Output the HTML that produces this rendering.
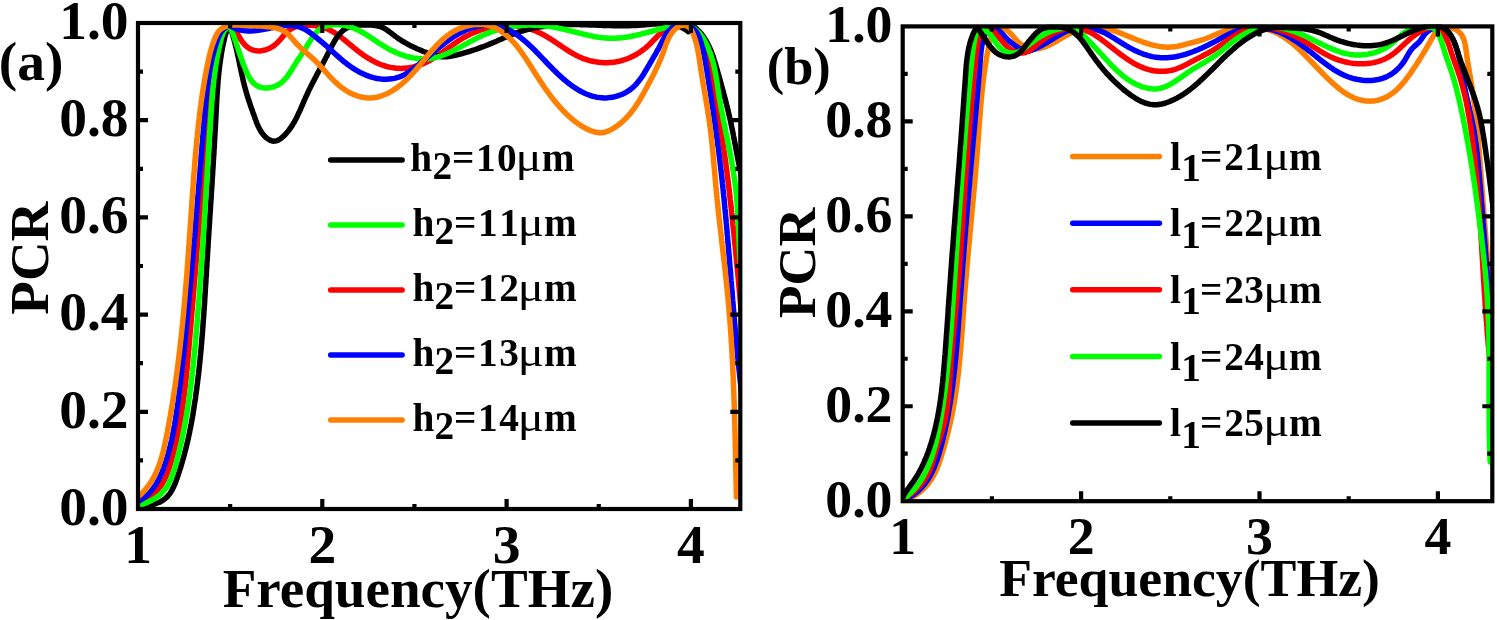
<!DOCTYPE html>
<html><head><meta charset="utf-8"><title>PCR</title>
<style>html,body{margin:0;padding:0;background:#fff;overflow:hidden;width:1497px;height:620px;} svg{display:block;}</style></head>
<body><svg width="1497" height="620" viewBox="0 0 1497 620">
<rect width="1497" height="620" fill="#fff"/>
<defs><clipPath id="ca"><rect x="138.0" y="21.0" width="602.3" height="488.0"/></clipPath><clipPath id="cb"><rect x="902.7" y="24.4" width="589.5999999999999" height="476.8"/></clipPath></defs>
<path d="M138.0,503.5 L139.3,503.0 L140.6,502.5 L141.9,502.0 L143.2,501.4 L144.5,500.7 L145.7,500.0 L146.9,499.3 L148.1,498.6 L149.3,497.8 L150.4,496.9 L151.5,496.0 L152.6,495.1 L153.7,494.2 L154.7,493.2 L155.7,492.2 L156.6,491.2 L157.6,490.2 L158.5,489.1 L159.3,488.0 L160.1,486.9 L160.9,485.8 L161.7,484.6 L162.4,483.4 L163.1,482.2 L163.7,481.0 L164.4,479.8 L165.0,478.6 L165.6,477.3 L166.1,476.0 L166.7,474.7 L167.2,473.5 L167.7,472.1 L168.2,470.8 L168.6,469.5 L169.1,468.2 L169.5,466.8 L170.0,465.5 L170.4,464.2 L170.8,462.8 L171.2,461.5 L171.5,460.1 L171.9,458.7 L172.3,457.4 L172.7,456.0 L173.0,454.7 L173.4,453.3 L173.7,452.0 L174.1,450.6 L174.4,449.2 L174.8,447.9 L175.1,446.5 L175.4,445.1 L175.7,443.8 L176.0,442.4 L176.4,441.0 L176.7,439.7 L177.0,438.3 L177.2,436.9 L177.5,435.6 L177.8,434.2 L178.1,432.8 L178.4,431.4 L178.6,430.1 L178.9,428.7 L179.2,427.3 L179.4,425.9 L179.7,424.6 L179.9,423.2 L180.2,421.8 L180.4,420.4 L180.6,419.0 L180.9,417.7 L181.1,416.3 L181.3,414.9 L181.5,413.5 L181.8,412.1 L182.0,410.8 L182.2,409.4 L182.4,408.0 L182.6,406.6 L182.8,405.2 L183.0,403.8 L183.2,402.5 L183.4,401.1 L183.5,399.7 L183.7,398.3 L183.9,396.9 L184.1,395.5 L184.3,394.1 L184.4,392.7 L184.6,391.4 L184.8,390.0 L184.9,388.6 L185.1,387.2 L185.2,385.8 L185.4,384.4 L185.6,383.0 L185.7,381.6 L185.9,380.2 L186.0,378.8 L186.2,377.5 L186.3,376.1 L186.4,374.7 L186.6,373.3 L186.7,371.9 L186.9,370.5 L187.0,369.1 L187.1,367.7 L187.3,366.3 L187.4,364.9 L187.5,363.5 L187.6,362.1 L187.8,360.7 L187.9,359.3 L188.0,357.9 L188.1,356.5 L188.3,355.2 L188.4,353.8 L188.5,352.4 L188.6,351.0 L188.8,349.6 L188.9,348.2 L189.0,346.8 L189.1,345.4 L189.2,344.0 L189.4,342.6 L189.5,341.2 L189.6,339.8 L189.7,338.4 L189.8,337.0 L189.9,335.6 L190.1,334.2 L190.2,332.8 L190.3,331.4 L190.4,330.1 L190.5,328.7 L190.6,327.3 L190.8,325.9 L190.9,324.5 L191.0,323.1 L191.1,321.7 L191.2,320.3 L191.4,318.9 L191.5,317.5 L191.6,316.1 L191.7,314.7 L191.8,313.3 L191.9,311.9 L192.1,310.5 L192.2,309.2 L192.3,307.8 L192.4,306.4 L192.5,305.0 L192.6,303.6 L192.8,302.2 L192.9,300.8 L193.0,299.4 L193.1,298.0 L193.2,296.6 L193.3,295.2 L193.5,293.8 L193.6,292.4 L193.7,291.0 L193.8,289.7 L193.9,288.3 L194.0,286.9 L194.1,285.5 L194.3,284.1 L194.4,282.7 L194.5,281.3 L194.6,279.9 L194.7,278.5 L194.8,277.1 L195.0,275.7 L195.1,274.3 L195.2,272.9 L195.3,271.5 L195.4,270.2 L195.5,268.8 L195.6,267.4 L195.8,266.0 L195.9,264.6 L196.0,263.2 L196.1,261.8 L196.2,260.4 L196.3,259.0 L196.4,257.6 L196.6,256.2 L196.7,254.8 L196.8,253.4 L196.9,252.1 L197.0,250.7 L197.1,249.3 L197.2,247.9 L197.3,246.5 L197.5,245.1 L197.6,243.7 L197.7,242.3 L197.8,240.9 L197.9,239.5 L198.0,238.1 L198.1,236.7 L198.2,235.3 L198.4,233.9 L198.5,232.6 L198.6,231.2 L198.7,229.8 L198.8,228.4 L198.9,227.0 L199.0,225.6 L199.1,224.2 L199.3,222.8 L199.4,221.4 L199.5,220.0 L199.6,218.6 L199.7,217.2 L199.8,215.8 L199.9,214.4 L200.0,213.1 L200.1,211.7 L200.3,210.3 L200.4,208.9 L200.5,207.5 L200.6,206.1 L200.7,204.7 L200.8,203.3 L200.9,201.9 L201.0,200.5 L201.1,199.1 L201.2,197.7 L201.4,196.3 L201.5,194.9 L201.6,193.5 L201.7,192.1 L201.8,190.7 L201.9,189.4 L202.0,188.0 L202.1,186.6 L202.2,185.2 L202.3,183.8 L202.4,182.4 L202.6,181.0 L202.7,179.6 L202.8,178.2 L202.9,176.8 L203.0,175.4 L203.1,174.0 L203.2,172.6 L203.3,171.2 L203.4,169.8 L203.5,168.4 L203.6,167.0 L203.7,165.6 L203.8,164.2 L203.9,162.8 L204.1,161.4 L204.2,160.0 L204.3,158.6 L204.4,157.2 L204.5,155.8 L204.6,154.5 L204.7,153.1 L204.8,151.7 L204.9,150.3 L205.0,148.9 L205.1,147.5 L205.2,146.1 L205.3,144.7 L205.4,143.3 L205.5,141.9 L205.6,140.5 L205.7,139.1 L205.8,137.7 L205.9,136.3 L206.1,134.9 L206.2,133.5 L206.3,132.1 L206.4,130.7 L206.5,129.3 L206.6,127.9 L206.7,126.5 L206.8,125.1 L206.9,123.7 L207.0,122.3 L207.1,120.9 L207.2,119.5 L207.3,118.1 L207.4,116.7 L207.5,115.3 L207.6,113.9 L207.7,112.5 L207.8,111.1 L207.9,109.7 L208.0,108.3 L208.1,106.9 L208.2,105.5 L208.3,104.1 L208.4,102.7 L208.6,101.3 L208.7,99.9 L208.8,98.5 L208.9,97.1 L209.0,95.7 L209.2,94.3 L209.3,92.9 L209.4,91.5 L209.6,90.1 L209.7,88.7 L209.9,87.3 L210.0,85.9 L210.2,84.5 L210.3,83.1 L210.5,81.7 L210.6,80.4 L210.8,79.0 L211.0,77.6 L211.2,76.2 L211.4,74.8 L211.6,73.4 L211.8,72.1 L212.0,70.7 L212.2,69.3 L212.4,67.9 L212.7,66.6 L212.9,65.2 L213.2,63.8 L213.4,62.5 L213.7,61.1 L213.9,59.7 L214.2,58.4 L214.5,57.0 L214.8,55.6 L215.1,54.3 L215.4,52.9 L215.8,51.6 L216.1,50.2 L216.4,48.9 L216.8,47.6 L217.2,46.2 L217.5,44.9 L217.9,43.6 L218.3,42.2 L218.7,40.9 L219.1,39.6 L219.6,38.2 L220.1,36.9 L220.6,35.6 L221.1,34.4 L221.7,33.2 L222.4,32.0 L223.2,30.8 L224.1,29.7 L225.1,28.6 L226.2,27.7 L227.4,26.7 L228.8,25.9 L230.1,25.8 L231.3,26.6 L232.4,27.4 L233.4,28.4 L234.4,29.3 L235.2,30.4 L236.0,31.5 L236.8,32.7 L237.5,33.9 L238.2,35.1 L238.9,36.3 L239.6,37.6 L240.4,38.8 L241.2,40.1 L242.0,41.3 L242.9,42.5 L243.8,43.6 L244.8,44.7 L245.8,45.7 L246.9,46.7 L248.0,47.5 L249.1,48.3 L250.3,49.0 L251.6,49.6 L252.8,50.0 L254.1,50.4 L255.4,50.6 L256.8,50.8 L258.1,50.9 L259.5,50.9 L260.9,50.8 L262.2,50.6 L263.6,50.3 L265.0,50.0 L266.3,49.6 L267.7,49.1 L269.0,48.5 L270.3,47.9 L271.5,47.2 L272.8,46.4 L274.0,45.6 L275.1,44.7 L276.2,43.7 L277.3,42.7 L278.3,41.7 L279.3,40.6 L280.3,39.5 L281.2,38.4 L282.2,37.3 L283.1,36.2 L284.0,35.2 L285.0,34.1 L285.9,33.1 L286.9,32.1 L287.9,31.2 L289.0,30.3 L290.1,29.6 L291.2,28.8 L292.4,28.2 L293.6,27.6 L294.8,27.1 L296.1,26.7 L297.4,26.3 L298.8,26.0 L300.1,25.8 L301.5,25.5 L302.9,25.4 L304.3,25.3 L305.7,25.2 L307.2,25.2 L308.6,25.2 L310.1,25.2 L311.5,25.3 L313.0,25.4 L314.4,25.5 L315.8,25.7 L317.3,25.9 L318.7,26.2 L320.0,26.5 L321.4,26.8 L322.7,27.2 L324.1,27.6 L325.3,28.1 L326.6,28.6 L327.9,29.1 L329.1,29.7 L330.3,30.3 L331.5,31.0 L332.7,31.6 L333.9,32.3 L335.1,33.1 L336.2,33.8 L337.4,34.6 L338.5,35.4 L339.6,36.2 L340.7,37.0 L341.8,37.9 L342.9,38.7 L344.0,39.6 L345.1,40.5 L346.2,41.4 L347.3,42.3 L348.4,43.2 L349.5,44.1 L350.6,45.0 L351.7,45.9 L352.7,46.8 L353.8,47.7 L354.9,48.6 L356.1,49.5 L357.2,50.4 L358.3,51.3 L359.4,52.1 L360.6,53.0 L361.7,53.8 L362.9,54.7 L364.0,55.5 L365.2,56.3 L366.4,57.0 L367.6,57.8 L368.8,58.5 L370.0,59.2 L371.2,59.9 L372.4,60.6 L373.7,61.3 L374.9,61.9 L376.2,62.5 L377.4,63.1 L378.7,63.7 L380.0,64.2 L381.3,64.7 L382.6,65.2 L383.9,65.6 L385.2,66.0 L386.5,66.4 L387.8,66.8 L389.2,67.1 L390.5,67.4 L391.9,67.6 L393.3,67.8 L394.7,68.0 L396.1,68.2 L397.5,68.3 L398.9,68.3 L400.3,68.4 L401.7,68.4 L403.1,68.3 L404.6,68.2 L406.0,68.1 L407.4,68.0 L408.9,67.8 L410.3,67.5 L411.7,67.3 L413.1,67.0 L414.5,66.6 L415.9,66.3 L417.2,65.9 L418.6,65.4 L419.9,65.0 L421.2,64.5 L422.5,64.0 L423.8,63.4 L425.0,62.8 L426.3,62.2 L427.5,61.6 L428.8,61.0 L430.0,60.3 L431.2,59.6 L432.4,58.9 L433.6,58.2 L434.7,57.4 L435.9,56.7 L437.1,55.9 L438.2,55.1 L439.4,54.3 L440.5,53.5 L441.7,52.7 L442.8,51.9 L443.9,51.1 L445.1,50.3 L446.2,49.5 L447.3,48.6 L448.5,47.8 L449.6,47.0 L450.8,46.2 L451.9,45.4 L453.1,44.5 L454.2,43.7 L455.4,42.9 L456.5,42.2 L457.7,41.4 L458.9,40.6 L460.1,39.9 L461.2,39.1 L462.5,38.4 L463.7,37.7 L464.9,37.0 L466.1,36.3 L467.4,35.7 L468.6,35.1 L469.9,34.4 L471.1,33.8 L472.4,33.2 L473.7,32.7 L475.0,32.1 L476.3,31.6 L477.6,31.1 L478.9,30.6 L480.2,30.1 L481.5,29.7 L482.8,29.3 L484.2,28.9 L485.5,28.5 L486.8,28.1 L488.2,27.8 L489.6,27.4 L490.9,27.1 L492.3,26.9 L493.6,26.6 L495.0,26.4 L496.4,26.2 L497.8,26.0 L499.2,25.8 L500.6,25.7 L502.0,25.6 L503.4,25.5 L504.8,25.5 L506.2,25.5 L507.6,25.5 L509.0,25.5 L510.4,25.5 L511.8,25.6 L513.2,25.7 L514.6,25.8 L516.0,26.0 L517.4,26.2 L518.8,26.4 L520.2,26.6 L521.6,26.9 L523.0,27.1 L524.3,27.4 L525.7,27.8 L527.1,28.1 L528.4,28.5 L529.8,28.9 L531.1,29.4 L532.4,29.8 L533.7,30.3 L535.0,30.8 L536.3,31.3 L537.6,31.9 L538.9,32.5 L540.1,33.0 L541.4,33.7 L542.6,34.3 L543.8,35.0 L545.0,35.6 L546.2,36.3 L547.4,37.0 L548.6,37.8 L549.8,38.5 L551.0,39.2 L552.1,40.0 L553.3,40.8 L554.5,41.5 L555.6,42.3 L556.8,43.1 L557.9,43.9 L559.1,44.6 L560.3,45.4 L561.4,46.2 L562.6,47.0 L563.8,47.8 L564.9,48.6 L566.1,49.3 L567.3,50.1 L568.5,50.9 L569.7,51.6 L570.9,52.3 L572.1,53.1 L573.3,53.8 L574.5,54.4 L575.8,55.1 L577.0,55.7 L578.3,56.4 L579.5,57.0 L580.8,57.5 L582.1,58.1 L583.4,58.6 L584.7,59.0 L586.0,59.5 L587.4,59.9 L588.7,60.3 L590.1,60.7 L591.4,61.0 L592.8,61.3 L594.2,61.6 L595.6,61.8 L597.0,62.1 L598.3,62.2 L599.7,62.4 L601.1,62.5 L602.5,62.6 L603.9,62.7 L605.3,62.7 L606.7,62.7 L608.1,62.7 L609.5,62.6 L610.9,62.5 L612.3,62.4 L613.7,62.2 L615.1,62.0 L616.4,61.8 L617.8,61.5 L619.2,61.2 L620.5,60.9 L621.9,60.5 L623.2,60.1 L624.6,59.7 L625.9,59.2 L627.2,58.7 L628.5,58.2 L629.8,57.7 L631.1,57.1 L632.4,56.5 L633.6,55.8 L634.9,55.2 L636.1,54.5 L637.3,53.8 L638.5,53.0 L639.7,52.3 L640.9,51.5 L642.0,50.6 L643.2,49.8 L644.3,48.9 L645.4,48.1 L646.5,47.1 L647.5,46.2 L648.6,45.3 L649.6,44.3 L650.6,43.3 L651.6,42.3 L652.5,41.3 L653.5,40.3 L654.5,39.3 L655.5,38.3 L656.4,37.3 L657.4,36.3 L658.4,35.3 L659.4,34.4 L660.5,33.4 L661.5,32.5 L662.6,31.7 L663.7,30.8 L664.8,30.0 L666.0,29.3 L667.2,28.6 L668.5,27.9 L669.8,27.3 L671.1,26.8 L672.5,26.3 L673.8,25.9 L675.2,25.5 L676.6,25.2 L678.1,25.0 L679.5,24.9 L680.9,24.8 L682.3,24.8 L683.7,24.9 L685.1,25.1 L686.5,25.4 L687.8,25.7 L689.1,26.2 L690.3,26.7 L691.5,27.3 L692.7,28.1 L693.8,28.9 L694.8,29.8 L695.8,30.7 L696.7,31.8 L697.5,32.8 L698.4,34.0 L699.1,35.1 L699.8,36.3 L700.5,37.6 L701.2,38.8 L701.8,40.1 L702.3,41.4 L702.9,42.7 L703.4,44.0 L703.9,45.4 L704.3,46.7 L704.8,48.1 L705.2,49.5 L705.6,50.8 L706.0,52.2 L706.4,53.5 L706.8,54.9 L707.2,56.3 L707.6,57.6 L707.9,59.0 L708.3,60.3 L708.6,61.7 L708.9,63.1 L709.2,64.4 L709.6,65.8 L709.9,67.2 L710.2,68.5 L710.4,69.9 L710.7,71.3 L711.0,72.6 L711.3,74.0 L711.5,75.3 L711.8,76.7 L712.1,78.1 L712.3,79.4 L712.6,80.8 L712.8,82.2 L713.1,83.5 L713.3,84.9 L713.5,86.3 L713.8,87.7 L714.0,89.0 L714.3,90.4 L714.5,91.8 L714.7,93.1 L715.0,94.5 L715.2,95.9 L715.4,97.3 L715.7,98.6 L715.9,100.0 L716.2,101.4 L716.4,102.8 L716.6,104.1 L716.9,105.5 L717.1,106.9 L717.4,108.3 L717.6,109.7 L717.8,111.0 L718.1,112.4 L718.3,113.8 L718.5,115.2 L718.8,116.6 L719.0,118.0 L719.2,119.3 L719.5,120.7 L719.7,122.1 L719.9,123.5 L720.2,124.9 L720.4,126.3 L720.6,127.6 L720.8,129.0 L721.0,130.4 L721.3,131.8 L721.5,133.2 L721.7,134.6 L721.9,135.9 L722.1,137.3 L722.3,138.7 L722.5,140.1 L722.7,141.5 L722.9,142.9 L723.2,144.3 L723.4,145.6 L723.6,147.0 L723.8,148.4 L723.9,149.8 L724.1,151.2 L724.3,152.6 L724.5,154.0 L724.7,155.3 L724.9,156.7 L725.1,158.1 L725.3,159.5 L725.5,160.9 L725.7,162.3 L725.8,163.7 L726.0,165.1 L726.2,166.4 L726.4,167.8 L726.6,169.2 L726.8,170.6 L726.9,172.0 L727.1,173.4 L727.3,174.8 L727.5,176.2 L727.6,177.5 L727.8,178.9 L728.0,180.3 L728.1,181.7 L728.3,183.1 L728.5,184.5 L728.6,185.9 L728.8,187.3 L729.0,188.7 L729.1,190.0 L729.3,191.4 L729.5,192.8 L729.6,194.2 L729.8,195.6 L729.9,197.0 L730.1,198.4 L730.2,199.8 L730.4,201.2 L730.6,202.5 L730.7,203.9 L730.9,205.3 L731.0,206.7 L731.2,208.1 L731.3,209.5 L731.5,210.9 L731.6,212.3 L731.8,213.7 L731.9,215.1 L732.1,216.5 L732.2,217.8 L732.4,219.2 L732.5,220.6 L732.7,222.0 L732.8,223.4 L732.9,224.8 L733.1,226.2 L733.2,227.6 L733.4,229.0 L733.5,230.4 L733.7,231.8 L733.8,233.1 L733.9,234.5 L734.1,235.9 L734.2,237.3 L734.4,238.7 L734.5,240.1 L734.6,241.5 L734.8,242.9 L734.9,244.3 L735.1,245.7 L735.2,247.1 L735.3,248.5 L735.5,249.9 L735.6,251.2 L735.8,252.6 L735.9,254.0 L736.0,255.4 L736.2,256.8 L736.3,258.2 L736.4,259.6 L736.6,261.0 L736.7,262.4 L736.8,263.8 L737.0,265.2 L737.1,266.6 L737.2,268.0 L737.4,269.4 L737.5,270.7 L737.6,272.1 L737.8,273.5 L737.9,274.9 L738.0,276.3 L738.2,277.7 L738.3,279.1 L738.4,280.5 L738.6,281.9 L738.7,283.3 L738.8,284.7 L738.9,286.1 L739.1,287.5 L739.2,288.9 L739.3,290.3 L739.4,291.7 L739.6,293.0 L739.7,294.4 L739.8,295.8 L739.9,297.2 L740.1,298.6 L740.2,300.0 L740.3,301.4 L740.4,302.8 L740.6,304.2 L740.7,305.6 L740.8,307.0 L740.9,308.4 L741.0,309.8 L741.2,311.2 L741.3,312.6 L741.4,314.0 L741.5,315.4 L741.6,316.8 L741.8,318.1 L741.9,319.5 L742.0,320.9 L742.1,322.3 L742.2,323.7 L742.3,325.1 L742.4,326.5 L742.6,327.9 L742.7,329.3 L742.8,330.7 L742.9,332.1 L743.0,333.5 L743.1,334.9 L743.2,336.3 L743.3,337.7 L743.4,339.1 L743.6,340.5 L743.7,341.9 L743.8,343.3 L743.9,344.7 L744.0,346.0 L744.1,347.4 L744.2,348.8 L744.3,350.2 L744.4,351.6 L744.5,353.0 L744.6,354.4 L744.7,355.8 L744.8,357.2 L744.9,358.6 L745.0,360.0" stroke="#ff0000" stroke-width="5.5" fill="none" stroke-linejoin="round" stroke-linecap="round" clip-path="url(#ca)"/>
<path d="M138.0,507.0 L139.3,506.9 L140.6,506.8 L142.0,506.6 L143.4,506.4 L144.8,506.2 L146.2,506.0 L147.7,505.8 L149.1,505.5 L150.6,505.2 L152.0,504.8 L153.4,504.4 L154.8,504.0 L156.2,503.5 L157.5,503.0 L158.9,502.5 L160.2,501.9 L161.4,501.2 L162.6,500.5 L163.7,499.7 L164.8,498.9 L165.8,498.0 L166.8,497.1 L167.7,496.2 L168.6,495.1 L169.4,494.1 L170.2,493.0 L170.9,491.9 L171.6,490.7 L172.3,489.5 L172.9,488.3 L173.5,487.0 L174.1,485.8 L174.7,484.5 L175.2,483.2 L175.7,481.9 L176.2,480.5 L176.7,479.2 L177.2,477.9 L177.6,476.5 L178.1,475.2 L178.5,473.8 L179.0,472.5 L179.4,471.1 L179.8,469.8 L180.3,468.4 L180.7,467.1 L181.1,465.7 L181.5,464.4 L181.9,463.0 L182.3,461.7 L182.7,460.3 L183.1,459.0 L183.5,457.6 L183.8,456.3 L184.2,454.9 L184.6,453.5 L184.9,452.2 L185.3,450.8 L185.6,449.5 L186.0,448.1 L186.3,446.7 L186.6,445.4 L187.0,444.0 L187.3,442.7 L187.6,441.3 L187.9,439.9 L188.2,438.6 L188.5,437.2 L188.8,435.8 L189.1,434.5 L189.4,433.1 L189.7,431.7 L189.9,430.4 L190.2,429.0 L190.5,427.6 L190.8,426.2 L191.0,424.9 L191.3,423.5 L191.5,422.1 L191.8,420.8 L192.0,419.4 L192.3,418.0 L192.5,416.6 L192.8,415.3 L193.0,413.9 L193.2,412.5 L193.4,411.1 L193.7,409.7 L193.9,408.4 L194.1,407.0 L194.3,405.6 L194.5,404.2 L194.7,402.9 L194.9,401.5 L195.2,400.1 L195.4,398.7 L195.6,397.3 L195.7,395.9 L195.9,394.6 L196.1,393.2 L196.3,391.8 L196.5,390.4 L196.7,389.0 L196.9,387.6 L197.0,386.3 L197.2,384.9 L197.4,383.5 L197.6,382.1 L197.7,380.7 L197.9,379.3 L198.1,377.9 L198.2,376.6 L198.4,375.2 L198.6,373.8 L198.7,372.4 L198.9,371.0 L199.0,369.6 L199.2,368.2 L199.3,366.8 L199.5,365.4 L199.6,364.1 L199.8,362.7 L199.9,361.3 L200.0,359.9 L200.2,358.5 L200.3,357.1 L200.4,355.7 L200.6,354.3 L200.7,352.9 L200.8,351.5 L201.0,350.1 L201.1,348.7 L201.2,347.3 L201.3,346.0 L201.5,344.6 L201.6,343.2 L201.7,341.8 L201.8,340.4 L201.9,339.0 L202.0,337.6 L202.2,336.2 L202.3,334.8 L202.4,333.4 L202.5,332.0 L202.6,330.6 L202.7,329.2 L202.8,327.8 L202.9,326.4 L203.0,325.0 L203.1,323.6 L203.2,322.2 L203.3,320.8 L203.4,319.4 L203.5,318.0 L203.6,316.6 L203.7,315.3 L203.8,313.9 L203.9,312.5 L204.0,311.1 L204.1,309.7 L204.2,308.3 L204.3,306.9 L204.4,305.5 L204.5,304.1 L204.6,302.7 L204.7,301.3 L204.7,299.9 L204.8,298.5 L204.9,297.1 L205.0,295.7 L205.1,294.3 L205.2,292.9 L205.3,291.5 L205.3,290.1 L205.4,288.7 L205.5,287.3 L205.6,285.9 L205.7,284.5 L205.8,283.1 L205.9,281.7 L205.9,280.3 L206.0,278.9 L206.1,277.5 L206.2,276.1 L206.3,274.7 L206.4,273.3 L206.4,271.9 L206.5,270.5 L206.6,269.1 L206.7,267.7 L206.8,266.3 L206.9,264.9 L206.9,263.5 L207.0,262.1 L207.1,260.7 L207.2,259.3 L207.3,258.0 L207.4,256.6 L207.5,255.2 L207.5,253.8 L207.6,252.4 L207.7,251.0 L207.8,249.6 L207.9,248.2 L208.0,246.8 L208.1,245.4 L208.1,244.0 L208.2,242.6 L208.3,241.2 L208.4,239.8 L208.5,238.4 L208.6,237.0 L208.7,235.6 L208.8,234.2 L208.8,232.8 L208.9,231.4 L209.0,230.0 L209.1,228.7 L209.2,227.3 L209.3,225.9 L209.4,224.5 L209.5,223.1 L209.6,221.7 L209.6,220.3 L209.7,218.9 L209.8,217.5 L209.9,216.1 L210.0,214.7 L210.1,213.3 L210.2,211.9 L210.3,210.5 L210.4,209.1 L210.5,207.7 L210.5,206.3 L210.6,205.0 L210.7,203.6 L210.8,202.2 L210.9,200.8 L211.0,199.4 L211.1,198.0 L211.2,196.6 L211.3,195.2 L211.3,193.8 L211.4,192.4 L211.5,191.0 L211.6,189.6 L211.7,188.2 L211.8,186.8 L211.9,185.4 L212.0,184.0 L212.1,182.6 L212.1,181.3 L212.2,179.9 L212.3,178.5 L212.4,177.1 L212.5,175.7 L212.6,174.3 L212.7,172.9 L212.7,171.5 L212.8,170.1 L212.9,168.7 L213.0,167.3 L213.1,165.9 L213.2,164.5 L213.3,163.1 L213.3,161.7 L213.4,160.3 L213.5,158.9 L213.6,157.5 L213.7,156.1 L213.8,154.7 L213.9,153.3 L213.9,151.9 L214.0,150.6 L214.1,149.2 L214.2,147.8 L214.3,146.4 L214.3,145.0 L214.4,143.6 L214.5,142.2 L214.6,140.8 L214.7,139.4 L214.7,138.0 L214.8,136.6 L214.9,135.2 L215.0,133.8 L215.1,132.4 L215.1,131.0 L215.2,129.6 L215.3,128.2 L215.4,126.8 L215.4,125.4 L215.5,124.0 L215.6,122.6 L215.7,121.2 L215.7,119.8 L215.8,118.4 L215.9,117.0 L216.0,115.6 L216.0,114.2 L216.1,112.8 L216.2,111.4 L216.2,110.0 L216.3,108.6 L216.4,107.2 L216.5,105.8 L216.5,104.4 L216.6,103.0 L216.7,101.6 L216.8,100.2 L216.8,98.8 L216.9,97.4 L217.0,96.0 L217.1,94.6 L217.2,93.2 L217.3,91.8 L217.4,90.4 L217.5,89.0 L217.6,87.6 L217.7,86.2 L217.8,84.8 L217.9,83.4 L218.0,82.0 L218.1,80.6 L218.2,79.2 L218.4,77.8 L218.5,76.4 L218.6,75.0 L218.8,73.6 L218.9,72.2 L219.1,70.8 L219.2,69.4 L219.4,68.1 L219.5,66.7 L219.7,65.3 L219.9,63.9 L220.1,62.5 L220.3,61.1 L220.5,59.8 L220.7,58.4 L220.9,57.0 L221.1,55.6 L221.3,54.2 L221.5,52.9 L221.8,51.5 L222.0,50.1 L222.3,48.8 L222.5,47.4 L222.8,46.0 L223.1,44.7 L223.4,43.3 L223.7,41.9 L224.0,40.6 L224.3,39.2 L224.6,37.9 L224.9,36.5 L225.3,35.2 L225.7,33.8 L226.2,32.5 L226.6,31.2 L227.2,29.9 L227.8,28.6 L228.4,27.4 L229.1,26.1 L230.2,27.5 L230.7,28.8 L231.1,30.1 L231.6,31.4 L232.0,32.8 L232.4,34.1 L232.8,35.4 L233.2,36.8 L233.6,38.1 L234.0,39.5 L234.3,40.8 L234.7,42.2 L235.0,43.5 L235.4,44.9 L235.7,46.3 L236.0,47.6 L236.4,49.0 L236.7,50.4 L237.0,51.7 L237.3,53.1 L237.6,54.5 L237.9,55.9 L238.2,57.2 L238.5,58.6 L238.8,60.0 L239.1,61.4 L239.4,62.7 L239.6,64.1 L239.9,65.5 L240.2,66.9 L240.5,68.2 L240.8,69.6 L241.1,71.0 L241.4,72.4 L241.7,73.7 L242.0,75.1 L242.3,76.5 L242.6,77.8 L242.9,79.2 L243.2,80.6 L243.5,81.9 L243.9,83.3 L244.2,84.6 L244.5,86.0 L244.9,87.3 L245.3,88.7 L245.6,90.0 L246.0,91.3 L246.4,92.7 L246.8,94.0 L247.2,95.3 L247.6,96.6 L248.0,98.0 L248.4,99.3 L248.8,100.6 L249.3,101.9 L249.7,103.2 L250.2,104.5 L250.6,105.9 L251.1,107.2 L251.5,108.5 L252.0,109.8 L252.5,111.1 L252.9,112.5 L253.4,113.8 L253.9,115.1 L254.4,116.4 L254.8,117.8 L255.3,119.1 L255.8,120.4 L256.3,121.8 L256.8,123.1 L257.4,124.4 L257.9,125.7 L258.5,127.0 L259.2,128.3 L259.9,129.6 L260.6,130.9 L261.4,132.1 L262.2,133.3 L263.2,134.5 L264.1,135.6 L265.2,136.7 L266.3,137.7 L267.5,138.6 L268.6,139.4 L269.9,140.1 L271.1,140.6 L272.3,141.0 L273.6,141.2 L274.8,141.1 L276.0,140.9 L277.2,140.6 L278.4,140.0 L279.6,139.4 L280.7,138.6 L281.8,137.7 L282.9,136.8 L284.0,135.7 L285.0,134.7 L286.0,133.6 L287.0,132.5 L287.9,131.4 L288.8,130.3 L289.6,129.2 L290.5,128.0 L291.3,126.8 L292.1,125.6 L292.8,124.4 L293.5,123.2 L294.3,122.0 L294.9,120.8 L295.6,119.5 L296.3,118.2 L296.9,117.0 L297.5,115.7 L298.1,114.4 L298.7,113.1 L299.3,111.9 L299.9,110.6 L300.5,109.3 L301.0,108.0 L301.6,106.7 L302.2,105.4 L302.7,104.1 L303.3,102.8 L303.8,101.5 L304.4,100.2 L305.0,98.9 L305.5,97.7 L306.1,96.4 L306.7,95.1 L307.3,93.9 L307.8,92.6 L308.4,91.4 L309.0,90.1 L309.6,88.9 L310.2,87.7 L310.8,86.4 L311.5,85.2 L312.1,84.0 L312.7,82.7 L313.3,81.5 L314.0,80.3 L314.6,79.1 L315.2,77.9 L315.9,76.6 L316.5,75.4 L317.1,74.2 L317.8,73.0 L318.4,71.8 L319.1,70.5 L319.7,69.3 L320.4,68.1 L321.0,66.8 L321.7,65.6 L322.3,64.4 L323.0,63.1 L323.7,61.9 L324.3,60.6 L325.0,59.4 L325.6,58.1 L326.3,56.9 L327.0,55.6 L327.6,54.3 L328.3,53.0 L328.9,51.7 L329.6,50.4 L330.2,49.1 L330.9,47.8 L331.6,46.5 L332.2,45.2 L332.9,44.0 L333.6,42.7 L334.3,41.4 L335.1,40.2 L335.8,39.0 L336.6,37.8 L337.4,36.7 L338.2,35.6 L339.1,34.5 L340.0,33.5 L340.9,32.5 L341.8,31.6 L342.8,30.7 L343.9,29.9 L345.0,29.1 L346.1,28.4 L347.3,27.8 L348.5,27.3 L349.8,26.8 L351.1,26.4 L352.4,26.0 L353.8,25.7 L355.2,25.5 L356.7,25.3 L358.1,25.1 L359.6,25.0 L361.0,24.9 L362.5,24.9 L364.0,24.9 L365.5,24.9 L366.9,24.9 L368.4,25.0 L369.8,25.0 L371.2,25.1 L372.6,25.2 L374.0,25.3 L375.4,25.5 L376.7,25.7 L378.0,26.0 L379.3,26.3 L380.6,26.7 L381.8,27.2 L383.0,27.7 L384.2,28.4 L385.4,29.0 L386.6,29.8 L387.7,30.6 L388.9,31.4 L390.0,32.3 L391.1,33.1 L392.3,34.0 L393.4,34.9 L394.6,35.8 L395.7,36.6 L396.8,37.4 L398.0,38.3 L399.2,39.1 L400.4,39.8 L401.5,40.6 L402.7,41.3 L403.9,42.0 L405.1,42.7 L406.4,43.4 L407.6,44.1 L408.8,44.8 L410.0,45.4 L411.3,46.0 L412.5,46.6 L413.8,47.2 L415.1,47.8 L416.3,48.4 L417.6,49.0 L418.9,49.5 L420.2,50.1 L421.5,50.6 L422.8,51.2 L424.1,51.7 L425.4,52.2 L426.8,52.7 L428.1,53.2 L429.4,53.7 L430.8,54.2 L432.1,54.6 L433.5,55.0 L434.8,55.4 L436.2,55.8 L437.6,56.1 L438.9,56.3 L440.3,56.5 L441.7,56.7 L443.0,56.7 L444.4,56.8 L445.8,56.7 L447.2,56.7 L448.6,56.5 L450.0,56.3 L451.3,56.1 L452.7,55.9 L454.1,55.6 L455.5,55.3 L456.8,54.9 L458.2,54.6 L459.6,54.2 L461.0,53.9 L462.3,53.5 L463.7,53.1 L465.0,52.7 L466.4,52.3 L467.7,51.9 L469.1,51.5 L470.4,51.1 L471.8,50.6 L473.1,50.2 L474.4,49.8 L475.7,49.3 L477.1,48.9 L478.4,48.4 L479.7,47.9 L481.0,47.4 L482.3,47.0 L483.6,46.5 L484.9,46.0 L486.2,45.5 L487.5,45.0 L488.8,44.4 L490.1,43.9 L491.4,43.4 L492.7,42.8 L494.0,42.3 L495.3,41.7 L496.6,41.2 L497.8,40.6 L499.1,40.0 L500.4,39.5 L501.7,38.9 L503.0,38.3 L504.3,37.8 L505.5,37.2 L506.8,36.7 L508.1,36.1 L509.4,35.6 L510.7,35.1 L512.0,34.6 L513.3,34.0 L514.6,33.6 L515.9,33.1 L517.3,32.6 L518.6,32.1 L519.9,31.7 L521.2,31.3 L522.6,30.9 L523.9,30.5 L525.3,30.1 L526.6,29.7 L528.0,29.4 L529.4,29.1 L530.7,28.7 L532.1,28.4 L533.5,28.1 L534.8,27.9 L536.2,27.6 L537.6,27.3 L539.0,27.1 L540.4,26.9 L541.8,26.7 L543.2,26.4 L544.5,26.3 L545.9,26.1 L547.3,25.9 L548.7,25.8 L550.1,25.6 L551.5,25.5 L552.9,25.3 L554.3,25.2 L555.7,25.1 L557.1,25.0 L558.5,25.0 L559.9,24.9 L561.3,24.8 L562.7,24.8 L564.1,24.7 L565.5,24.7 L566.8,24.6 L568.2,24.6 L569.6,24.6 L571.0,24.6 L572.4,24.6 L573.8,24.6 L575.2,24.6 L576.6,24.6 L578.0,24.6 L579.4,24.6 L580.7,24.7 L582.1,24.7 L583.5,24.7 L584.9,24.8 L586.3,24.8 L587.7,24.8 L589.1,24.9 L590.5,24.9 L591.9,25.0 L593.3,25.0 L594.7,25.1 L596.1,25.1 L597.5,25.2 L598.9,25.2 L600.2,25.3 L601.6,25.3 L603.0,25.4 L604.4,25.4 L605.8,25.5 L607.2,25.5 L608.6,25.6 L610.0,25.6 L611.4,25.6 L612.8,25.7 L614.3,25.7 L615.7,25.7 L617.1,25.8 L618.5,25.8 L619.9,25.8 L621.3,25.8 L622.7,25.8 L624.1,25.8 L625.5,25.8 L627.0,25.7 L628.4,25.7 L629.8,25.7 L631.2,25.6 L632.6,25.6 L634.1,25.5 L635.5,25.5 L636.9,25.4 L638.3,25.3 L639.8,25.2 L641.2,25.1 L642.6,25.0 L644.1,24.9 L645.5,24.7 L646.9,24.6 L648.4,24.5 L649.8,24.4 L651.2,24.2 L652.7,24.1 L654.1,24.0 L655.5,23.9 L656.9,23.8 L658.4,23.8 L659.8,23.7 L661.2,23.7 L662.6,23.7 L664.0,23.7 L665.3,23.8 L666.7,23.9 L668.1,24.0 L669.4,24.1 L670.8,24.3 L672.1,24.5 L673.5,24.7 L674.8,25.0 L676.1,25.4 L677.4,25.8 L678.7,26.2 L679.9,26.7 L681.2,27.2 L682.4,27.8 L683.7,28.5 L684.9,29.2 L686.1,30.0 L687.2,30.8 L688.4,31.7 L689.4,30.1 L690.4,28.6 L691.4,27.1 L692.4,25.5 L693.6,26.4 L694.7,27.3 L695.8,28.2 L696.9,29.1 L697.9,30.1 L698.9,31.1 L699.8,32.1 L700.7,33.2 L701.6,34.2 L702.4,35.3 L703.3,36.4 L704.0,37.5 L704.8,38.7 L705.5,39.8 L706.2,41.0 L706.9,42.2 L707.5,43.4 L708.2,44.6 L708.8,45.9 L709.4,47.1 L709.9,48.4 L710.5,49.6 L711.0,50.9 L711.5,52.2 L712.0,53.5 L712.5,54.8 L712.9,56.1 L713.4,57.4 L713.8,58.8 L714.2,60.1 L714.7,61.5 L715.1,62.8 L715.5,64.1 L715.9,65.5 L716.3,66.9 L716.7,68.2 L717.0,69.6 L717.4,70.9 L717.8,72.3 L718.2,73.6 L718.6,75.0 L719.0,76.3 L719.4,77.7 L719.7,79.0 L720.1,80.4 L720.5,81.8 L720.9,83.1 L721.2,84.5 L721.6,85.8 L722.0,87.2 L722.4,88.5 L722.7,89.9 L723.1,91.2 L723.5,92.6 L723.8,93.9 L724.2,95.3 L724.5,96.6 L724.9,98.0 L725.2,99.3 L725.6,100.7 L725.9,102.0 L726.3,103.4 L726.6,104.7 L727.0,106.1 L727.3,107.5 L727.6,108.8 L728.0,110.2 L728.3,111.5 L728.6,112.9 L728.9,114.2 L729.2,115.6 L729.5,117.0 L729.9,118.3 L730.2,119.7 L730.5,121.0 L730.8,122.4 L731.1,123.8 L731.3,125.1 L731.6,126.5 L731.9,127.8 L732.2,129.2 L732.5,130.6 L732.7,131.9 L733.0,133.3 L733.3,134.7 L733.5,136.0 L733.8,137.4 L734.1,138.8 L734.3,140.2 L734.6,141.5 L734.8,142.9 L735.1,144.3 L735.4,145.6 L735.6,147.0 L735.9,148.4 L736.1,149.8 L736.4,151.1 L736.7,152.5 L736.9,153.9 L737.2,155.2 L737.4,156.6 L737.7,158.0 L738.0,159.3 L738.2,160.7 L738.5,162.1 L738.8,163.5 L739.1,164.8 L739.3,166.2 L739.6,167.6 L739.9,168.9 L740.2,170.3 L740.5,171.7 L740.8,173.0 L741.1,174.4 L741.4,175.8 L741.7,177.1 L742.0,178.5 L742.4,179.8 L742.7,181.2 L743.0,182.6 L743.4,183.9 L743.7,185.3 L744.1,186.6 L744.4,188.0 L744.8,189.3 L745.0,190.0" stroke="#000000" stroke-width="5.5" fill="none" stroke-linejoin="round" stroke-linecap="round" clip-path="url(#ca)"/>
<path d="M138.0,505.5 L139.4,505.2 L140.7,504.8 L142.0,504.4 L143.4,503.9 L144.7,503.5 L146.0,503.0 L147.3,502.4 L148.6,501.8 L149.9,501.2 L151.2,500.6 L152.4,499.9 L153.7,499.2 L154.9,498.5 L156.0,497.7 L157.2,496.9 L158.3,496.0 L159.4,495.2 L160.4,494.2 L161.5,493.3 L162.4,492.3 L163.4,491.3 L164.3,490.2 L165.1,489.2 L166.0,488.0 L166.7,486.9 L167.5,485.7 L168.2,484.5 L168.8,483.3 L169.4,482.0 L170.0,480.7 L170.6,479.5 L171.2,478.2 L171.7,476.8 L172.2,475.5 L172.7,474.2 L173.1,472.9 L173.6,471.6 L174.0,470.2 L174.5,468.9 L174.9,467.6 L175.3,466.2 L175.6,464.9 L176.0,463.5 L176.4,462.2 L176.8,460.8 L177.1,459.5 L177.5,458.1 L177.8,456.7 L178.2,455.4 L178.5,454.0 L178.8,452.7 L179.2,451.3 L179.5,450.0 L179.8,448.6 L180.1,447.2 L180.4,445.9 L180.8,444.5 L181.1,443.1 L181.4,441.8 L181.7,440.4 L182.0,439.0 L182.3,437.7 L182.5,436.3 L182.8,434.9 L183.1,433.6 L183.4,432.2 L183.6,430.8 L183.9,429.4 L184.2,428.1 L184.4,426.7 L184.7,425.3 L185.0,424.0 L185.2,422.6 L185.5,421.2 L185.7,419.8 L185.9,418.4 L186.2,417.1 L186.4,415.7 L186.6,414.3 L186.9,412.9 L187.1,411.6 L187.3,410.2 L187.5,408.8 L187.8,407.4 L188.0,406.0 L188.2,404.6 L188.4,403.3 L188.6,401.9 L188.8,400.5 L189.0,399.1 L189.2,397.7 L189.4,396.3 L189.6,394.9 L189.8,393.6 L189.9,392.2 L190.1,390.8 L190.3,389.4 L190.5,388.0 L190.7,386.6 L190.8,385.2 L191.0,383.8 L191.2,382.5 L191.4,381.1 L191.5,379.7 L191.7,378.3 L191.9,376.9 L192.0,375.5 L192.2,374.1 L192.3,372.7 L192.5,371.3 L192.6,369.9 L192.8,368.5 L192.9,367.2 L193.1,365.8 L193.2,364.4 L193.4,363.0 L193.5,361.6 L193.7,360.2 L193.8,358.8 L194.0,357.4 L194.1,356.0 L194.2,354.6 L194.4,353.2 L194.5,351.8 L194.6,350.4 L194.8,349.0 L194.9,347.6 L195.0,346.3 L195.2,344.9 L195.3,343.5 L195.4,342.1 L195.5,340.7 L195.7,339.3 L195.8,337.9 L195.9,336.5 L196.0,335.1 L196.2,333.7 L196.3,332.3 L196.4,330.9 L196.5,329.5 L196.6,328.1 L196.8,326.7 L196.9,325.3 L197.0,323.9 L197.1,322.5 L197.2,321.2 L197.4,319.8 L197.5,318.4 L197.6,317.0 L197.7,315.6 L197.8,314.2 L197.9,312.8 L198.0,311.4 L198.1,310.0 L198.3,308.6 L198.4,307.2 L198.5,305.8 L198.6,304.4 L198.7,303.0 L198.8,301.6 L198.9,300.2 L199.0,298.9 L199.1,297.5 L199.2,296.1 L199.3,294.7 L199.4,293.3 L199.5,291.9 L199.6,290.5 L199.7,289.1 L199.8,287.7 L199.9,286.3 L200.0,284.9 L200.1,283.5 L200.2,282.1 L200.3,280.7 L200.4,279.3 L200.5,277.9 L200.6,276.5 L200.7,275.2 L200.8,273.8 L200.9,272.4 L201.0,271.0 L201.1,269.6 L201.2,268.2 L201.3,266.8 L201.4,265.4 L201.5,264.0 L201.6,262.6 L201.7,261.2 L201.8,259.8 L201.9,258.4 L202.0,257.0 L202.1,255.6 L202.2,254.2 L202.3,252.8 L202.3,251.4 L202.4,250.1 L202.5,248.7 L202.6,247.3 L202.7,245.9 L202.8,244.5 L202.9,243.1 L203.0,241.7 L203.1,240.3 L203.2,238.9 L203.2,237.5 L203.3,236.1 L203.4,234.7 L203.5,233.3 L203.6,231.9 L203.7,230.5 L203.8,229.1 L203.9,227.7 L203.9,226.3 L204.0,224.9 L204.1,223.6 L204.2,222.2 L204.3,220.8 L204.4,219.4 L204.5,218.0 L204.5,216.6 L204.6,215.2 L204.7,213.8 L204.8,212.4 L204.9,211.0 L205.0,209.6 L205.1,208.2 L205.1,206.8 L205.2,205.4 L205.3,204.0 L205.4,202.6 L205.5,201.2 L205.6,199.8 L205.7,198.4 L205.7,197.0 L205.8,195.6 L205.9,194.2 L206.0,192.9 L206.1,191.5 L206.2,190.1 L206.2,188.7 L206.3,187.3 L206.4,185.9 L206.5,184.5 L206.6,183.1 L206.7,181.7 L206.8,180.3 L206.8,178.9 L206.9,177.5 L207.0,176.1 L207.1,174.7 L207.2,173.3 L207.3,171.9 L207.4,170.5 L207.4,169.1 L207.5,167.7 L207.6,166.3 L207.7,164.9 L207.8,163.5 L207.9,162.1 L208.0,160.7 L208.0,159.3 L208.1,157.9 L208.2,156.5 L208.3,155.1 L208.4,153.7 L208.5,152.3 L208.6,150.9 L208.6,149.5 L208.7,148.1 L208.8,146.7 L208.9,145.3 L209.0,144.0 L209.1,142.6 L209.2,141.2 L209.3,139.8 L209.4,138.4 L209.4,137.0 L209.5,135.6 L209.6,134.2 L209.7,132.8 L209.8,131.4 L209.9,130.0 L210.0,128.6 L210.1,127.2 L210.2,125.8 L210.3,124.4 L210.4,123.0 L210.5,121.6 L210.6,120.2 L210.6,118.8 L210.7,117.4 L210.8,116.0 L210.9,114.6 L211.0,113.2 L211.1,111.8 L211.2,110.4 L211.3,109.0 L211.4,107.6 L211.5,106.2 L211.6,104.8 L211.7,103.4 L211.8,102.0 L212.0,100.6 L212.1,99.2 L212.2,97.8 L212.3,96.4 L212.4,95.0 L212.5,93.6 L212.7,92.2 L212.8,90.8 L212.9,89.4 L213.0,88.0 L213.2,86.6 L213.3,85.2 L213.5,83.8 L213.6,82.4 L213.8,81.0 L213.9,79.7 L214.1,78.3 L214.3,76.9 L214.4,75.5 L214.6,74.1 L214.8,72.7 L215.0,71.3 L215.2,70.0 L215.4,68.6 L215.6,67.2 L215.8,65.8 L216.0,64.4 L216.2,63.1 L216.4,61.7 L216.7,60.3 L216.9,58.9 L217.1,57.6 L217.4,56.2 L217.6,54.8 L217.9,53.5 L218.2,52.1 L218.5,50.7 L218.8,49.4 L219.0,48.0 L219.4,46.7 L219.7,45.3 L220.0,44.0 L220.3,42.6 L220.6,41.3 L221.0,39.9 L221.3,38.6 L221.7,37.2 L222.1,35.9 L222.6,34.6 L223.1,33.3 L223.7,32.1 L224.4,30.9 L225.2,29.7 L226.1,28.6 L227.1,27.5 L228.2,26.5 L229.5,25.5 L230.1,26.9 L230.6,28.2 L231.2,29.5 L231.7,30.9 L232.2,32.2 L232.7,33.5 L233.2,34.8 L233.7,36.1 L234.2,37.4 L234.6,38.7 L235.1,40.0 L235.5,41.3 L236.0,42.6 L236.4,43.9 L236.8,45.2 L237.3,46.4 L237.7,47.7 L238.1,49.0 L238.5,50.3 L239.0,51.6 L239.4,52.9 L239.8,54.2 L240.3,55.5 L240.7,56.8 L241.2,58.1 L241.7,59.4 L242.1,60.8 L242.6,62.1 L243.1,63.5 L243.6,64.8 L244.2,66.2 L244.7,67.5 L245.3,68.9 L245.8,70.3 L246.4,71.7 L247.1,73.1 L247.7,74.5 L248.4,75.8 L249.1,77.1 L249.9,78.4 L250.7,79.6 L251.5,80.8 L252.4,81.9 L253.3,82.9 L254.3,83.8 L255.3,84.7 L256.4,85.4 L257.5,86.0 L258.7,86.6 L260.0,87.1 L261.2,87.4 L262.5,87.7 L263.9,87.9 L265.2,88.0 L266.6,88.0 L268.0,87.9 L269.3,87.7 L270.7,87.5 L272.1,87.2 L273.4,86.8 L274.8,86.3 L276.1,85.8 L277.4,85.2 L278.6,84.5 L279.8,83.7 L281.0,82.9 L282.1,82.1 L283.1,81.1 L284.1,80.1 L285.1,79.1 L286.0,78.0 L286.9,76.9 L287.8,75.8 L288.6,74.6 L289.4,73.4 L290.2,72.2 L290.9,71.0 L291.7,69.7 L292.5,68.5 L293.2,67.3 L294.0,66.1 L294.7,64.9 L295.5,63.7 L296.2,62.5 L297.0,61.3 L297.7,60.1 L298.5,58.9 L299.3,57.8 L300.0,56.6 L300.8,55.5 L301.6,54.3 L302.3,53.1 L303.1,52.0 L303.9,50.8 L304.6,49.7 L305.4,48.5 L306.1,47.3 L306.9,46.1 L307.6,44.9 L308.4,43.7 L309.1,42.5 L309.9,41.3 L310.6,40.1 L311.4,38.8 L312.2,37.7 L313.0,36.5 L313.8,35.3 L314.6,34.2 L315.5,33.1 L316.4,32.1 L317.4,31.2 L318.4,30.3 L319.5,29.4 L320.6,28.7 L321.7,28.0 L322.9,27.4 L324.2,26.8 L325.5,26.3 L326.8,25.9 L328.1,25.6 L329.5,25.3 L330.9,25.0 L332.3,24.9 L333.8,24.7 L335.2,24.7 L336.7,24.7 L338.1,24.7 L339.6,24.8 L341.0,24.9 L342.5,25.1 L343.9,25.3 L345.3,25.6 L346.7,25.9 L348.0,26.3 L349.4,26.7 L350.7,27.1 L352.0,27.5 L353.3,28.0 L354.6,28.5 L355.8,29.1 L357.1,29.6 L358.3,30.2 L359.6,30.9 L360.8,31.5 L362.0,32.2 L363.2,32.8 L364.4,33.5 L365.6,34.3 L366.7,35.0 L367.9,35.7 L369.1,36.5 L370.3,37.2 L371.4,38.0 L372.6,38.8 L373.8,39.6 L374.9,40.3 L376.1,41.1 L377.3,41.9 L378.4,42.7 L379.6,43.5 L380.8,44.2 L382.0,45.0 L383.2,45.7 L384.4,46.5 L385.6,47.2 L386.8,47.9 L388.1,48.6 L389.3,49.3 L390.6,50.0 L391.9,50.6 L393.1,51.2 L394.4,51.8 L395.7,52.4 L397.0,53.0 L398.4,53.5 L399.7,54.1 L401.0,54.5 L402.4,55.0 L403.7,55.5 L405.1,55.9 L406.4,56.3 L407.8,56.7 L409.1,57.0 L410.5,57.3 L411.9,57.6 L413.3,57.9 L414.6,58.1 L416.0,58.3 L417.4,58.5 L418.7,58.6 L420.1,58.7 L421.5,58.8 L422.9,58.9 L424.2,58.9 L425.6,58.8 L427.0,58.8 L428.3,58.7 L429.7,58.5 L431.0,58.4 L432.3,58.2 L433.7,57.9 L435.0,57.6 L436.3,57.3 L437.6,57.0 L439.0,56.6 L440.3,56.2 L441.6,55.8 L442.9,55.3 L444.2,54.8 L445.5,54.3 L446.7,53.7 L448.0,53.2 L449.3,52.6 L450.6,52.0 L451.9,51.4 L453.1,50.8 L454.4,50.1 L455.7,49.5 L456.9,48.8 L458.2,48.2 L459.5,47.5 L460.7,46.8 L462.0,46.1 L463.2,45.4 L464.5,44.7 L465.8,44.0 L467.0,43.3 L468.3,42.6 L469.5,41.9 L470.8,41.3 L472.1,40.6 L473.3,39.9 L474.6,39.3 L475.9,38.6 L477.1,38.0 L478.4,37.4 L479.7,36.7 L481.0,36.2 L482.2,35.6 L483.5,35.0 L484.8,34.4 L486.1,33.9 L487.4,33.4 L488.7,32.9 L490.0,32.4 L491.3,31.9 L492.6,31.4 L493.9,31.0 L495.2,30.5 L496.5,30.1 L497.8,29.7 L499.1,29.3 L500.4,29.0 L501.8,28.6 L503.1,28.3 L504.4,27.9 L505.8,27.6 L507.1,27.4 L508.5,27.1 L509.8,26.9 L511.2,26.6 L512.6,26.4 L513.9,26.2 L515.3,26.0 L516.7,25.9 L518.1,25.7 L519.4,25.6 L520.8,25.5 L522.2,25.4 L523.6,25.3 L525.0,25.2 L526.4,25.2 L527.8,25.1 L529.2,25.1 L530.6,25.1 L532.0,25.1 L533.4,25.2 L534.8,25.2 L536.2,25.3 L537.6,25.3 L539.0,25.4 L540.4,25.5 L541.8,25.6 L543.2,25.8 L544.6,25.9 L546.0,26.1 L547.4,26.2 L548.8,26.4 L550.2,26.6 L551.6,26.8 L553.0,27.1 L554.4,27.3 L555.8,27.5 L557.2,27.8 L558.5,28.1 L559.9,28.4 L561.3,28.7 L562.7,29.0 L564.1,29.3 L565.5,29.6 L566.9,30.0 L568.2,30.3 L569.6,30.6 L571.0,31.0 L572.4,31.3 L573.7,31.7 L575.1,32.0 L576.5,32.4 L577.8,32.7 L579.2,33.1 L580.6,33.4 L582.0,33.8 L583.3,34.1 L584.7,34.4 L586.1,34.7 L587.4,35.1 L588.8,35.4 L590.2,35.7 L591.5,35.9 L592.9,36.2 L594.2,36.5 L595.6,36.7 L597.0,37.0 L598.3,37.2 L599.7,37.4 L601.1,37.6 L602.4,37.7 L603.8,37.9 L605.2,38.0 L606.5,38.1 L607.9,38.2 L609.3,38.3 L610.6,38.3 L612.0,38.3 L613.4,38.3 L614.7,38.3 L616.1,38.2 L617.5,38.1 L618.9,38.0 L620.2,37.9 L621.6,37.8 L623.0,37.6 L624.4,37.4 L625.7,37.2 L627.1,37.0 L628.5,36.8 L629.9,36.5 L631.2,36.3 L632.6,36.0 L634.0,35.7 L635.4,35.4 L636.7,35.1 L638.1,34.8 L639.5,34.5 L640.9,34.1 L642.2,33.8 L643.6,33.4 L645.0,33.1 L646.4,32.7 L647.7,32.4 L649.1,32.0 L650.5,31.6 L651.9,31.2 L653.3,30.9 L654.6,30.5 L656.0,30.1 L657.4,29.7 L658.7,29.4 L660.1,29.0 L661.5,28.6 L662.9,28.3 L664.2,27.9 L665.6,27.5 L667.0,27.2 L668.3,26.9 L669.7,26.5 L671.1,26.2 L672.5,25.9 L673.8,25.7 L675.2,25.4 L676.6,25.2 L678.0,25.1 L679.4,25.0 L680.8,24.9 L682.2,24.9 L683.6,25.0 L685.0,25.1 L686.4,25.4 L687.7,25.6 L689.0,26.0 L690.3,26.5 L691.5,27.0 L692.6,27.6 L693.8,28.3 L694.9,29.1 L695.9,29.9 L697.0,30.8 L697.9,31.7 L698.9,32.7 L699.8,33.7 L700.7,34.8 L701.5,35.9 L702.4,37.1 L703.2,38.3 L703.9,39.5 L704.7,40.8 L705.4,42.0 L706.0,43.3 L706.7,44.6 L707.3,45.9 L707.9,47.2 L708.5,48.5 L709.0,49.9 L709.5,51.2 L710.0,52.5 L710.5,53.8 L711.0,55.2 L711.4,56.5 L711.8,57.9 L712.2,59.2 L712.6,60.6 L713.0,61.9 L713.3,63.3 L713.6,64.6 L714.0,66.0 L714.3,67.3 L714.6,68.7 L714.8,70.1 L715.1,71.4 L715.4,72.8 L715.6,74.2 L715.9,75.5 L716.1,76.9 L716.3,78.3 L716.6,79.7 L716.8,81.0 L717.0,82.4 L717.2,83.8 L717.4,85.2 L717.6,86.6 L717.8,87.9 L718.0,89.3 L718.2,90.7 L718.5,92.1 L718.7,93.5 L718.9,94.8 L719.1,96.2 L719.3,97.6 L719.6,99.0 L719.8,100.3 L720.0,101.7 L720.3,103.1 L720.5,104.5 L720.8,105.9 L721.0,107.2 L721.3,108.6 L721.5,110.0 L721.8,111.4 L722.0,112.7 L722.3,114.1 L722.6,115.5 L722.8,116.9 L723.1,118.2 L723.4,119.6 L723.6,121.0 L723.9,122.3 L724.2,123.7 L724.5,125.1 L724.7,126.5 L725.0,127.8 L725.3,129.2 L725.6,130.6 L725.8,132.0 L726.1,133.3 L726.4,134.7 L726.7,136.1 L727.0,137.5 L727.2,138.8 L727.5,140.2 L727.8,141.6 L728.1,142.9 L728.3,144.3 L728.6,145.7 L728.9,147.1 L729.2,148.4 L729.4,149.8 L729.7,151.2 L730.0,152.6 L730.2,153.9 L730.5,155.3 L730.7,156.7 L731.0,158.1 L731.3,159.4 L731.5,160.8 L731.7,162.2 L732.0,163.6 L732.2,165.0 L732.5,166.3 L732.7,167.7 L732.9,169.1 L733.2,170.5 L733.4,171.9 L733.6,173.2 L733.8,174.6 L734.0,176.0 L734.2,177.4 L734.4,178.8 L734.6,180.1 L734.8,181.5 L735.0,182.9 L735.2,184.3 L735.3,185.7 L735.5,187.1 L735.7,188.5 L735.8,189.9 L736.0,191.2 L736.1,192.6 L736.3,194.0 L736.4,195.4 L736.5,196.8 L736.7,198.2 L736.8,199.6 L736.9,201.0 L737.0,202.4 L737.1,203.8 L737.2,205.2 L737.3,206.6 L737.4,208.0 L737.5,209.4 L737.6,210.8 L737.7,212.2 L737.8,213.5 L737.8,214.9 L737.9,216.3 L738.0,217.7 L738.1,219.1 L738.1,220.5 L738.2,221.9 L738.3,223.3 L738.3,224.7 L738.4,226.1 L738.5,227.5 L738.5,228.9 L738.6,230.3 L738.7,231.7 L738.7,233.1 L738.8,234.5 L738.8,235.9 L738.9,237.3 L739.0,238.7 L739.0,240.1 L739.1,241.5 L739.2,242.9 L739.2,244.3 L739.3,245.7 L739.4,247.1 L739.4,248.5 L739.5,249.9 L739.6,251.3 L739.7,252.7 L739.7,254.1 L739.8,255.5 L739.9,256.9 L740.0,258.3 L740.1,259.7 L740.2,261.1 L740.3,262.5 L740.4,263.9 L740.5,265.3 L740.6,266.7 L740.7,268.1 L740.8,269.5 L741.0,270.9 L741.1,272.3 L741.2,273.7 L741.4,275.1 L741.5,276.5 L741.7,277.9 L741.8,279.2 L742.0,280.6 L742.2,282.0 L742.3,283.4 L742.5,284.8 L742.7,286.2 L742.9,287.6 L743.1,289.0 L743.3,290.3 L743.5,291.7 L743.8,293.1 L744.0,294.5 L744.2,295.9 L744.5,297.2 L744.7,298.6 L745.0,300.0" stroke="#00ff00" stroke-width="5.5" fill="none" stroke-linejoin="round" stroke-linecap="round" clip-path="url(#ca)"/>
<path d="M138.0,501.5 L139.3,500.8 L140.5,500.1 L141.7,499.3 L142.9,498.5 L144.0,497.7 L145.1,496.8 L146.2,495.9 L147.2,495.0 L148.2,494.1 L149.2,493.1 L150.1,492.1 L151.1,491.1 L151.9,490.0 L152.8,488.9 L153.6,487.8 L154.4,486.7 L155.2,485.6 L155.9,484.4 L156.7,483.2 L157.4,482.0 L158.0,480.8 L158.7,479.6 L159.3,478.3 L159.9,477.1 L160.5,475.8 L161.1,474.5 L161.7,473.2 L162.2,471.9 L162.7,470.6 L163.2,469.3 L163.7,468.0 L164.2,466.6 L164.7,465.3 L165.1,464.0 L165.6,462.6 L166.0,461.2 L166.4,459.9 L166.9,458.5 L167.3,457.2 L167.7,455.8 L168.0,454.5 L168.4,453.1 L168.8,451.8 L169.1,450.4 L169.5,449.0 L169.8,447.7 L170.2,446.3 L170.5,445.0 L170.8,443.6 L171.1,442.2 L171.5,440.9 L171.8,439.5 L172.0,438.1 L172.3,436.8 L172.6,435.4 L172.9,434.1 L173.2,432.7 L173.4,431.3 L173.7,429.9 L173.9,428.6 L174.2,427.2 L174.4,425.8 L174.7,424.5 L174.9,423.1 L175.1,421.7 L175.4,420.4 L175.6,419.0 L175.8,417.6 L176.0,416.2 L176.2,414.9 L176.4,413.5 L176.6,412.1 L176.8,410.7 L177.0,409.3 L177.2,408.0 L177.4,406.6 L177.6,405.2 L177.8,403.8 L178.0,402.4 L178.1,401.1 L178.3,399.7 L178.5,398.3 L178.7,396.9 L178.9,395.5 L179.0,394.1 L179.2,392.7 L179.4,391.4 L179.6,390.0 L179.7,388.6 L179.9,387.2 L180.1,385.8 L180.2,384.4 L180.4,383.0 L180.6,381.6 L180.7,380.3 L180.9,378.9 L181.1,377.5 L181.2,376.1 L181.4,374.7 L181.5,373.3 L181.7,371.9 L181.8,370.5 L182.0,369.1 L182.2,367.7 L182.3,366.3 L182.5,364.9 L182.6,363.5 L182.8,362.1 L182.9,360.8 L183.1,359.4 L183.2,358.0 L183.4,356.6 L183.5,355.2 L183.7,353.8 L183.8,352.4 L183.9,351.0 L184.1,349.6 L184.2,348.2 L184.4,346.8 L184.5,345.4 L184.7,344.0 L184.8,342.6 L185.0,341.2 L185.1,339.8 L185.2,338.4 L185.4,337.0 L185.5,335.6 L185.7,334.2 L185.8,332.9 L185.9,331.5 L186.1,330.1 L186.2,328.7 L186.3,327.3 L186.5,325.9 L186.6,324.5 L186.8,323.1 L186.9,321.7 L187.0,320.3 L187.2,318.9 L187.3,317.5 L187.4,316.1 L187.6,314.7 L187.7,313.3 L187.8,312.0 L188.0,310.6 L188.1,309.2 L188.2,307.8 L188.4,306.4 L188.5,305.0 L188.6,303.6 L188.7,302.2 L188.9,300.8 L189.0,299.4 L189.1,298.0 L189.3,296.6 L189.4,295.2 L189.5,293.9 L189.7,292.5 L189.8,291.1 L189.9,289.7 L190.0,288.3 L190.2,286.9 L190.3,285.5 L190.4,284.1 L190.5,282.7 L190.7,281.3 L190.8,279.9 L190.9,278.5 L191.0,277.2 L191.2,275.8 L191.3,274.4 L191.4,273.0 L191.5,271.6 L191.7,270.2 L191.8,268.8 L191.9,267.4 L192.0,266.0 L192.2,264.6 L192.3,263.2 L192.4,261.9 L192.5,260.5 L192.6,259.1 L192.8,257.7 L192.9,256.3 L193.0,254.9 L193.1,253.5 L193.2,252.1 L193.4,250.7 L193.5,249.3 L193.6,247.9 L193.7,246.6 L193.8,245.2 L194.0,243.8 L194.1,242.4 L194.2,241.0 L194.3,239.6 L194.4,238.2 L194.6,236.8 L194.7,235.4 L194.8,234.0 L194.9,232.6 L195.0,231.3 L195.1,229.9 L195.3,228.5 L195.4,227.1 L195.5,225.7 L195.6,224.3 L195.7,222.9 L195.8,221.5 L196.0,220.1 L196.1,218.7 L196.2,217.3 L196.3,215.9 L196.4,214.6 L196.5,213.2 L196.7,211.8 L196.8,210.4 L196.9,209.0 L197.0,207.6 L197.1,206.2 L197.2,204.8 L197.4,203.4 L197.5,202.0 L197.6,200.6 L197.7,199.2 L197.8,197.8 L197.9,196.5 L198.0,195.1 L198.2,193.7 L198.3,192.3 L198.4,190.9 L198.5,189.5 L198.6,188.1 L198.7,186.7 L198.8,185.3 L199.0,183.9 L199.1,182.5 L199.2,181.1 L199.3,179.7 L199.4,178.3 L199.5,177.0 L199.6,175.6 L199.8,174.2 L199.9,172.8 L200.0,171.4 L200.1,170.0 L200.2,168.6 L200.3,167.2 L200.4,165.8 L200.6,164.4 L200.7,163.0 L200.8,161.6 L200.9,160.2 L201.0,158.8 L201.1,157.4 L201.2,156.0 L201.3,154.6 L201.5,153.2 L201.6,151.8 L201.7,150.4 L201.8,149.1 L201.9,147.7 L202.0,146.3 L202.1,144.9 L202.3,143.5 L202.4,142.1 L202.5,140.7 L202.6,139.3 L202.7,137.9 L202.8,136.5 L203.0,135.1 L203.1,133.7 L203.2,132.3 L203.3,130.9 L203.4,129.5 L203.5,128.1 L203.6,126.7 L203.8,125.3 L203.9,123.9 L204.0,122.5 L204.1,121.1 L204.2,119.7 L204.3,118.3 L204.5,116.9 L204.6,115.5 L204.7,114.1 L204.8,112.7 L204.9,111.3 L205.0,109.9 L205.2,108.5 L205.3,107.1 L205.4,105.7 L205.5,104.3 L205.7,102.9 L205.8,101.5 L205.9,100.1 L206.1,98.7 L206.2,97.3 L206.3,95.9 L206.5,94.5 L206.6,93.1 L206.8,91.7 L206.9,90.3 L207.1,88.9 L207.3,87.5 L207.4,86.2 L207.6,84.8 L207.8,83.4 L208.0,82.0 L208.2,80.6 L208.3,79.2 L208.6,77.8 L208.8,76.5 L209.0,75.1 L209.2,73.7 L209.4,72.3 L209.6,70.9 L209.9,69.6 L210.1,68.2 L210.4,66.8 L210.7,65.5 L210.9,64.1 L211.2,62.7 L211.5,61.4 L211.8,60.0 L212.1,58.7 L212.4,57.3 L212.7,56.0 L213.1,54.6 L213.4,53.3 L213.8,51.9 L214.1,50.6 L214.5,49.2 L214.9,47.9 L215.3,46.6 L215.7,45.2 L216.1,43.9 L216.5,42.6 L217.0,41.3 L217.4,40.0 L217.9,38.6 L218.4,37.3 L218.9,36.1 L219.5,34.8 L220.1,33.6 L220.8,32.4 L221.6,31.3 L222.5,30.2 L223.5,29.1 L224.6,28.2 L225.8,27.3 L227.2,26.5 L228.7,25.8 L230.2,25.9 L231.5,26.6 L232.8,27.3 L234.2,27.9 L235.5,28.5 L236.8,28.9 L238.2,29.4 L239.5,29.7 L240.8,30.0 L242.2,30.3 L243.5,30.5 L244.9,30.7 L246.2,30.8 L247.6,30.9 L248.9,30.9 L250.3,30.9 L251.6,30.9 L253.0,30.8 L254.4,30.7 L255.7,30.5 L257.1,30.4 L258.5,30.2 L259.8,30.0 L261.2,29.8 L262.6,29.6 L264.0,29.3 L265.4,29.1 L266.8,28.8 L268.2,28.5 L269.6,28.2 L271.0,27.9 L272.4,27.7 L273.8,27.4 L275.3,27.1 L276.7,26.9 L278.1,26.6 L279.5,26.4 L280.9,26.2 L282.3,26.0 L283.7,25.9 L285.1,25.7 L286.5,25.6 L287.9,25.6 L289.3,25.6 L290.6,25.6 L292.0,25.6 L293.3,25.8 L294.7,25.9 L296.0,26.1 L297.3,26.4 L298.6,26.7 L299.9,27.1 L301.2,27.6 L302.4,28.1 L303.7,28.7 L304.9,29.3 L306.1,30.0 L307.3,30.8 L308.5,31.6 L309.7,32.4 L310.8,33.2 L312.0,34.1 L313.1,35.0 L314.3,35.9 L315.4,36.8 L316.5,37.7 L317.6,38.6 L318.7,39.5 L319.8,40.4 L320.9,41.3 L322.0,42.2 L323.1,43.1 L324.1,44.0 L325.2,44.9 L326.2,45.8 L327.3,46.8 L328.3,47.7 L329.3,48.6 L330.4,49.5 L331.4,50.5 L332.4,51.4 L333.4,52.3 L334.4,53.2 L335.5,54.2 L336.5,55.1 L337.5,56.0 L338.5,56.9 L339.6,57.9 L340.6,58.8 L341.7,59.7 L342.7,60.6 L343.8,61.5 L344.9,62.3 L346.0,63.2 L347.1,64.1 L348.3,64.9 L349.4,65.7 L350.6,66.6 L351.7,67.4 L352.9,68.2 L354.1,68.9 L355.3,69.7 L356.5,70.4 L357.8,71.1 L359.0,71.8 L360.3,72.5 L361.5,73.1 L362.8,73.7 L364.1,74.3 L365.3,74.9 L366.6,75.4 L368.0,75.9 L369.3,76.4 L370.6,76.8 L371.9,77.2 L373.3,77.6 L374.6,77.9 L376.0,78.2 L377.3,78.5 L378.7,78.7 L380.1,78.9 L381.5,79.1 L382.8,79.2 L384.2,79.2 L385.6,79.2 L387.0,79.2 L388.4,79.1 L389.8,79.0 L391.3,78.8 L392.7,78.6 L394.0,78.4 L395.4,78.1 L396.8,77.7 L398.1,77.3 L399.5,76.9 L400.8,76.4 L402.1,75.8 L403.4,75.2 L404.6,74.6 L405.8,73.9 L407.0,73.2 L408.2,72.4 L409.4,71.7 L410.5,70.9 L411.7,70.0 L412.8,69.2 L413.9,68.3 L415.0,67.4 L416.1,66.6 L417.2,65.7 L418.3,64.8 L419.4,63.9 L420.5,63.0 L421.5,62.1 L422.6,61.2 L423.7,60.3 L424.8,59.5 L425.8,58.6 L426.9,57.7 L428.0,56.8 L429.1,55.9 L430.1,55.0 L431.2,54.1 L432.3,53.2 L433.4,52.3 L434.4,51.4 L435.5,50.5 L436.6,49.6 L437.7,48.7 L438.8,47.8 L439.9,46.9 L441.0,46.0 L442.1,45.2 L443.2,44.3 L444.3,43.4 L445.4,42.6 L446.5,41.7 L447.7,40.9 L448.8,40.1 L449.9,39.3 L451.1,38.5 L452.2,37.7 L453.4,36.9 L454.6,36.2 L455.8,35.5 L457.0,34.7 L458.2,34.0 L459.4,33.4 L460.6,32.7 L461.8,32.1 L463.0,31.5 L464.3,30.9 L465.6,30.3 L466.8,29.8 L468.1,29.2 L469.4,28.7 L470.7,28.3 L472.0,27.8 L473.4,27.4 L474.7,27.1 L476.1,26.7 L477.5,26.4 L478.8,26.1 L480.2,25.9 L481.6,25.7 L483.0,25.5 L484.5,25.3 L485.9,25.2 L487.3,25.2 L488.7,25.1 L490.1,25.1 L491.6,25.2 L493.0,25.3 L494.4,25.4 L495.8,25.6 L497.2,25.8 L498.6,26.1 L499.9,26.4 L501.3,26.8 L502.6,27.2 L504.0,27.7 L505.3,28.2 L506.6,28.7 L507.8,29.3 L509.1,30.0 L510.3,30.6 L511.6,31.3 L512.8,32.0 L514.0,32.8 L515.2,33.6 L516.3,34.4 L517.5,35.2 L518.6,36.0 L519.7,36.9 L520.8,37.7 L521.9,38.6 L523.0,39.5 L524.1,40.4 L525.1,41.3 L526.2,42.2 L527.2,43.1 L528.2,44.0 L529.2,45.0 L530.2,45.9 L531.2,46.8 L532.2,47.8 L533.2,48.8 L534.2,49.7 L535.2,50.7 L536.1,51.7 L537.1,52.7 L538.1,53.6 L539.0,54.6 L540.0,55.6 L540.9,56.6 L541.9,57.6 L542.8,58.6 L543.8,59.6 L544.8,60.6 L545.7,61.7 L546.7,62.7 L547.6,63.7 L548.6,64.7 L549.6,65.7 L550.6,66.7 L551.6,67.7 L552.5,68.7 L553.5,69.7 L554.6,70.7 L555.6,71.7 L556.6,72.7 L557.6,73.7 L558.7,74.7 L559.7,75.7 L560.8,76.6 L561.9,77.6 L562.9,78.6 L564.0,79.5 L565.1,80.4 L566.2,81.3 L567.3,82.3 L568.5,83.1 L569.6,84.0 L570.8,84.9 L571.9,85.7 L573.1,86.5 L574.2,87.3 L575.4,88.1 L576.6,88.9 L577.8,89.6 L579.0,90.3 L580.2,91.0 L581.4,91.7 L582.7,92.3 L583.9,92.9 L585.2,93.5 L586.4,94.0 L587.7,94.5 L589.0,95.0 L590.2,95.5 L591.5,95.9 L592.8,96.3 L594.2,96.6 L595.5,96.9 L596.8,97.2 L598.1,97.4 L599.5,97.6 L600.8,97.7 L602.2,97.8 L603.6,97.9 L604.9,97.9 L606.3,97.9 L607.7,97.8 L609.1,97.6 L610.5,97.5 L611.9,97.3 L613.3,97.0 L614.7,96.7 L616.1,96.3 L617.5,95.9 L618.9,95.5 L620.2,95.0 L621.6,94.5 L622.9,93.9 L624.2,93.3 L625.5,92.6 L626.7,91.9 L627.9,91.2 L629.1,90.4 L630.3,89.6 L631.4,88.7 L632.4,87.8 L633.5,86.9 L634.5,85.9 L635.5,84.9 L636.4,83.9 L637.3,82.8 L638.2,81.7 L639.1,80.6 L639.9,79.5 L640.8,78.4 L641.6,77.2 L642.4,76.0 L643.1,74.9 L643.9,73.7 L644.6,72.4 L645.4,71.2 L646.1,70.0 L646.8,68.8 L647.5,67.6 L648.2,66.4 L649.0,65.2 L649.7,63.9 L650.4,62.7 L651.1,61.5 L651.8,60.3 L652.5,59.1 L653.2,57.9 L653.9,56.7 L654.6,55.5 L655.3,54.3 L656.0,53.1 L656.6,51.9 L657.3,50.7 L658.0,49.5 L658.7,48.2 L659.3,47.0 L660.0,45.7 L660.7,44.5 L661.3,43.2 L662.0,41.9 L662.6,40.6 L663.3,39.3 L664.0,38.0 L664.6,36.8 L665.4,35.5 L666.1,34.3 L666.9,33.2 L667.7,32.1 L668.6,31.0 L669.6,30.0 L670.6,29.1 L671.6,28.2 L672.8,27.5 L674.0,26.8 L675.2,26.2 L676.6,25.7 L677.9,25.3 L679.3,25.1 L680.7,24.9 L682.2,24.8 L683.6,24.9 L685.0,25.0 L686.4,25.3 L687.7,25.6 L689.0,26.1 L690.3,26.6 L691.5,27.3 L692.5,28.0 L693.6,28.9 L694.5,29.8 L695.4,30.8 L696.2,31.8 L697.0,33.0 L697.7,34.1 L698.3,35.4 L698.9,36.6 L699.5,38.0 L700.0,39.3 L700.5,40.7 L700.9,42.1 L701.4,43.5 L701.7,44.9 L702.1,46.3 L702.5,47.7 L702.8,49.1 L703.2,50.5 L703.5,51.9 L703.8,53.3 L704.1,54.6 L704.4,56.0 L704.6,57.4 L704.9,58.8 L705.1,60.2 L705.4,61.5 L705.6,62.9 L705.9,64.3 L706.1,65.7 L706.3,67.0 L706.5,68.4 L706.8,69.8 L707.0,71.1 L707.2,72.5 L707.4,73.9 L707.6,75.2 L707.9,76.6 L708.1,78.0 L708.3,79.4 L708.5,80.7 L708.7,82.1 L708.9,83.5 L709.2,84.9 L709.4,86.2 L709.6,87.6 L709.8,89.0 L710.0,90.4 L710.2,91.7 L710.5,93.1 L710.7,94.5 L710.9,95.9 L711.1,97.2 L711.3,98.6 L711.5,100.0 L711.7,101.4 L711.9,102.8 L712.1,104.2 L712.3,105.5 L712.6,106.9 L712.8,108.3 L713.0,109.7 L713.2,111.1 L713.4,112.4 L713.6,113.8 L713.8,115.2 L714.0,116.6 L714.2,118.0 L714.4,119.4 L714.6,120.7 L714.8,122.1 L715.0,123.5 L715.2,124.9 L715.4,126.3 L715.6,127.7 L715.8,129.1 L716.0,130.5 L716.1,131.8 L716.3,133.2 L716.5,134.6 L716.7,136.0 L716.9,137.4 L717.1,138.8 L717.3,140.2 L717.5,141.6 L717.6,142.9 L717.8,144.3 L718.0,145.7 L718.2,147.1 L718.4,148.5 L718.5,149.9 L718.7,151.3 L718.9,152.7 L719.1,154.1 L719.2,155.4 L719.4,156.8 L719.6,158.2 L719.7,159.6 L719.9,161.0 L720.1,162.4 L720.2,163.8 L720.4,165.2 L720.6,166.6 L720.7,168.0 L720.9,169.4 L721.0,170.7 L721.2,172.1 L721.4,173.5 L721.5,174.9 L721.7,176.3 L721.8,177.7 L722.0,179.1 L722.1,180.5 L722.3,181.9 L722.4,183.3 L722.6,184.7 L722.7,186.1 L722.9,187.4 L723.0,188.8 L723.2,190.2 L723.3,191.6 L723.4,193.0 L723.6,194.4 L723.7,195.8 L723.9,197.2 L724.0,198.6 L724.1,200.0 L724.3,201.4 L724.4,202.8 L724.5,204.2 L724.7,205.5 L724.8,206.9 L724.9,208.3 L725.1,209.7 L725.2,211.1 L725.3,212.5 L725.5,213.9 L725.6,215.3 L725.7,216.7 L725.8,218.1 L726.0,219.5 L726.1,220.9 L726.2,222.3 L726.4,223.7 L726.5,225.0 L726.6,226.4 L726.7,227.8 L726.8,229.2 L727.0,230.6 L727.1,232.0 L727.2,233.4 L727.3,234.8 L727.5,236.2 L727.6,237.6 L727.7,239.0 L727.8,240.4 L727.9,241.8 L728.0,243.2 L728.2,244.6 L728.3,246.0 L728.4,247.3 L728.5,248.7 L728.6,250.1 L728.8,251.5 L728.9,252.9 L729.0,254.3 L729.1,255.7 L729.2,257.1 L729.3,258.5 L729.4,259.9 L729.6,261.3 L729.7,262.7 L729.8,264.1 L729.9,265.5 L730.0,266.9 L730.1,268.3 L730.2,269.7 L730.4,271.0 L730.5,272.4 L730.6,273.8 L730.7,275.2 L730.8,276.6 L730.9,278.0 L731.0,279.4 L731.1,280.8 L731.3,282.2 L731.4,283.6 L731.5,285.0 L731.6,286.4 L731.7,287.8 L731.8,289.2 L731.9,290.6 L732.1,292.0 L732.2,293.4 L732.3,294.7 L732.4,296.1 L732.5,297.5 L732.6,298.9 L732.7,300.3 L732.9,301.7 L733.0,303.1 L733.1,304.5 L733.2,305.9 L733.3,307.3 L733.4,308.7 L733.5,310.1 L733.7,311.5 L733.8,312.9 L733.9,314.3 L734.0,315.7 L734.1,317.0 L734.3,318.4 L734.4,319.8 L734.5,321.2 L734.6,322.6 L734.7,324.0 L734.9,325.4 L735.0,326.8 L735.1,328.2 L735.2,329.6 L735.3,331.0 L735.5,332.4 L735.6,333.8 L735.7,335.2 L735.8,336.6 L736.0,337.9 L736.1,339.3 L736.2,340.7 L736.3,342.1 L736.5,343.5 L736.6,344.9 L736.7,346.3 L736.9,347.7 L737.0,349.1 L737.1,350.5 L737.3,351.9 L737.4,353.3 L737.5,354.7 L737.7,356.1 L737.8,357.4 L737.9,358.8 L738.1,360.2 L738.2,361.6 L738.4,363.0 L738.5,364.4 L738.6,365.8 L738.8,367.2 L738.9,368.6 L739.1,370.0 L739.2,371.4 L739.4,372.8 L739.5,374.1 L739.6,375.5 L739.8,376.9 L739.9,378.3 L740.1,379.7 L740.2,381.1 L740.4,382.5 L740.6,383.9 L740.7,385.3 L740.9,386.7 L741.0,388.1 L741.2,389.4 L741.3,390.8 L741.5,392.2 L741.7,393.6 L741.8,395.0 L742.0,396.4 L742.2,397.8 L742.3,399.2 L742.5,400.6 L742.7,401.9 L742.8,403.3 L743.0,404.7 L743.2,406.1 L743.4,407.5 L743.5,408.9 L743.7,410.3 L743.9,411.7 L744.1,413.1 L744.3,414.4 L744.4,415.8 L744.6,417.2 L744.8,418.6 L745.0,420.0" stroke="#0000ff" stroke-width="5.5" fill="none" stroke-linejoin="round" stroke-linecap="round" clip-path="url(#ca)"/>
<path d="M138.0,497.0 L139.1,496.0 L140.2,495.0 L141.2,494.0 L142.3,492.9 L143.3,491.9 L144.2,490.8 L145.2,489.8 L146.1,488.7 L146.9,487.6 L147.8,486.4 L148.6,485.3 L149.4,484.2 L150.2,483.0 L151.0,481.8 L151.7,480.7 L152.4,479.5 L153.1,478.3 L153.7,477.1 L154.4,475.9 L155.0,474.6 L155.6,473.4 L156.2,472.1 L156.7,470.9 L157.3,469.6 L157.8,468.3 L158.3,467.1 L158.8,465.8 L159.3,464.5 L159.7,463.2 L160.2,461.9 L160.6,460.5 L161.0,459.2 L161.4,457.9 L161.8,456.6 L162.2,455.2 L162.6,453.9 L162.9,452.5 L163.3,451.2 L163.6,449.8 L163.9,448.5 L164.2,447.1 L164.5,445.7 L164.8,444.4 L165.1,443.0 L165.4,441.6 L165.7,440.2 L166.0,438.9 L166.3,437.5 L166.6,436.1 L166.8,434.7 L167.1,433.3 L167.4,432.0 L167.6,430.6 L167.9,429.2 L168.1,427.8 L168.4,426.4 L168.6,425.0 L168.9,423.7 L169.1,422.3 L169.4,420.9 L169.6,419.5 L169.9,418.1 L170.1,416.8 L170.4,415.4 L170.6,414.0 L170.8,412.6 L171.1,411.2 L171.3,409.8 L171.5,408.5 L171.8,407.1 L172.0,405.7 L172.2,404.3 L172.4,402.9 L172.7,401.5 L172.9,400.1 L173.1,398.8 L173.3,397.4 L173.5,396.0 L173.7,394.6 L173.9,393.2 L174.2,391.8 L174.4,390.5 L174.6,389.1 L174.8,387.7 L175.0,386.3 L175.2,384.9 L175.4,383.5 L175.6,382.1 L175.8,380.8 L176.0,379.4 L176.1,378.0 L176.3,376.6 L176.5,375.2 L176.7,373.8 L176.9,372.4 L177.1,371.0 L177.3,369.7 L177.4,368.3 L177.6,366.9 L177.8,365.5 L178.0,364.1 L178.1,362.7 L178.3,361.3 L178.5,359.9 L178.7,358.6 L178.8,357.2 L179.0,355.8 L179.2,354.4 L179.3,353.0 L179.5,351.6 L179.7,350.2 L179.8,348.8 L180.0,347.4 L180.1,346.1 L180.3,344.7 L180.4,343.3 L180.6,341.9 L180.7,340.5 L180.9,339.1 L181.1,337.7 L181.2,336.3 L181.3,334.9 L181.5,333.5 L181.6,332.2 L181.8,330.8 L181.9,329.4 L182.1,328.0 L182.2,326.6 L182.3,325.2 L182.5,323.8 L182.6,322.4 L182.8,321.0 L182.9,319.6 L183.0,318.2 L183.2,316.9 L183.3,315.5 L183.4,314.1 L183.6,312.7 L183.7,311.3 L183.8,309.9 L183.9,308.5 L184.1,307.1 L184.2,305.7 L184.3,304.3 L184.4,302.9 L184.6,301.5 L184.7,300.1 L184.8,298.8 L184.9,297.4 L185.1,296.0 L185.2,294.6 L185.3,293.2 L185.4,291.8 L185.5,290.4 L185.6,289.0 L185.8,287.6 L185.9,286.2 L186.0,284.8 L186.1,283.4 L186.2,282.0 L186.3,280.6 L186.4,279.2 L186.5,277.8 L186.7,276.5 L186.8,275.1 L186.9,273.7 L187.0,272.3 L187.1,270.9 L187.2,269.5 L187.3,268.1 L187.4,266.7 L187.5,265.3 L187.6,263.9 L187.7,262.5 L187.8,261.1 L187.9,259.7 L188.0,258.3 L188.1,256.9 L188.2,255.5 L188.3,254.1 L188.4,252.7 L188.5,251.3 L188.6,249.9 L188.7,248.5 L188.8,247.1 L188.9,245.7 L189.0,244.4 L189.1,243.0 L189.2,241.6 L189.3,240.2 L189.4,238.8 L189.5,237.4 L189.6,236.0 L189.7,234.6 L189.8,233.2 L189.9,231.8 L190.0,230.4 L190.1,229.0 L190.2,227.6 L190.3,226.2 L190.4,224.8 L190.5,223.4 L190.6,222.0 L190.7,220.6 L190.8,219.2 L190.9,217.8 L191.0,216.4 L191.1,215.0 L191.2,213.6 L191.3,212.2 L191.4,210.8 L191.5,209.4 L191.6,208.0 L191.7,206.6 L191.7,205.2 L191.8,203.8 L191.9,202.4 L192.0,201.0 L192.1,199.6 L192.2,198.2 L192.3,196.8 L192.4,195.4 L192.5,194.0 L192.6,192.6 L192.7,191.2 L192.8,189.8 L192.9,188.4 L193.0,187.0 L193.1,185.6 L193.2,184.2 L193.3,182.8 L193.4,181.4 L193.5,180.0 L193.6,178.6 L193.7,177.2 L193.8,175.8 L193.9,174.5 L194.0,173.1 L194.1,171.7 L194.3,170.3 L194.4,168.9 L194.5,167.5 L194.6,166.1 L194.7,164.7 L194.8,163.3 L194.9,161.9 L195.0,160.5 L195.1,159.1 L195.3,157.7 L195.4,156.3 L195.5,154.9 L195.6,153.5 L195.7,152.1 L195.9,150.7 L196.0,149.3 L196.1,147.9 L196.2,146.5 L196.4,145.1 L196.5,143.7 L196.6,142.3 L196.7,140.9 L196.9,139.5 L197.0,138.1 L197.2,136.8 L197.3,135.4 L197.4,134.0 L197.6,132.6 L197.7,131.2 L197.9,129.8 L198.0,128.4 L198.2,127.0 L198.3,125.6 L198.5,124.2 L198.6,122.8 L198.8,121.5 L198.9,120.1 L199.1,118.7 L199.3,117.3 L199.4,115.9 L199.6,114.5 L199.8,113.1 L200.0,111.7 L200.1,110.4 L200.3,109.0 L200.5,107.6 L200.7,106.2 L200.9,104.8 L201.0,103.4 L201.2,102.1 L201.4,100.7 L201.6,99.3 L201.8,97.9 L202.0,96.5 L202.2,95.2 L202.4,93.8 L202.6,92.4 L202.8,91.0 L203.1,89.6 L203.3,88.3 L203.5,86.9 L203.7,85.5 L203.9,84.1 L204.2,82.8 L204.4,81.4 L204.6,80.0 L204.9,78.7 L205.1,77.3 L205.4,75.9 L205.6,74.5 L205.9,73.2 L206.1,71.8 L206.4,70.4 L206.6,69.1 L206.9,67.7 L207.2,66.3 L207.4,65.0 L207.7,63.6 L208.0,62.3 L208.3,60.9 L208.6,59.5 L208.9,58.2 L209.2,56.8 L209.5,55.4 L209.8,54.1 L210.2,52.7 L210.5,51.4 L210.9,50.0 L211.3,48.7 L211.7,47.3 L212.1,45.9 L212.6,44.6 L213.0,43.2 L213.5,41.9 L214.0,40.5 L214.5,39.1 L215.1,37.8 L215.7,36.5 L216.3,35.2 L217.0,33.9 L217.7,32.7 L218.5,31.6 L219.4,30.5 L220.3,29.6 L221.4,28.7 L222.5,28.0 L223.7,27.3 L225.0,26.7 L226.3,26.3 L227.6,25.9 L229.0,25.6 L230.4,25.3 L231.8,25.2 L233.2,25.1 L234.6,25.0 L236.0,25.0 L237.4,25.0 L238.8,25.1 L240.3,25.1 L241.7,25.2 L243.1,25.3 L244.5,25.4 L245.9,25.5 L247.3,25.6 L248.7,25.6 L250.1,25.7 L251.5,25.7 L252.9,25.8 L254.3,25.8 L255.7,25.8 L257.1,25.9 L258.5,25.9 L259.9,26.0 L261.2,26.1 L262.6,26.2 L264.0,26.3 L265.4,26.4 L266.8,26.5 L268.2,26.7 L269.6,26.8 L271.0,27.1 L272.4,27.3 L273.8,27.6 L275.2,27.9 L276.6,28.2 L278.0,28.6 L279.3,29.0 L280.7,29.5 L282.0,30.1 L283.2,30.7 L284.4,31.3 L285.6,32.1 L286.7,32.9 L287.7,33.8 L288.7,34.8 L289.7,35.8 L290.6,36.8 L291.5,37.9 L292.5,39.0 L293.4,40.1 L294.3,41.2 L295.2,42.2 L296.1,43.3 L297.1,44.3 L298.1,45.3 L299.1,46.3 L300.1,47.3 L301.1,48.2 L302.1,49.2 L303.2,50.1 L304.2,51.0 L305.3,51.9 L306.4,52.8 L307.4,53.8 L308.5,54.7 L309.5,55.6 L310.6,56.5 L311.6,57.4 L312.7,58.4 L313.7,59.3 L314.7,60.3 L315.7,61.2 L316.7,62.2 L317.7,63.2 L318.6,64.2 L319.6,65.2 L320.5,66.2 L321.5,67.3 L322.4,68.3 L323.4,69.3 L324.3,70.4 L325.2,71.4 L326.2,72.5 L327.1,73.5 L328.0,74.5 L329.0,75.6 L329.9,76.6 L330.9,77.6 L331.8,78.6 L332.8,79.6 L333.8,80.6 L334.8,81.6 L335.8,82.5 L336.8,83.5 L337.9,84.4 L338.9,85.3 L340.0,86.2 L341.1,87.1 L342.2,87.9 L343.4,88.8 L344.6,89.6 L345.7,90.3 L347.0,91.1 L348.2,91.8 L349.5,92.5 L350.7,93.2 L352.0,93.8 L353.3,94.4 L354.6,94.9 L356.0,95.4 L357.3,95.9 L358.7,96.3 L360.0,96.7 L361.4,97.0 L362.8,97.3 L364.1,97.5 L365.5,97.7 L366.9,97.9 L368.3,97.9 L369.6,98.0 L371.0,97.9 L372.4,97.8 L373.7,97.7 L375.1,97.5 L376.4,97.3 L377.8,97.0 L379.1,96.6 L380.4,96.2 L381.7,95.8 L383.0,95.3 L384.3,94.8 L385.6,94.3 L386.9,93.7 L388.2,93.1 L389.4,92.4 L390.7,91.7 L391.9,91.0 L393.1,90.2 L394.3,89.5 L395.5,88.7 L396.7,87.8 L397.9,87.0 L399.0,86.1 L400.2,85.2 L401.3,84.3 L402.4,83.4 L403.4,82.5 L404.5,81.5 L405.6,80.6 L406.6,79.6 L407.6,78.6 L408.6,77.6 L409.6,76.6 L410.6,75.6 L411.5,74.6 L412.5,73.6 L413.4,72.6 L414.3,71.5 L415.3,70.5 L416.2,69.4 L417.1,68.4 L418.0,67.3 L418.9,66.2 L419.8,65.2 L420.7,64.1 L421.5,63.0 L422.4,61.9 L423.3,60.9 L424.2,59.8 L425.1,58.7 L426.0,57.6 L426.9,56.6 L427.7,55.5 L428.6,54.4 L429.5,53.4 L430.4,52.3 L431.4,51.2 L432.3,50.2 L433.2,49.1 L434.1,48.1 L435.1,47.1 L436.0,46.1 L437.0,45.0 L438.0,44.0 L438.9,43.1 L439.9,42.1 L440.9,41.1 L442.0,40.2 L443.0,39.2 L444.1,38.3 L445.1,37.4 L446.2,36.6 L447.3,35.7 L448.4,34.9 L449.5,34.1 L450.7,33.3 L451.8,32.6 L453.0,31.8 L454.2,31.1 L455.4,30.5 L456.7,29.8 L457.9,29.2 L459.2,28.6 L460.5,28.1 L461.9,27.6 L463.2,27.1 L464.6,26.6 L466.0,26.2 L467.4,25.9 L468.8,25.5 L470.2,25.3 L471.6,25.0 L473.1,24.8 L474.5,24.6 L475.9,24.5 L477.4,24.4 L478.8,24.4 L480.2,24.4 L481.6,24.5 L483.1,24.6 L484.5,24.7 L485.8,24.9 L487.2,25.2 L488.6,25.5 L489.9,25.9 L491.2,26.3 L492.5,26.8 L493.8,27.3 L495.0,27.8 L496.3,28.4 L497.5,29.1 L498.7,29.7 L499.9,30.4 L501.0,31.2 L502.2,32.0 L503.3,32.8 L504.4,33.6 L505.5,34.5 L506.5,35.4 L507.6,36.3 L508.6,37.2 L509.6,38.2 L510.6,39.1 L511.6,40.1 L512.5,41.1 L513.5,42.2 L514.4,43.2 L515.3,44.3 L516.2,45.3 L517.1,46.4 L517.9,47.5 L518.8,48.6 L519.6,49.7 L520.5,50.9 L521.3,52.0 L522.1,53.1 L522.9,54.3 L523.7,55.5 L524.5,56.6 L525.3,57.8 L526.1,59.0 L526.9,60.2 L527.6,61.4 L528.4,62.6 L529.2,63.8 L529.9,65.0 L530.7,66.1 L531.4,67.3 L532.2,68.5 L532.9,69.7 L533.7,70.9 L534.5,72.1 L535.2,73.3 L536.0,74.5 L536.7,75.7 L537.5,76.9 L538.3,78.0 L539.0,79.2 L539.8,80.4 L540.6,81.6 L541.4,82.7 L542.1,83.9 L542.9,85.1 L543.7,86.2 L544.5,87.4 L545.3,88.5 L546.1,89.6 L546.9,90.8 L547.7,91.9 L548.5,93.0 L549.4,94.2 L550.2,95.3 L551.0,96.4 L551.9,97.5 L552.7,98.6 L553.6,99.7 L554.5,100.8 L555.4,101.8 L556.2,102.9 L557.1,104.0 L558.1,105.0 L559.0,106.1 L559.9,107.1 L560.8,108.1 L561.8,109.2 L562.7,110.2 L563.7,111.2 L564.7,112.2 L565.7,113.2 L566.7,114.2 L567.7,115.1 L568.7,116.1 L569.7,117.0 L570.8,118.0 L571.9,118.9 L572.9,119.8 L574.0,120.7 L575.1,121.5 L576.3,122.4 L577.4,123.2 L578.5,124.0 L579.7,124.8 L580.9,125.6 L582.1,126.3 L583.3,127.0 L584.5,127.7 L585.8,128.3 L587.0,129.0 L588.3,129.6 L589.6,130.1 L590.9,130.7 L592.2,131.2 L593.6,131.6 L594.9,132.0 L596.3,132.3 L597.7,132.6 L599.0,132.7 L600.4,132.8 L601.8,132.7 L603.1,132.5 L604.5,132.3 L605.8,131.9 L607.2,131.4 L608.5,130.9 L609.8,130.3 L611.1,129.7 L612.4,129.0 L613.6,128.2 L614.8,127.4 L616.0,126.6 L617.2,125.8 L618.4,125.0 L619.5,124.1 L620.6,123.2 L621.7,122.3 L622.7,121.4 L623.7,120.4 L624.7,119.4 L625.7,118.5 L626.7,117.5 L627.6,116.4 L628.6,115.4 L629.5,114.3 L630.4,113.3 L631.2,112.2 L632.1,111.1 L632.9,110.0 L633.8,108.9 L634.6,107.8 L635.4,106.6 L636.2,105.5 L636.9,104.3 L637.7,103.1 L638.4,102.0 L639.2,100.8 L639.9,99.6 L640.6,98.4 L641.3,97.2 L642.0,95.9 L642.7,94.7 L643.4,93.5 L644.1,92.3 L644.8,91.0 L645.4,89.8 L646.1,88.6 L646.8,87.3 L647.4,86.1 L648.1,84.8 L648.7,83.6 L649.4,82.4 L650.1,81.1 L650.7,79.9 L651.3,78.6 L652.0,77.4 L652.6,76.2 L653.3,74.9 L653.9,73.7 L654.5,72.4 L655.1,71.2 L655.7,69.9 L656.3,68.6 L656.9,67.4 L657.5,66.1 L658.1,64.8 L658.7,63.6 L659.3,62.3 L659.8,61.0 L660.4,59.7 L660.9,58.4 L661.4,57.1 L661.9,55.8 L662.4,54.5 L662.9,53.2 L663.4,51.8 L663.9,50.5 L664.3,49.2 L664.8,47.8 L665.3,46.5 L665.7,45.2 L666.2,43.8 L666.7,42.5 L667.3,41.2 L667.8,39.9 L668.4,38.7 L669.0,37.4 L669.7,36.2 L670.4,35.0 L671.1,33.8 L671.9,32.7 L672.8,31.6 L673.7,30.5 L674.7,29.5 L675.8,28.5 L676.9,27.6 L678.1,26.9 L679.3,26.2 L680.6,25.7 L681.9,25.4 L683.2,25.2 L684.6,25.3 L686.0,25.6 L687.4,26.1 L688.6,26.9 L689.6,27.8 L690.5,28.8 L691.3,30.0 L691.9,31.2 L692.5,32.5 L693.1,33.8 L693.6,35.1 L694.1,36.4 L694.6,37.7 L695.0,39.0 L695.5,40.3 L695.8,41.7 L696.2,43.0 L696.6,44.4 L696.9,45.7 L697.2,47.1 L697.5,48.5 L697.8,49.8 L698.0,51.2 L698.3,52.6 L698.5,54.0 L698.8,55.3 L699.0,56.7 L699.2,58.1 L699.4,59.5 L699.6,60.9 L699.8,62.3 L700.0,63.7 L700.2,65.1 L700.4,66.5 L700.6,67.9 L700.8,69.3 L701.1,70.6 L701.3,72.0 L701.5,73.4 L701.7,74.8 L701.9,76.2 L702.2,77.6 L702.4,79.0 L702.6,80.3 L702.8,81.7 L703.1,83.1 L703.3,84.5 L703.5,85.9 L703.8,87.3 L704.0,88.6 L704.2,90.0 L704.5,91.4 L704.7,92.8 L704.9,94.2 L705.2,95.5 L705.4,96.9 L705.6,98.3 L705.9,99.7 L706.1,101.1 L706.3,102.4 L706.6,103.8 L706.8,105.2 L707.0,106.6 L707.2,107.9 L707.5,109.3 L707.7,110.7 L707.9,112.1 L708.1,113.5 L708.3,114.8 L708.6,116.2 L708.8,117.6 L709.0,119.0 L709.2,120.4 L709.4,121.8 L709.6,123.1 L709.7,124.5 L709.9,125.9 L710.1,127.3 L710.3,128.7 L710.5,130.1 L710.6,131.5 L710.8,132.8 L711.0,134.2 L711.1,135.6 L711.3,137.0 L711.4,138.4 L711.6,139.8 L711.7,141.2 L711.9,142.6 L712.0,144.0 L712.2,145.3 L712.3,146.7 L712.5,148.1 L712.6,149.5 L712.7,150.9 L712.9,152.3 L713.0,153.7 L713.1,155.1 L713.2,156.5 L713.4,157.9 L713.5,159.3 L713.6,160.7 L713.7,162.1 L713.9,163.5 L714.0,164.9 L714.1,166.3 L714.2,167.7 L714.4,169.1 L714.5,170.4 L714.6,171.8 L714.7,173.2 L714.8,174.6 L715.0,176.0 L715.1,177.4 L715.2,178.8 L715.3,180.2 L715.4,181.6 L715.6,183.0 L715.7,184.4 L715.8,185.8 L716.0,187.2 L716.1,188.6 L716.2,190.0 L716.3,191.4 L716.5,192.8 L716.6,194.2 L716.8,195.6 L716.9,196.9 L717.0,198.3 L717.2,199.7 L717.3,201.1 L717.5,202.5 L717.6,203.9 L717.8,205.3 L717.9,206.7 L718.0,208.1 L718.2,209.5 L718.3,210.9 L718.5,212.3 L718.6,213.7 L718.8,215.0 L719.0,216.4 L719.1,217.8 L719.3,219.2 L719.4,220.6 L719.6,222.0 L719.7,223.4 L719.9,224.8 L720.0,226.2 L720.2,227.6 L720.4,229.0 L720.5,230.3 L720.7,231.7 L720.8,233.1 L721.0,234.5 L721.2,235.9 L721.3,237.3 L721.5,238.7 L721.6,240.1 L721.8,241.5 L722.0,242.9 L722.1,244.3 L722.3,245.6 L722.4,247.0 L722.6,248.4 L722.8,249.8 L722.9,251.2 L723.1,252.6 L723.2,254.0 L723.4,255.4 L723.6,256.8 L723.7,258.2 L723.9,259.5 L724.0,260.9 L724.2,262.3 L724.4,263.7 L724.5,265.1 L724.7,266.5 L724.8,267.9 L725.0,269.3 L725.1,270.7 L725.3,272.1 L725.4,273.4 L725.6,274.8 L725.7,276.2 L725.9,277.6 L726.0,279.0 L726.2,280.4 L726.3,281.8 L726.5,283.2 L726.6,284.6 L726.8,286.0 L726.9,287.4 L727.1,288.7 L727.2,290.1 L727.3,291.5 L727.5,292.9 L727.6,294.3 L727.7,295.7 L727.9,297.1 L728.0,298.5 L728.1,299.9 L728.3,301.3 L728.4,302.7 L728.5,304.1 L728.6,305.5 L728.8,306.8 L728.9,308.2 L729.0,309.6 L729.1,311.0 L729.2,312.4 L729.3,313.8 L729.5,315.2 L729.6,316.6 L729.7,318.0 L729.8,319.4 L729.9,320.8 L730.0,322.2 L730.1,323.6 L730.2,325.0 L730.3,326.4 L730.4,327.8 L730.5,329.2 L730.6,330.6 L730.7,332.0 L730.8,333.3 L730.9,334.7 L731.0,336.1 L731.1,337.5 L731.2,338.9 L731.2,340.3 L731.3,341.7 L731.4,343.1 L731.5,344.5 L731.6,345.9 L731.7,347.3 L731.7,348.7 L731.8,350.1 L731.9,351.5 L732.0,352.9 L732.1,354.3 L732.1,355.7 L732.2,357.1 L732.3,358.5 L732.4,359.9 L732.4,361.3 L732.5,362.7 L732.6,364.1 L732.6,365.5 L732.7,366.9 L732.8,368.3 L732.8,369.7 L732.9,371.1 L733.0,372.5 L733.0,373.9 L733.1,375.3 L733.2,376.7 L733.2,378.1 L733.3,379.5 L733.3,380.9 L733.4,382.3 L733.4,383.7 L733.5,385.1 L733.6,386.5 L733.6,387.9 L733.7,389.3 L733.7,390.7 L733.8,392.1 L733.8,393.5 L733.9,394.9 L733.9,396.3 L734.0,397.7 L734.0,399.1 L734.1,400.5 L734.1,401.9 L734.2,403.3 L734.2,404.7 L734.2,406.1 L734.3,407.5 L734.3,408.9 L734.4,410.3 L734.4,411.7 L734.5,413.1 L734.5,414.4 L734.5,415.8 L734.6,417.2 L734.6,418.6 L734.7,420.0 L734.7,421.4 L734.7,422.8 L734.8,424.2 L734.8,425.6 L734.8,427.0 L734.9,428.4 L734.9,429.8 L735.0,431.2 L735.0,432.6 L735.0,434.0 L735.1,435.4 L735.1,436.8 L735.1,438.2 L735.2,439.6 L735.2,441.0 L735.2,442.4 L735.3,443.8 L735.3,445.2 L735.3,446.6 L735.4,448.0 L735.4,449.4 L735.4,450.8 L735.4,452.2 L735.5,453.6 L735.5,455.0 L735.5,456.4 L735.6,457.8 L735.6,459.2 L735.6,460.6 L735.7,462.0 L735.7,463.4 L735.7,464.8 L735.7,466.2 L735.8,467.6 L735.8,469.0 L735.8,470.4 L735.9,471.8 L735.9,473.2 L735.9,474.6 L736.0,476.0 L736.0,477.4 L736.0,478.8 L736.0,480.2 L736.1,481.6 L736.1,483.0 L736.1,484.4 L736.2,485.8 L736.2,487.2 L736.2,488.6 L736.2,490.0 L736.3,491.4 L736.3,492.8 L736.3,494.2 L736.4,495.6 L736.4,497.0" stroke="#ff8000" stroke-width="5.5" fill="none" stroke-linejoin="round" stroke-linecap="round" clip-path="url(#ca)"/>
<rect x="138.0" y="23.0" width="602.3" height="486.0" fill="none" stroke="#000" stroke-width="4.2" stroke-linejoin="miter"/>
<path d="M230.15,509.0 V504.0 M230.15,23.0 V28.0 M322.30,509.0 V499.0 M322.30,23.0 V33.0 M414.45,509.0 V504.0 M414.45,23.0 V28.0 M506.60,509.0 V499.0 M506.60,23.0 V33.0 M598.75,509.0 V504.0 M598.75,23.0 V28.0 M690.90,509.0 V499.0 M690.90,23.0 V33.0 M138.0,460.40 H143.0 M740.3,460.40 H735.3 M138.0,411.80 H148.0 M740.3,411.80 H730.3 M138.0,363.20 H143.0 M740.3,363.20 H735.3 M138.0,314.60 H148.0 M740.3,314.60 H730.3 M138.0,266.00 H143.0 M740.3,266.00 H735.3 M138.0,217.40 H148.0 M740.3,217.40 H730.3 M138.0,168.80 H143.0 M740.3,168.80 H735.3 M138.0,120.20 H148.0 M740.3,120.20 H730.3 M138.0,71.60 H143.0 M740.3,71.60 H735.3" stroke="#000" stroke-width="4.2" fill="none"/>
<path d="M903.0,500.5 L904.4,500.1 L905.8,499.7 L907.2,499.3 L908.5,498.8 L909.9,498.3 L911.1,497.7 L912.4,497.1 L913.6,496.4 L914.8,495.7 L916.0,495.0 L917.2,494.2 L918.3,493.4 L919.4,492.6 L920.5,491.7 L921.5,490.8 L922.6,489.8 L923.6,488.9 L924.5,487.9 L925.5,486.9 L926.4,485.8 L927.3,484.8 L928.2,483.7 L929.0,482.5 L929.8,481.4 L930.6,480.3 L931.4,479.1 L932.1,477.9 L932.9,476.7 L933.6,475.5 L934.2,474.2 L934.9,473.0 L935.5,471.7 L936.1,470.4 L936.7,469.2 L937.2,467.9 L937.8,466.6 L938.3,465.3 L938.8,464.0 L939.2,462.6 L939.7,461.3 L940.1,460.0 L940.6,458.7 L941.0,457.3 L941.4,456.0 L941.8,454.6 L942.2,453.3 L942.6,452.0 L943.0,450.6 L943.4,449.3 L943.8,447.9 L944.2,446.6 L944.6,445.2 L944.9,443.8 L945.3,442.5 L945.7,441.1 L946.0,439.8 L946.4,438.4 L946.8,437.1 L947.1,435.7 L947.5,434.4 L947.8,433.0 L948.2,431.6 L948.5,430.3 L948.8,428.9 L949.2,427.6 L949.5,426.2 L949.8,424.8 L950.1,423.5 L950.4,422.1 L950.7,420.7 L951.0,419.4 L951.3,418.0 L951.6,416.6 L951.9,415.3 L952.2,413.9 L952.4,412.5 L952.7,411.2 L953.0,409.8 L953.2,408.4 L953.5,407.0 L953.7,405.7 L953.9,404.3 L954.2,402.9 L954.4,401.5 L954.6,400.2 L954.9,398.8 L955.1,397.4 L955.3,396.0 L955.5,394.6 L955.7,393.3 L955.9,391.9 L956.1,390.5 L956.3,389.1 L956.5,387.7 L956.7,386.4 L956.9,385.0 L957.1,383.6 L957.2,382.2 L957.4,380.8 L957.6,379.4 L957.8,378.0 L957.9,376.7 L958.1,375.3 L958.2,373.9 L958.4,372.5 L958.6,371.1 L958.7,369.7 L958.8,368.3 L959.0,366.9 L959.1,365.5 L959.3,364.2 L959.4,362.8 L959.5,361.4 L959.7,360.0 L959.8,358.6 L959.9,357.2 L960.1,355.8 L960.2,354.4 L960.3,353.0 L960.4,351.6 L960.6,350.2 L960.7,348.8 L960.8,347.4 L960.9,346.0 L961.0,344.6 L961.1,343.3 L961.2,341.9 L961.3,340.5 L961.5,339.1 L961.6,337.7 L961.7,336.3 L961.8,334.9 L961.9,333.5 L962.0,332.1 L962.1,330.7 L962.2,329.3 L962.3,327.9 L962.4,326.5 L962.5,325.1 L962.6,323.7 L962.7,322.3 L962.8,320.9 L962.9,319.5 L963.0,318.1 L963.1,316.7 L963.2,315.3 L963.3,313.9 L963.4,312.5 L963.5,311.1 L963.6,309.7 L963.7,308.3 L963.8,306.9 L963.9,305.5 L964.0,304.1 L964.1,302.7 L964.2,301.3 L964.3,299.9 L964.4,298.5 L964.5,297.1 L964.6,295.7 L964.7,294.3 L964.8,292.9 L964.9,291.5 L965.0,290.1 L965.1,288.7 L965.3,287.3 L965.4,285.9 L965.5,284.5 L965.6,283.1 L965.7,281.7 L965.8,280.3 L965.9,278.9 L966.1,277.5 L966.2,276.2 L966.3,274.8 L966.4,273.4 L966.5,272.0 L966.6,270.6 L966.8,269.2 L966.9,267.8 L967.0,266.4 L967.1,265.0 L967.3,263.6 L967.4,262.2 L967.5,260.8 L967.6,259.4 L967.7,258.0 L967.9,256.6 L968.0,255.2 L968.1,253.8 L968.2,252.4 L968.4,251.0 L968.5,249.6 L968.6,248.2 L968.8,246.8 L968.9,245.4 L969.0,244.0 L969.1,242.6 L969.3,241.2 L969.4,239.9 L969.5,238.5 L969.7,237.1 L969.8,235.7 L969.9,234.3 L970.0,232.9 L970.2,231.5 L970.3,230.1 L970.4,228.7 L970.6,227.3 L970.7,225.9 L970.8,224.5 L970.9,223.1 L971.1,221.7 L971.2,220.3 L971.3,218.9 L971.5,217.5 L971.6,216.1 L971.7,214.7 L971.9,213.4 L972.0,212.0 L972.1,210.6 L972.2,209.2 L972.4,207.8 L972.5,206.4 L972.6,205.0 L972.8,203.6 L972.9,202.2 L973.0,200.8 L973.1,199.4 L973.3,198.0 L973.4,196.6 L973.5,195.2 L973.7,193.8 L973.8,192.4 L973.9,191.1 L974.0,189.7 L974.2,188.3 L974.3,186.9 L974.4,185.5 L974.5,184.1 L974.7,182.7 L974.8,181.3 L974.9,179.9 L975.0,178.5 L975.2,177.1 L975.3,175.7 L975.4,174.3 L975.5,173.0 L975.6,171.6 L975.8,170.2 L975.9,168.8 L976.0,167.4 L976.1,166.0 L976.2,164.6 L976.4,163.2 L976.5,161.8 L976.6,160.4 L976.7,159.0 L976.8,157.6 L976.9,156.2 L977.0,154.9 L977.2,153.5 L977.3,152.1 L977.4,150.7 L977.5,149.3 L977.6,147.9 L977.7,146.5 L977.8,145.1 L977.9,143.7 L978.0,142.3 L978.1,140.9 L978.2,139.5 L978.3,138.2 L978.4,136.8 L978.5,135.4 L978.6,134.0 L978.7,132.6 L978.8,131.2 L978.9,129.8 L979.0,128.4 L979.1,127.0 L979.2,125.6 L979.3,124.2 L979.4,122.9 L979.5,121.5 L979.6,120.1 L979.7,118.7 L979.9,117.3 L980.0,115.9 L980.1,114.5 L980.2,113.1 L980.3,111.7 L980.4,110.3 L980.5,108.9 L980.6,107.6 L980.7,106.2 L980.8,104.8 L981.0,103.4 L981.1,102.0 L981.2,100.6 L981.3,99.2 L981.5,97.8 L981.6,96.4 L981.7,95.0 L981.9,93.6 L982.0,92.2 L982.1,90.8 L982.3,89.5 L982.4,88.1 L982.6,86.7 L982.7,85.3 L982.9,83.9 L983.1,82.5 L983.2,81.1 L983.4,79.7 L983.6,78.3 L983.7,76.9 L983.9,75.5 L984.1,74.1 L984.3,72.7 L984.5,71.3 L984.7,69.9 L984.9,68.5 L985.1,67.1 L985.3,65.7 L985.5,64.4 L985.7,63.0 L985.9,61.6 L986.2,60.2 L986.4,58.8 L986.6,57.4 L986.9,56.0 L987.1,54.6 L987.4,53.2 L987.7,51.8 L987.9,50.4 L988.2,49.0 L988.5,47.6 L988.8,46.2 L989.1,44.8 L989.4,43.4 L989.7,42.0 L990.0,40.6 L990.3,39.2 L990.6,37.8 L991.0,36.4 L991.4,35.1 L991.9,33.8 L992.4,32.7 L993.1,31.6 L994.2,30.2 L995.7,29.2 L996.8,28.7 L998.1,28.5 L999.5,28.4 L1001.0,28.5 L1002.5,28.7 L1004.0,29.1 L1005.3,29.7 L1006.6,30.3 L1007.8,31.1 L1008.9,31.9 L1010.0,32.9 L1011.0,33.9 L1012.0,34.9 L1012.9,36.0 L1013.9,37.1 L1014.8,38.2 L1015.7,39.3 L1016.7,40.4 L1017.6,41.4 L1018.6,42.4 L1019.7,43.3 L1020.8,44.2 L1021.9,45.0 L1023.1,45.7 L1024.3,46.4 L1025.6,47.0 L1026.9,47.5 L1028.2,47.9 L1029.5,48.3 L1030.8,48.6 L1032.2,48.8 L1033.6,48.9 L1034.9,48.9 L1036.3,48.8 L1037.7,48.7 L1039.1,48.5 L1040.5,48.2 L1041.8,47.8 L1043.2,47.4 L1044.5,47.0 L1045.9,46.5 L1047.2,45.9 L1048.5,45.4 L1049.8,44.8 L1051.1,44.1 L1052.3,43.5 L1053.6,42.8 L1054.8,42.2 L1056.0,41.5 L1057.2,40.8 L1058.4,40.1 L1059.6,39.4 L1060.8,38.7 L1062.0,37.9 L1063.2,37.2 L1064.4,36.5 L1065.6,35.9 L1066.8,35.2 L1068.0,34.5 L1069.3,33.9 L1070.5,33.2 L1071.7,32.6 L1073.0,32.1 L1074.3,31.5 L1075.5,31.0 L1076.8,30.5 L1078.2,30.0 L1079.5,29.6 L1080.9,29.2 L1082.2,28.9 L1083.6,28.6 L1085.0,28.3 L1086.4,28.1 L1087.8,27.9 L1089.3,27.7 L1090.7,27.6 L1092.1,27.5 L1093.5,27.5 L1095.0,27.4 L1096.4,27.5 L1097.8,27.5 L1099.2,27.6 L1100.6,27.8 L1102.0,27.9 L1103.4,28.1 L1104.7,28.4 L1106.1,28.6 L1107.4,28.9 L1108.8,29.2 L1110.1,29.6 L1111.4,30.0 L1112.7,30.4 L1114.0,30.8 L1115.3,31.2 L1116.7,31.7 L1118.0,32.1 L1119.3,32.6 L1120.5,33.1 L1121.8,33.6 L1123.1,34.1 L1124.4,34.7 L1125.7,35.2 L1127.0,35.7 L1128.3,36.3 L1129.7,36.8 L1131.0,37.3 L1132.3,37.9 L1133.6,38.4 L1134.9,39.0 L1136.2,39.5 L1137.5,40.0 L1138.9,40.5 L1140.2,41.0 L1141.5,41.5 L1142.8,42.0 L1144.2,42.5 L1145.5,42.9 L1146.8,43.4 L1148.2,43.8 L1149.5,44.2 L1150.9,44.6 L1152.2,44.9 L1153.6,45.3 L1154.9,45.6 L1156.3,45.9 L1157.6,46.1 L1159.0,46.4 L1160.3,46.6 L1161.7,46.8 L1163.1,46.9 L1164.4,47.0 L1165.8,47.1 L1167.2,47.2 L1168.6,47.2 L1170.0,47.1 L1171.3,47.1 L1172.7,47.0 L1174.1,46.8 L1175.5,46.6 L1176.9,46.4 L1178.3,46.1 L1179.7,45.8 L1181.1,45.5 L1182.5,45.1 L1183.9,44.8 L1185.3,44.4 L1186.7,44.0 L1188.0,43.7 L1189.4,43.3 L1190.8,43.0 L1192.1,42.6 L1193.5,42.3 L1194.8,42.0 L1196.2,41.6 L1197.5,41.3 L1198.8,40.9 L1200.2,40.5 L1201.5,40.1 L1202.8,39.7 L1204.1,39.3 L1205.4,38.8 L1206.7,38.3 L1208.0,37.7 L1209.3,37.2 L1210.6,36.7 L1211.9,36.1 L1213.2,35.5 L1214.5,35.0 L1215.8,34.4 L1217.1,33.9 L1218.4,33.4 L1219.7,32.9 L1221.0,32.4 L1222.3,31.9 L1223.7,31.5 L1225.0,31.1 L1226.3,30.7 L1227.7,30.3 L1229.0,30.0 L1230.4,29.7 L1231.7,29.3 L1233.1,29.1 L1234.5,28.8 L1235.8,28.5 L1237.2,28.3 L1238.6,28.1 L1240.0,28.0 L1241.4,27.8 L1242.8,27.7 L1244.2,27.6 L1245.6,27.5 L1247.0,27.4 L1248.4,27.4 L1249.9,27.3 L1251.3,27.4 L1252.7,27.4 L1254.1,27.5 L1255.5,27.5 L1256.9,27.7 L1258.3,27.8 L1259.7,28.0 L1261.1,28.2 L1262.5,28.4 L1263.9,28.7 L1265.2,29.0 L1266.6,29.3 L1267.9,29.7 L1269.3,30.1 L1270.6,30.5 L1271.9,31.0 L1273.2,31.5 L1274.5,32.0 L1275.7,32.6 L1277.0,33.2 L1278.2,33.8 L1279.4,34.4 L1280.6,35.1 L1281.8,35.8 L1283.0,36.6 L1284.2,37.3 L1285.3,38.1 L1286.5,38.9 L1287.6,39.7 L1288.7,40.6 L1289.9,41.4 L1291.0,42.3 L1292.1,43.2 L1293.2,44.1 L1294.2,45.0 L1295.3,46.0 L1296.4,46.9 L1297.4,47.9 L1298.4,48.8 L1299.5,49.8 L1300.5,50.8 L1301.5,51.8 L1302.5,52.8 L1303.6,53.8 L1304.6,54.8 L1305.5,55.8 L1306.5,56.8 L1307.5,57.8 L1308.5,58.8 L1309.5,59.8 L1310.5,60.8 L1311.4,61.8 L1312.4,62.8 L1313.4,63.8 L1314.3,64.8 L1315.3,65.8 L1316.3,66.8 L1317.2,67.8 L1318.2,68.8 L1319.2,69.8 L1320.1,70.8 L1321.1,71.8 L1322.1,72.8 L1323.0,73.8 L1324.0,74.8 L1325.0,75.8 L1326.0,76.7 L1327.0,77.7 L1328.0,78.7 L1329.0,79.6 L1330.0,80.6 L1331.0,81.6 L1332.1,82.5 L1333.1,83.5 L1334.1,84.4 L1335.2,85.3 L1336.3,86.2 L1337.3,87.1 L1338.4,88.0 L1339.5,88.9 L1340.6,89.8 L1341.7,90.6 L1342.9,91.5 L1344.0,92.3 L1345.2,93.0 L1346.3,93.8 L1347.5,94.5 L1348.7,95.2 L1350.0,95.9 L1351.2,96.5 L1352.4,97.1 L1353.7,97.7 L1355.0,98.2 L1356.3,98.7 L1357.6,99.2 L1359.0,99.6 L1360.4,99.9 L1361.8,100.3 L1363.2,100.5 L1364.6,100.8 L1366.0,100.9 L1367.4,101.1 L1368.9,101.1 L1370.3,101.2 L1371.7,101.1 L1373.1,101.0 L1374.5,100.9 L1375.9,100.6 L1377.3,100.4 L1378.7,100.0 L1380.0,99.6 L1381.3,99.2 L1382.7,98.7 L1383.9,98.2 L1385.2,97.6 L1386.5,97.0 L1387.7,96.3 L1388.9,95.6 L1390.1,94.9 L1391.2,94.1 L1392.4,93.3 L1393.5,92.4 L1394.6,91.6 L1395.6,90.7 L1396.7,89.7 L1397.7,88.8 L1398.7,87.8 L1399.7,86.8 L1400.6,85.8 L1401.6,84.7 L1402.5,83.7 L1403.4,82.6 L1404.3,81.5 L1405.2,80.4 L1406.1,79.3 L1406.9,78.1 L1407.8,77.0 L1408.6,75.9 L1409.4,74.7 L1410.2,73.5 L1411.1,72.4 L1411.9,71.2 L1412.6,70.0 L1413.4,68.9 L1414.2,67.7 L1415.0,66.5 L1415.7,65.4 L1416.5,64.2 L1417.3,63.0 L1418.0,61.9 L1418.8,60.7 L1419.5,59.5 L1420.2,58.4 L1421.0,57.2 L1421.7,56.0 L1422.4,54.8 L1423.1,53.6 L1423.9,52.4 L1424.6,51.3 L1425.3,50.1 L1426.0,48.9 L1426.7,47.7 L1427.4,46.5 L1428.1,45.2 L1428.8,44.0 L1429.5,42.8 L1430.2,41.6 L1430.9,40.4 L1431.6,39.1 L1432.3,37.9 L1433.0,36.6 L1433.7,35.4 L1434.4,34.2 L1435.2,33.0 L1436.0,31.9 L1436.9,30.9 L1437.8,30.0 L1438.8,29.2 L1439.9,28.5 L1441.1,27.9 L1442.4,27.5 L1443.7,27.2 L1445.2,27.1 L1446.7,27.0 L1448.2,27.1 L1449.7,27.4 L1451.1,27.7 L1452.6,28.1 L1454.0,28.7 L1455.3,29.3 L1456.6,30.0 L1457.7,30.8 L1458.8,31.6 L1459.7,32.6 L1460.6,33.5 L1461.4,34.6 L1462.1,35.7 L1462.7,36.9 L1463.2,38.1 L1463.7,39.3 L1464.2,40.6 L1464.5,42.0 L1464.9,43.3 L1465.2,44.7 L1465.4,46.1 L1465.7,47.6 L1465.9,49.0 L1466.1,50.4 L1466.3,51.9 L1466.5,53.3 L1466.7,54.8 L1466.9,56.2 L1467.1,57.7 L1467.3,59.1 L1467.5,60.5 L1467.8,61.9 L1468.0,63.3 L1468.2,64.7 L1468.4,66.1 L1468.7,67.5 L1468.9,68.9 L1469.1,70.3 L1469.4,71.7 L1469.6,73.0 L1469.8,74.4 L1470.1,75.8 L1470.3,77.2 L1470.6,78.5 L1470.8,79.9 L1471.0,81.3 L1471.2,82.7 L1471.5,84.0 L1471.7,85.4 L1471.9,86.8 L1472.1,88.1 L1472.3,89.5 L1472.6,90.9 L1472.8,92.3 L1473.0,93.6 L1473.2,95.0 L1473.4,96.4 L1473.6,97.8 L1473.7,99.1 L1473.9,100.5 L1474.1,101.9 L1474.3,103.3 L1474.5,104.7 L1474.7,106.1 L1474.8,107.4 L1475.0,108.8 L1475.2,110.2 L1475.3,111.6 L1475.5,113.0 L1475.7,114.4 L1475.8,115.7 L1476.0,117.1 L1476.1,118.5 L1476.3,119.9 L1476.4,121.3 L1476.6,122.7 L1476.7,124.1 L1476.9,125.5 L1477.0,126.9 L1477.1,128.3 L1477.3,129.6 L1477.4,131.0 L1477.5,132.4 L1477.7,133.8 L1477.8,135.2 L1477.9,136.6 L1478.1,138.0 L1478.2,139.4 L1478.3,140.8 L1478.4,142.2 L1478.6,143.6 L1478.7,145.0 L1478.8,146.4 L1478.9,147.8 L1479.0,149.2 L1479.1,150.6 L1479.3,152.0 L1479.4,153.4 L1479.5,154.8 L1479.6,156.2 L1479.7,157.6 L1479.8,159.0 L1479.9,160.4 L1480.0,161.8 L1480.1,163.2 L1480.2,164.6 L1480.3,166.0 L1480.4,167.4 L1480.5,168.8 L1480.7,170.2 L1480.8,171.6 L1480.9,172.9 L1481.0,174.3 L1481.1,175.7 L1481.2,177.1 L1481.3,178.5 L1481.4,179.9 L1481.5,181.3 L1481.6,182.7 L1481.7,184.1 L1481.8,185.5 L1481.9,186.9 L1482.0,188.3 L1482.1,189.7 L1482.2,191.1 L1482.3,192.5 L1482.4,193.9 L1482.5,195.3 L1482.6,196.7 L1482.7,198.1 L1482.8,199.5 L1482.9,200.9 L1483.0,202.3 L1483.1,203.7 L1483.2,205.1 L1483.3,206.5 L1483.5,207.9 L1483.6,209.3 L1483.7,210.7 L1483.8,212.1 L1483.9,213.5 L1484.0,214.9 L1484.1,216.3 L1484.2,217.7 L1484.3,219.1 L1484.4,220.5 L1484.6,221.9 L1484.7,223.3 L1484.8,224.7 L1484.9,226.1 L1485.0,227.5 L1485.1,228.9 L1485.2,230.2 L1485.3,231.6 L1485.5,233.0 L1485.6,234.4 L1485.7,235.8 L1485.8,237.2 L1485.9,238.6 L1486.0,240.0 L1486.1,241.4 L1486.3,242.8 L1486.4,244.2 L1486.5,245.6 L1486.6,247.0 L1486.7,248.4 L1486.8,249.8 L1486.9,251.2 L1487.1,252.5 L1487.2,253.9 L1487.3,255.3 L1487.4,256.7 L1487.5,258.1 L1487.6,259.5 L1487.8,260.9 L1487.9,262.3 L1488.0,263.7 L1488.1,265.1 L1488.2,266.5 L1488.3,267.9 L1488.4,269.3 L1488.6,270.7 L1488.7,272.1 L1488.8,273.4 L1488.9,274.8 L1489.0,276.2 L1489.1,277.6 L1489.2,279.0 L1489.3,280.4 L1489.5,281.8 L1489.6,283.2 L1489.7,284.6 L1489.8,286.0 L1489.9,287.4 L1490.0,288.8 L1490.1,290.2 L1490.2,291.6 L1490.4,293.0 L1490.5,294.4 L1490.6,295.7 L1490.7,297.1 L1490.8,298.5 L1490.9,299.9 L1491.0,301.3 L1491.1,302.7 L1491.2,304.1 L1491.3,305.5 L1491.4,306.9 L1491.5,308.3 L1491.6,309.7 L1491.7,311.1 L1491.9,312.5 L1492.0,313.9 L1492.1,315.3 L1492.2,316.7 L1492.3,318.1 L1492.4,319.5 L1492.5,320.9 L1492.6,322.2 L1492.7,323.6 L1492.8,325.0 L1492.9,326.4 L1493.0,327.8 L1493.1,329.2 L1493.2,330.6 L1493.2,332.0 L1493.3,333.4 L1493.4,334.8 L1493.5,336.2 L1493.6,337.6 L1493.7,339.0 L1493.8,340.4 L1493.9,341.8 L1494.0,343.2 L1494.1,344.6 L1494.2,346.0 L1494.3,347.4 L1494.3,348.8 L1494.4,350.2 L1494.5,351.6 L1494.6,353.0 L1494.7,354.4 L1494.8,355.8 L1494.8,357.2 L1494.9,358.6 L1495.0,360.0" stroke="#ff8000" stroke-width="5.5" fill="none" stroke-linejoin="round" stroke-linecap="round" clip-path="url(#cb)"/>
<path d="M903.0,500.0 L904.4,499.5 L905.7,498.9 L907.0,498.4 L908.3,497.7 L909.6,497.1 L910.8,496.4 L912.0,495.6 L913.1,494.9 L914.3,494.1 L915.4,493.2 L916.5,492.4 L917.5,491.5 L918.6,490.6 L919.6,489.6 L920.6,488.6 L921.5,487.6 L922.4,486.6 L923.3,485.5 L924.2,484.5 L925.1,483.4 L925.9,482.2 L926.7,481.1 L927.5,479.9 L928.2,478.8 L929.0,477.6 L929.7,476.4 L930.4,475.2 L931.0,473.9 L931.7,472.7 L932.3,471.4 L932.9,470.1 L933.5,468.9 L934.1,467.6 L934.6,466.3 L935.1,465.0 L935.6,463.7 L936.1,462.3 L936.6,461.0 L937.1,459.7 L937.5,458.4 L937.9,457.0 L938.4,455.7 L938.8,454.3 L939.2,453.0 L939.6,451.6 L940.0,450.3 L940.3,448.9 L940.7,447.6 L941.1,446.2 L941.5,444.9 L941.8,443.5 L942.2,442.2 L942.5,440.8 L942.8,439.4 L943.2,438.1 L943.5,436.7 L943.8,435.3 L944.1,434.0 L944.4,432.6 L944.8,431.3 L945.1,429.9 L945.3,428.5 L945.6,427.2 L945.9,425.8 L946.2,424.4 L946.5,423.0 L946.8,421.7 L947.0,420.3 L947.3,418.9 L947.6,417.6 L947.8,416.2 L948.1,414.8 L948.3,413.4 L948.6,412.1 L948.8,410.7 L949.0,409.3 L949.3,407.9 L949.5,406.6 L949.7,405.2 L950.0,403.8 L950.2,402.4 L950.4,401.1 L950.6,399.7 L950.8,398.3 L951.0,396.9 L951.2,395.5 L951.4,394.1 L951.6,392.8 L951.8,391.4 L952.0,390.0 L952.2,388.6 L952.4,387.2 L952.6,385.8 L952.7,384.5 L952.9,383.1 L953.1,381.7 L953.3,380.3 L953.4,378.9 L953.6,377.5 L953.8,376.1 L953.9,374.8 L954.1,373.4 L954.2,372.0 L954.4,370.6 L954.5,369.2 L954.7,367.8 L954.8,366.4 L955.0,365.0 L955.1,363.6 L955.3,362.2 L955.4,360.9 L955.5,359.5 L955.7,358.1 L955.8,356.7 L955.9,355.3 L956.1,353.9 L956.2,352.5 L956.3,351.1 L956.4,349.7 L956.5,348.3 L956.7,346.9 L956.8,345.5 L956.9,344.1 L957.0,342.7 L957.1,341.3 L957.3,340.0 L957.4,338.6 L957.5,337.2 L957.6,335.8 L957.7,334.4 L957.8,333.0 L957.9,331.6 L958.0,330.2 L958.1,328.8 L958.2,327.4 L958.3,326.0 L958.4,324.6 L958.5,323.2 L958.6,321.8 L958.7,320.4 L958.8,319.0 L958.9,317.6 L959.0,316.2 L959.1,314.8 L959.3,313.4 L959.4,312.0 L959.4,310.6 L959.5,309.2 L959.6,307.8 L959.7,306.4 L959.8,305.0 L959.9,303.6 L960.0,302.2 L960.1,300.8 L960.2,299.4 L960.3,298.0 L960.4,296.6 L960.6,295.2 L960.7,293.8 L960.8,292.4 L960.9,291.0 L961.0,289.6 L961.1,288.2 L961.2,286.8 L961.3,285.4 L961.4,284.0 L961.5,282.6 L961.6,281.2 L961.7,279.8 L961.8,278.5 L961.9,277.1 L962.0,275.7 L962.1,274.3 L962.2,272.9 L962.3,271.5 L962.4,270.1 L962.5,268.7 L962.6,267.3 L962.7,265.9 L962.8,264.5 L962.9,263.1 L963.1,261.7 L963.2,260.3 L963.3,258.9 L963.4,257.5 L963.5,256.1 L963.6,254.7 L963.7,253.3 L963.8,251.9 L963.9,250.5 L964.0,249.1 L964.1,247.7 L964.3,246.3 L964.4,244.9 L964.5,243.5 L964.6,242.1 L964.7,240.7 L964.8,239.3 L964.9,237.9 L965.0,236.5 L965.1,235.1 L965.3,233.7 L965.4,232.3 L965.5,230.9 L965.6,229.5 L965.7,228.1 L965.8,226.7 L965.9,225.4 L966.0,224.0 L966.2,222.6 L966.3,221.2 L966.4,219.8 L966.5,218.4 L966.6,217.0 L966.7,215.6 L966.8,214.2 L967.0,212.8 L967.1,211.4 L967.2,210.0 L967.3,208.6 L967.4,207.2 L967.5,205.8 L967.7,204.4 L967.8,203.0 L967.9,201.6 L968.0,200.2 L968.1,198.8 L968.2,197.5 L968.4,196.1 L968.5,194.7 L968.6,193.3 L968.7,191.9 L968.8,190.5 L969.0,189.1 L969.1,187.7 L969.2,186.3 L969.3,184.9 L969.4,183.5 L969.6,182.1 L969.7,180.7 L969.8,179.3 L969.9,177.9 L970.0,176.6 L970.2,175.2 L970.3,173.8 L970.4,172.4 L970.5,171.0 L970.6,169.6 L970.8,168.2 L970.9,166.8 L971.0,165.4 L971.1,164.0 L971.3,162.6 L971.4,161.2 L971.5,159.9 L971.6,158.5 L971.8,157.1 L971.9,155.7 L972.0,154.3 L972.1,152.9 L972.2,151.5 L972.4,150.1 L972.5,148.7 L972.6,147.4 L972.7,146.0 L972.9,144.6 L973.0,143.2 L973.1,141.8 L973.2,140.4 L973.4,139.0 L973.5,137.6 L973.6,136.2 L973.8,134.9 L973.9,133.5 L974.0,132.1 L974.1,130.7 L974.3,129.3 L974.4,127.9 L974.5,126.5 L974.6,125.1 L974.8,123.8 L974.9,122.4 L975.0,121.0 L975.1,119.6 L975.3,118.2 L975.4,116.8 L975.5,115.4 L975.7,114.0 L975.8,112.6 L975.9,111.3 L976.0,109.9 L976.2,108.5 L976.3,107.1 L976.4,105.7 L976.5,104.3 L976.7,102.9 L976.8,101.5 L976.9,100.1 L977.0,98.7 L977.2,97.3 L977.3,95.9 L977.4,94.5 L977.5,93.1 L977.6,91.7 L977.8,90.3 L977.9,88.9 L978.0,87.5 L978.1,86.1 L978.3,84.7 L978.4,83.3 L978.5,81.9 L978.6,80.5 L978.7,79.1 L978.8,77.7 L979.0,76.3 L979.1,74.9 L979.2,73.5 L979.3,72.1 L979.4,70.7 L979.5,69.2 L979.7,67.8 L979.8,66.4 L979.9,65.0 L980.0,63.6 L980.1,62.2 L980.2,60.7 L980.3,59.3 L980.4,57.9 L980.6,56.5 L980.7,55.1 L980.8,53.6 L981.0,52.2 L981.1,50.8 L981.3,49.4 L981.5,48.0 L981.7,46.7 L981.9,45.3 L982.2,43.9 L982.5,42.6 L982.8,41.3 L983.1,39.9 L983.5,38.6 L984.0,37.4 L984.4,36.1 L984.9,34.9 L985.5,33.7 L986.1,32.5 L986.8,31.3 L987.5,30.2 L988.3,29.2 L989.4,28.5 L990.8,28.2 L992.4,28.1 L993.9,28.3 L995.2,28.7 L996.5,29.3 L997.7,30.0 L998.9,30.7 L999.9,31.6 L1001.0,32.6 L1002.0,33.6 L1002.9,34.6 L1003.9,35.7 L1004.8,36.7 L1005.8,37.7 L1006.8,38.7 L1007.8,39.7 L1008.8,40.6 L1009.8,41.5 L1010.9,42.4 L1012.0,43.3 L1013.1,44.1 L1014.2,44.9 L1015.3,45.8 L1016.5,46.5 L1017.7,47.3 L1018.9,48.1 L1020.2,48.8 L1021.5,49.5 L1022.8,50.1 L1024.1,50.6 L1025.5,50.9 L1026.8,51.1 L1028.2,51.0 L1029.5,50.8 L1030.9,50.4 L1032.2,50.0 L1033.5,49.5 L1034.8,48.9 L1036.1,48.3 L1037.4,47.7 L1038.6,47.1 L1039.9,46.5 L1041.1,45.8 L1042.4,45.1 L1043.6,44.4 L1044.8,43.7 L1046.0,43.0 L1047.2,42.3 L1048.4,41.6 L1049.6,40.8 L1050.8,40.1 L1052.0,39.4 L1053.2,38.6 L1054.3,37.9 L1055.5,37.2 L1056.7,36.5 L1057.9,35.7 L1059.1,35.0 L1060.4,34.4 L1061.6,33.7 L1062.8,33.0 L1064.1,32.4 L1065.3,31.8 L1066.6,31.2 L1067.9,30.7 L1069.1,30.2 L1070.4,29.7 L1071.8,29.3 L1073.1,28.9 L1074.4,28.5 L1075.8,28.3 L1077.2,28.0 L1078.6,27.8 L1080.0,27.7 L1081.4,27.6 L1082.8,27.6 L1084.3,27.6 L1085.7,27.7 L1087.1,27.8 L1088.5,28.0 L1089.9,28.2 L1091.4,28.4 L1092.7,28.7 L1094.1,29.0 L1095.5,29.4 L1096.8,29.8 L1098.1,30.2 L1099.4,30.7 L1100.7,31.2 L1102.0,31.7 L1103.2,32.2 L1104.5,32.8 L1105.7,33.4 L1106.9,34.1 L1108.1,34.7 L1109.3,35.4 L1110.5,36.1 L1111.7,36.8 L1112.8,37.5 L1114.0,38.2 L1115.2,38.9 L1116.4,39.7 L1117.5,40.4 L1118.7,41.2 L1119.9,41.9 L1121.1,42.7 L1122.3,43.4 L1123.5,44.2 L1124.7,44.9 L1125.9,45.6 L1127.2,46.3 L1128.4,47.1 L1129.7,47.8 L1130.9,48.4 L1132.2,49.1 L1133.5,49.8 L1134.8,50.4 L1136.1,51.0 L1137.4,51.6 L1138.7,52.2 L1140.1,52.8 L1141.4,53.3 L1142.7,53.8 L1144.1,54.3 L1145.4,54.7 L1146.8,55.2 L1148.1,55.6 L1149.5,55.9 L1150.8,56.3 L1152.2,56.6 L1153.5,56.9 L1154.9,57.1 L1156.3,57.3 L1157.6,57.5 L1159.0,57.6 L1160.4,57.7 L1161.7,57.7 L1163.1,57.8 L1164.4,57.8 L1165.8,57.7 L1167.2,57.7 L1168.5,57.6 L1169.9,57.5 L1171.2,57.3 L1172.6,57.2 L1174.0,57.0 L1175.3,56.7 L1176.7,56.5 L1178.0,56.2 L1179.4,55.9 L1180.7,55.6 L1182.1,55.2 L1183.4,54.9 L1184.8,54.5 L1186.1,54.1 L1187.5,53.6 L1188.8,53.2 L1190.1,52.7 L1191.5,52.3 L1192.8,51.8 L1194.1,51.3 L1195.4,50.7 L1196.8,50.2 L1198.1,49.7 L1199.4,49.1 L1200.7,48.5 L1202.0,47.9 L1203.3,47.3 L1204.6,46.7 L1205.9,46.1 L1207.2,45.5 L1208.4,44.9 L1209.7,44.2 L1211.0,43.6 L1212.3,42.9 L1213.5,42.3 L1214.8,41.6 L1216.0,41.0 L1217.3,40.3 L1218.5,39.6 L1219.7,39.0 L1221.0,38.3 L1222.2,37.7 L1223.4,37.0 L1224.6,36.4 L1225.9,35.7 L1227.1,35.1 L1228.3,34.5 L1229.5,33.9 L1230.8,33.3 L1232.0,32.8 L1233.3,32.2 L1234.5,31.7 L1235.8,31.2 L1237.1,30.7 L1238.4,30.3 L1239.7,29.9 L1241.0,29.5 L1242.4,29.1 L1243.7,28.8 L1245.1,28.5 L1246.5,28.3 L1247.9,28.1 L1249.3,27.9 L1250.7,27.8 L1252.2,27.7 L1253.6,27.6 L1255.0,27.5 L1256.5,27.5 L1257.9,27.6 L1259.4,27.6 L1260.8,27.7 L1262.2,27.9 L1263.6,28.0 L1265.0,28.2 L1266.4,28.4 L1267.8,28.7 L1269.2,29.0 L1270.5,29.3 L1271.9,29.7 L1273.2,30.0 L1274.5,30.5 L1275.8,30.9 L1277.1,31.3 L1278.4,31.8 L1279.7,32.3 L1280.9,32.9 L1282.2,33.4 L1283.4,34.0 L1284.7,34.6 L1285.9,35.2 L1287.1,35.9 L1288.3,36.6 L1289.5,37.2 L1290.7,37.9 L1291.9,38.6 L1293.1,39.4 L1294.3,40.1 L1295.5,40.9 L1296.6,41.7 L1297.8,42.4 L1298.9,43.2 L1300.1,44.1 L1301.2,44.9 L1302.4,45.7 L1303.5,46.5 L1304.6,47.4 L1305.8,48.3 L1306.9,49.1 L1308.0,50.0 L1309.1,50.9 L1310.3,51.7 L1311.4,52.6 L1312.5,53.5 L1313.6,54.4 L1314.7,55.3 L1315.8,56.1 L1316.9,57.0 L1318.0,57.9 L1319.1,58.8 L1320.2,59.7 L1321.3,60.5 L1322.4,61.4 L1323.6,62.3 L1324.7,63.1 L1325.8,64.0 L1326.9,64.8 L1328.0,65.6 L1329.2,66.4 L1330.3,67.2 L1331.5,68.0 L1332.6,68.8 L1333.8,69.6 L1335.0,70.3 L1336.1,71.0 L1337.3,71.7 L1338.5,72.4 L1339.7,73.1 L1341.0,73.7 L1342.2,74.3 L1343.5,74.9 L1344.7,75.5 L1346.0,76.0 L1347.3,76.5 L1348.6,77.0 L1350.0,77.5 L1351.3,77.9 L1352.7,78.3 L1354.0,78.7 L1355.4,79.0 L1356.8,79.3 L1358.2,79.6 L1359.6,79.8 L1361.0,80.1 L1362.4,80.2 L1363.8,80.4 L1365.2,80.5 L1366.7,80.5 L1368.1,80.5 L1369.5,80.5 L1370.9,80.5 L1372.3,80.4 L1373.7,80.2 L1375.1,80.1 L1376.5,79.8 L1377.8,79.6 L1379.2,79.3 L1380.6,78.9 L1381.9,78.5 L1383.2,78.1 L1384.5,77.6 L1385.8,77.1 L1387.1,76.5 L1388.3,75.9 L1389.6,75.2 L1390.8,74.5 L1392.0,73.7 L1393.1,72.9 L1394.3,72.0 L1395.4,71.1 L1396.5,70.1 L1397.5,69.1 L1398.6,68.1 L1399.6,67.1 L1400.5,66.0 L1401.5,64.9 L1402.4,63.7 L1403.2,62.6 L1404.0,61.4 L1404.8,60.2 L1405.5,59.1 L1406.2,57.8 L1406.9,56.6 L1407.6,55.4 L1408.3,54.2 L1408.9,53.1 L1409.7,51.9 L1410.4,50.8 L1411.3,49.7 L1412.1,48.6 L1413.1,47.6 L1414.1,46.6 L1415.2,45.6 L1416.3,44.6 L1417.4,43.6 L1418.4,42.7 L1419.4,41.7 L1420.3,40.6 L1421.1,39.5 L1421.8,38.4 L1422.6,37.3 L1423.3,36.2 L1424.1,35.1 L1424.9,34.1 L1425.8,33.0 L1426.9,32.1 L1428.0,31.1 L1429.3,30.3 L1430.6,29.5 L1432.0,28.9 L1433.4,28.3 L1434.9,27.8 L1436.4,27.5 L1437.8,27.3 L1439.2,27.2 L1440.6,27.3 L1441.9,27.5 L1443.1,27.9 L1444.3,28.5 L1445.3,29.2 L1446.4,30.0 L1447.3,30.9 L1448.3,31.9 L1449.1,33.0 L1449.9,34.1 L1450.7,35.3 L1451.4,36.6 L1452.1,37.8 L1452.8,39.1 L1453.4,40.4 L1454.0,41.7 L1454.5,43.0 L1455.1,44.3 L1455.6,45.6 L1456.1,47.0 L1456.5,48.3 L1456.9,49.6 L1457.4,51.0 L1457.7,52.3 L1458.1,53.7 L1458.5,55.0 L1458.8,56.4 L1459.1,57.7 L1459.4,59.1 L1459.7,60.5 L1460.0,61.9 L1460.3,63.2 L1460.5,64.6 L1460.8,66.0 L1461.0,67.4 L1461.3,68.7 L1461.5,70.1 L1461.7,71.5 L1462.0,72.9 L1462.2,74.3 L1462.4,75.7 L1462.7,77.0 L1462.9,78.4 L1463.2,79.8 L1463.4,81.2 L1463.7,82.6 L1463.9,83.9 L1464.2,85.3 L1464.5,86.7 L1464.8,88.1 L1465.0,89.4 L1465.3,90.8 L1465.6,92.2 L1465.9,93.5 L1466.2,94.9 L1466.5,96.3 L1466.8,97.6 L1467.1,99.0 L1467.5,100.4 L1467.8,101.7 L1468.1,103.1 L1468.4,104.5 L1468.7,105.8 L1469.0,107.2 L1469.3,108.6 L1469.6,109.9 L1469.9,111.3 L1470.2,112.6 L1470.5,114.0 L1470.8,115.4 L1471.1,116.7 L1471.4,118.1 L1471.7,119.5 L1472.0,120.8 L1472.3,122.2 L1472.6,123.6 L1472.8,125.0 L1473.1,126.3 L1473.4,127.7 L1473.6,129.1 L1473.9,130.4 L1474.1,131.8 L1474.4,133.2 L1474.6,134.6 L1474.8,136.0 L1475.0,137.3 L1475.2,138.7 L1475.4,140.1 L1475.6,141.5 L1475.8,142.9 L1476.0,144.2 L1476.2,145.6 L1476.4,147.0 L1476.5,148.4 L1476.7,149.8 L1476.9,151.2 L1477.0,152.6 L1477.2,154.0 L1477.3,155.4 L1477.5,156.8 L1477.6,158.1 L1477.8,159.5 L1477.9,160.9 L1478.1,162.3 L1478.2,163.7 L1478.3,165.1 L1478.4,166.5 L1478.6,167.9 L1478.7,169.3 L1478.8,170.7 L1479.0,172.1 L1479.1,173.5 L1479.2,174.9 L1479.3,176.3 L1479.4,177.7 L1479.6,179.1 L1479.7,180.5 L1479.8,181.9 L1479.9,183.3 L1480.0,184.7 L1480.1,186.1 L1480.3,187.5 L1480.4,188.9 L1480.5,190.3 L1480.6,191.6 L1480.7,193.0 L1480.8,194.4 L1481.0,195.8 L1481.1,197.2 L1481.2,198.6 L1481.3,200.0 L1481.4,201.4 L1481.5,202.8 L1481.7,204.2 L1481.8,205.6 L1481.9,207.0 L1482.0,208.4 L1482.1,209.8 L1482.2,211.2 L1482.3,212.6 L1482.5,214.0 L1482.6,215.4 L1482.7,216.8 L1482.8,218.2 L1482.9,219.6 L1483.0,221.0 L1483.1,222.3 L1483.3,223.7 L1483.4,225.1 L1483.5,226.5 L1483.6,227.9 L1483.7,229.3 L1483.8,230.7 L1483.9,232.1 L1484.0,233.5 L1484.2,234.9 L1484.3,236.3 L1484.4,237.7 L1484.5,239.1 L1484.6,240.5 L1484.7,241.9 L1484.8,243.3 L1484.9,244.7 L1485.0,246.1 L1485.2,247.5 L1485.3,248.8 L1485.4,250.2 L1485.5,251.6 L1485.6,253.0 L1485.7,254.4 L1485.8,255.8 L1485.9,257.2 L1486.0,258.6 L1486.2,260.0 L1486.3,261.4 L1486.4,262.8 L1486.5,264.2 L1486.6,265.6 L1486.7,267.0 L1486.8,268.4 L1486.9,269.8 L1487.0,271.2 L1487.1,272.6 L1487.2,273.9 L1487.3,275.3 L1487.5,276.7 L1487.6,278.1 L1487.7,279.5 L1487.8,280.9 L1487.9,282.3 L1488.0,283.7 L1488.1,285.1 L1488.2,286.5 L1488.3,287.9 L1488.4,289.3 L1488.5,290.7 L1488.6,292.1 L1488.7,293.5 L1488.9,294.9 L1489.0,296.3 L1489.1,297.7 L1489.2,299.1 L1489.3,300.4 L1489.4,301.8 L1489.5,303.2 L1489.6,304.6 L1489.7,306.0 L1489.8,307.4 L1489.9,308.8 L1490.0,310.2 L1490.1,311.6 L1490.2,313.0 L1490.3,314.4 L1490.4,315.8 L1490.6,317.2 L1490.7,318.6 L1490.8,320.0 L1490.9,321.4 L1491.0,322.8 L1491.1,324.2 L1491.2,325.6 L1491.3,327.0 L1491.4,328.4 L1491.5,329.8 L1491.6,331.1 L1491.7,332.5 L1491.8,333.9 L1491.9,335.3 L1492.0,336.7 L1492.1,338.1 L1492.2,339.5 L1492.3,340.9 L1492.4,342.3 L1492.5,343.7 L1492.6,345.1 L1492.7,346.5 L1492.8,347.9 L1492.9,349.3 L1493.0,350.0" stroke="#0000ff" stroke-width="5.5" fill="none" stroke-linejoin="round" stroke-linecap="round" clip-path="url(#cb)"/>
<path d="M903.0,499.5 L904.2,498.8 L905.4,498.0 L906.6,497.3 L907.8,496.5 L908.9,495.7 L910.0,494.8 L911.2,494.0 L912.3,493.1 L913.3,492.2 L914.4,491.3 L915.4,490.3 L916.4,489.4 L917.4,488.4 L918.4,487.4 L919.3,486.3 L920.3,485.3 L921.2,484.2 L922.0,483.1 L922.9,482.0 L923.7,480.9 L924.5,479.8 L925.3,478.6 L926.0,477.4 L926.8,476.2 L927.4,475.0 L928.1,473.8 L928.7,472.6 L929.3,471.3 L929.9,470.0 L930.4,468.8 L930.9,467.5 L931.4,466.1 L931.9,464.8 L932.3,463.5 L932.8,462.1 L933.2,460.8 L933.6,459.4 L934.0,458.1 L934.3,456.7 L934.7,455.4 L935.1,454.0 L935.5,452.6 L935.9,451.3 L936.3,449.9 L936.7,448.6 L937.1,447.2 L937.5,445.9 L937.9,444.5 L938.3,443.2 L938.8,441.9 L939.2,440.5 L939.6,439.2 L940.0,437.9 L940.5,436.5 L940.9,435.2 L941.3,433.9 L941.7,432.5 L942.1,431.2 L942.5,429.8 L942.9,428.5 L943.2,427.2 L943.6,425.8 L943.9,424.5 L944.3,423.1 L944.6,421.8 L944.9,420.4 L945.2,419.1 L945.5,417.7 L945.7,416.3 L946.0,415.0 L946.2,413.6 L946.5,412.2 L946.7,410.8 L946.9,409.5 L947.1,408.1 L947.3,406.7 L947.5,405.3 L947.7,403.9 L947.9,402.6 L948.0,401.2 L948.2,399.8 L948.4,398.4 L948.5,397.0 L948.7,395.6 L948.8,394.2 L948.9,392.8 L949.0,391.4 L949.2,390.0 L949.3,388.6 L949.4,387.2 L949.5,385.8 L949.6,384.4 L949.7,383.0 L949.8,381.6 L949.9,380.2 L950.0,378.8 L950.1,377.4 L950.2,376.0 L950.3,374.6 L950.4,373.1 L950.5,371.7 L950.6,370.3 L950.7,368.9 L950.8,367.5 L950.8,366.1 L950.9,364.7 L951.0,363.3 L951.1,361.9 L951.2,360.5 L951.3,359.1 L951.5,357.7 L951.6,356.3 L951.7,354.9 L951.8,353.5 L951.9,352.1 L952.0,350.7 L952.1,349.3 L952.3,347.9 L952.4,346.5 L952.5,345.1 L952.6,343.7 L952.7,342.3 L952.9,340.9 L953.0,339.5 L953.1,338.1 L953.3,336.7 L953.4,335.3 L953.5,333.9 L953.6,332.5 L953.8,331.2 L953.9,329.8 L954.0,328.4 L954.2,327.0 L954.3,325.6 L954.4,324.2 L954.6,322.8 L954.7,321.4 L954.8,320.0 L955.0,318.6 L955.1,317.2 L955.3,315.8 L955.4,314.4 L955.5,313.1 L955.7,311.7 L955.8,310.3 L955.9,308.9 L956.1,307.5 L956.2,306.1 L956.3,304.7 L956.4,303.3 L956.6,301.9 L956.7,300.5 L956.8,299.1 L957.0,297.7 L957.1,296.4 L957.2,295.0 L957.3,293.6 L957.5,292.2 L957.6,290.8 L957.7,289.4 L957.8,288.0 L957.9,286.6 L958.1,285.2 L958.2,283.8 L958.3,282.4 L958.4,281.0 L958.5,279.6 L958.6,278.2 L958.7,276.9 L958.9,275.5 L959.0,274.1 L959.1,272.7 L959.2,271.3 L959.3,269.9 L959.4,268.5 L959.5,267.1 L959.6,265.7 L959.7,264.3 L959.8,262.9 L959.9,261.5 L960.0,260.1 L960.1,258.7 L960.2,257.3 L960.3,255.9 L960.4,254.5 L960.5,253.1 L960.6,251.8 L960.7,250.4 L960.8,249.0 L960.9,247.6 L961.0,246.2 L961.1,244.8 L961.2,243.4 L961.3,242.0 L961.4,240.6 L961.5,239.2 L961.6,237.8 L961.7,236.4 L961.8,235.0 L961.9,233.6 L962.0,232.2 L962.1,230.8 L962.2,229.4 L962.3,228.0 L962.4,226.6 L962.5,225.2 L962.6,223.8 L962.7,222.4 L962.8,221.0 L962.9,219.6 L963.0,218.3 L963.1,216.9 L963.1,215.5 L963.2,214.1 L963.3,212.7 L963.4,211.3 L963.5,209.9 L963.6,208.5 L963.7,207.1 L963.8,205.7 L963.9,204.3 L964.0,202.9 L964.1,201.5 L964.2,200.1 L964.3,198.7 L964.4,197.3 L964.4,195.9 L964.5,194.5 L964.6,193.1 L964.7,191.7 L964.8,190.3 L964.9,188.9 L965.0,187.5 L965.1,186.1 L965.2,184.7 L965.3,183.3 L965.4,181.9 L965.5,180.5 L965.6,179.1 L965.7,177.7 L965.8,176.3 L965.9,175.0 L966.0,173.6 L966.1,172.2 L966.2,170.8 L966.3,169.4 L966.4,168.0 L966.5,166.6 L966.6,165.2 L966.7,163.8 L966.8,162.4 L966.9,161.0 L967.0,159.6 L967.1,158.2 L967.2,156.8 L967.3,155.4 L967.4,154.0 L967.5,152.6 L967.6,151.2 L967.7,149.8 L967.8,148.4 L967.9,147.0 L968.0,145.6 L968.1,144.2 L968.2,142.8 L968.3,141.4 L968.5,140.0 L968.6,138.6 L968.7,137.2 L968.8,135.8 L968.9,134.4 L969.0,133.0 L969.1,131.6 L969.2,130.3 L969.4,128.9 L969.5,127.5 L969.6,126.1 L969.7,124.7 L969.8,123.3 L970.0,121.9 L970.1,120.5 L970.2,119.1 L970.3,117.7 L970.4,116.3 L970.6,114.9 L970.7,113.5 L970.8,112.1 L970.9,110.7 L971.1,109.3 L971.2,107.9 L971.3,106.5 L971.4,105.1 L971.6,103.7 L971.7,102.4 L971.8,101.0 L971.9,99.6 L972.1,98.2 L972.2,96.8 L972.3,95.4 L972.4,94.0 L972.6,92.6 L972.7,91.2 L972.8,89.8 L973.0,88.4 L973.1,87.0 L973.2,85.7 L973.4,84.3 L973.5,82.9 L973.6,81.5 L973.7,80.1 L973.9,78.7 L974.0,77.3 L974.1,75.9 L974.3,74.5 L974.4,73.2 L974.5,71.8 L974.7,70.4 L974.8,69.0 L974.9,67.6 L975.1,66.2 L975.2,64.8 L975.3,63.5 L975.5,62.1 L975.6,60.7 L975.7,59.3 L975.9,57.9 L976.0,56.5 L976.1,55.1 L976.3,53.8 L976.4,52.4 L976.6,51.0 L976.8,49.6 L977.0,48.2 L977.2,46.8 L977.4,45.3 L977.6,43.9 L977.8,42.5 L978.1,41.0 L978.4,39.6 L978.7,38.1 L979.0,36.7 L979.4,35.3 L979.9,33.9 L980.4,32.7 L981.1,31.5 L982.0,30.6 L983.0,29.8 L984.1,29.3 L985.3,28.9 L986.6,28.8 L987.9,28.9 L989.1,29.1 L990.3,29.5 L991.5,30.0 L992.6,30.7 L993.6,31.5 L994.6,32.4 L995.6,33.4 L996.6,34.4 L997.5,35.5 L998.5,36.6 L999.4,37.8 L1000.3,39.0 L1001.3,40.2 L1002.2,41.3 L1003.2,42.5 L1004.2,43.6 L1005.2,44.6 L1006.2,45.7 L1007.3,46.7 L1008.3,47.6 L1009.4,48.5 L1010.5,49.3 L1011.7,50.0 L1012.8,50.7 L1014.0,51.3 L1015.3,51.8 L1016.5,52.3 L1017.8,52.6 L1019.1,52.8 L1020.5,53.0 L1021.9,53.0 L1023.3,52.9 L1024.7,52.7 L1026.0,52.3 L1027.3,51.8 L1028.5,51.2 L1029.7,50.4 L1030.9,49.6 L1032.0,48.8 L1033.1,47.9 L1034.2,47.0 L1035.4,46.1 L1036.5,45.2 L1037.6,44.3 L1038.7,43.4 L1039.8,42.5 L1040.9,41.7 L1042.0,40.8 L1043.1,40.0 L1044.2,39.1 L1045.4,38.3 L1046.5,37.5 L1047.7,36.8 L1048.8,36.0 L1050.0,35.3 L1051.2,34.6 L1052.4,33.9 L1053.6,33.3 L1054.8,32.6 L1056.1,32.1 L1057.4,31.5 L1058.6,31.0 L1060.0,30.5 L1061.3,30.1 L1062.6,29.7 L1064.0,29.4 L1065.4,29.1 L1066.8,28.8 L1068.3,28.6 L1069.7,28.4 L1071.1,28.3 L1072.6,28.3 L1074.0,28.3 L1075.4,28.3 L1076.8,28.4 L1078.2,28.6 L1079.6,28.8 L1080.9,29.0 L1082.3,29.4 L1083.6,29.7 L1084.9,30.1 L1086.1,30.6 L1087.4,31.1 L1088.6,31.7 L1089.9,32.2 L1091.1,32.9 L1092.3,33.5 L1093.5,34.2 L1094.7,34.9 L1095.8,35.7 L1097.0,36.4 L1098.2,37.2 L1099.3,38.0 L1100.5,38.8 L1101.6,39.7 L1102.7,40.5 L1103.9,41.4 L1105.0,42.2 L1106.1,43.1 L1107.3,44.0 L1108.4,44.9 L1109.5,45.8 L1110.6,46.6 L1111.8,47.5 L1112.9,48.4 L1114.0,49.3 L1115.1,50.2 L1116.3,51.1 L1117.4,51.9 L1118.5,52.8 L1119.7,53.7 L1120.8,54.5 L1121.9,55.4 L1123.1,56.2 L1124.2,57.0 L1125.4,57.9 L1126.6,58.7 L1127.7,59.4 L1128.9,60.2 L1130.1,61.0 L1131.2,61.7 L1132.4,62.4 L1133.6,63.1 L1134.8,63.8 L1136.0,64.5 L1137.3,65.1 L1138.5,65.7 L1139.7,66.3 L1141.0,66.8 L1142.2,67.4 L1143.5,67.9 L1144.8,68.4 L1146.1,68.8 L1147.4,69.2 L1148.7,69.6 L1150.0,69.9 L1151.3,70.2 L1152.7,70.5 L1154.0,70.8 L1155.4,71.0 L1156.8,71.1 L1158.2,71.2 L1159.6,71.3 L1161.0,71.3 L1162.5,71.3 L1163.9,71.3 L1165.4,71.2 L1166.9,71.0 L1168.3,70.9 L1169.8,70.6 L1171.2,70.4 L1172.6,70.0 L1174.0,69.7 L1175.4,69.3 L1176.7,68.8 L1178.0,68.3 L1179.3,67.8 L1180.6,67.3 L1181.8,66.7 L1183.0,66.1 L1184.3,65.5 L1185.5,64.9 L1186.7,64.2 L1187.9,63.6 L1189.1,62.9 L1190.4,62.3 L1191.6,61.6 L1192.9,61.0 L1194.1,60.4 L1195.3,59.7 L1196.6,59.1 L1197.8,58.4 L1199.1,57.8 L1200.4,57.1 L1201.6,56.5 L1202.8,55.8 L1204.1,55.2 L1205.3,54.5 L1206.6,53.8 L1207.8,53.2 L1209.0,52.5 L1210.2,51.8 L1211.5,51.1 L1212.7,50.4 L1213.9,49.7 L1215.0,48.9 L1216.2,48.2 L1217.4,47.4 L1218.6,46.7 L1219.7,45.9 L1220.9,45.1 L1222.0,44.3 L1223.1,43.5 L1224.3,42.7 L1225.4,41.9 L1226.6,41.0 L1227.7,40.2 L1228.8,39.4 L1230.0,38.6 L1231.2,37.8 L1232.3,37.1 L1233.5,36.3 L1234.7,35.6 L1235.9,34.8 L1237.1,34.1 L1238.4,33.4 L1239.6,32.8 L1240.9,32.1 L1242.1,31.5 L1243.4,30.9 L1244.7,30.4 L1246.0,29.9 L1247.3,29.4 L1248.6,29.0 L1250.0,28.6 L1251.3,28.3 L1252.7,28.0 L1254.0,27.7 L1255.4,27.5 L1256.8,27.4 L1258.2,27.3 L1259.6,27.2 L1261.0,27.2 L1262.4,27.2 L1263.8,27.2 L1265.2,27.3 L1266.6,27.4 L1268.0,27.6 L1269.4,27.8 L1270.8,28.0 L1272.2,28.2 L1273.5,28.5 L1274.9,28.8 L1276.3,29.1 L1277.7,29.5 L1279.0,29.8 L1280.4,30.2 L1281.7,30.7 L1283.0,31.1 L1284.4,31.6 L1285.7,32.0 L1287.0,32.5 L1288.3,33.1 L1289.6,33.6 L1290.9,34.2 L1292.1,34.7 L1293.4,35.3 L1294.7,35.9 L1295.9,36.6 L1297.2,37.2 L1298.4,37.9 L1299.7,38.5 L1300.9,39.2 L1302.1,39.9 L1303.3,40.6 L1304.5,41.3 L1305.7,42.0 L1306.9,42.8 L1308.1,43.5 L1309.3,44.2 L1310.5,45.0 L1311.6,45.7 L1312.8,46.5 L1314.0,47.2 L1315.2,48.0 L1316.4,48.7 L1317.5,49.5 L1318.7,50.2 L1319.9,51.0 L1321.1,51.7 L1322.3,52.4 L1323.5,53.1 L1324.7,53.8 L1325.9,54.4 L1327.2,55.1 L1328.4,55.7 L1329.7,56.4 L1330.9,57.0 L1332.2,57.5 L1333.5,58.1 L1334.8,58.6 L1336.1,59.2 L1337.5,59.6 L1338.8,60.1 L1340.2,60.5 L1341.5,60.9 L1342.9,61.3 L1344.3,61.7 L1345.7,62.0 L1347.1,62.3 L1348.5,62.6 L1349.9,62.9 L1351.3,63.1 L1352.7,63.3 L1354.1,63.4 L1355.5,63.6 L1356.9,63.7 L1358.4,63.8 L1359.8,63.8 L1361.2,63.8 L1362.6,63.8 L1364.0,63.8 L1365.4,63.7 L1366.8,63.6 L1368.2,63.5 L1369.6,63.3 L1371.0,63.1 L1372.4,62.9 L1373.7,62.6 L1375.1,62.3 L1376.4,61.9 L1377.8,61.6 L1379.1,61.2 L1380.4,60.7 L1381.7,60.2 L1383.0,59.7 L1384.3,59.2 L1385.5,58.6 L1386.8,57.9 L1388.0,57.3 L1389.2,56.6 L1390.4,55.8 L1391.6,55.0 L1392.7,54.2 L1393.8,53.4 L1395.0,52.5 L1396.1,51.6 L1397.2,50.7 L1398.2,49.7 L1399.3,48.8 L1400.4,47.8 L1401.4,46.8 L1402.5,45.8 L1403.5,44.8 L1404.6,43.9 L1405.6,42.9 L1406.6,41.9 L1407.7,41.0 L1408.7,40.0 L1409.8,39.1 L1410.8,38.2 L1411.9,37.4 L1412.9,36.5 L1414.0,35.7 L1415.1,34.9 L1416.2,34.2 L1417.4,33.4 L1418.5,32.7 L1419.7,32.0 L1421.0,31.3 L1422.2,30.6 L1423.5,29.9 L1424.9,29.3 L1426.2,28.7 L1427.6,28.3 L1429.0,27.9 L1430.4,27.6 L1431.8,27.4 L1433.1,27.3 L1434.5,27.4 L1435.8,27.7 L1437.0,28.2 L1438.2,28.8 L1439.3,29.6 L1440.4,30.4 L1441.4,31.4 L1442.3,32.5 L1443.2,33.6 L1444.0,34.8 L1444.8,36.0 L1445.5,37.2 L1446.2,38.5 L1446.8,39.7 L1447.4,41.0 L1447.9,42.3 L1448.4,43.7 L1448.9,45.0 L1449.4,46.3 L1449.8,47.7 L1450.2,49.0 L1450.7,50.4 L1451.1,51.8 L1451.5,53.1 L1452.0,54.5 L1452.4,55.8 L1452.9,57.1 L1453.3,58.5 L1453.8,59.8 L1454.3,61.1 L1454.7,62.4 L1455.2,63.7 L1455.7,65.0 L1456.2,66.3 L1456.7,67.6 L1457.1,68.9 L1457.6,70.2 L1458.0,71.6 L1458.5,72.9 L1458.9,74.2 L1459.4,75.5 L1459.8,76.8 L1460.2,78.2 L1460.6,79.5 L1461.0,80.8 L1461.4,82.2 L1461.7,83.5 L1462.1,84.9 L1462.5,86.2 L1462.8,87.5 L1463.2,88.9 L1463.5,90.3 L1463.9,91.6 L1464.2,93.0 L1464.5,94.3 L1464.9,95.7 L1465.2,97.1 L1465.5,98.4 L1465.8,99.8 L1466.1,101.2 L1466.4,102.5 L1466.6,103.9 L1466.9,105.3 L1467.2,106.6 L1467.5,108.0 L1467.7,109.4 L1468.0,110.8 L1468.2,112.2 L1468.5,113.6 L1468.7,114.9 L1469.0,116.3 L1469.2,117.7 L1469.4,119.1 L1469.7,120.5 L1469.9,121.9 L1470.1,123.3 L1470.3,124.6 L1470.5,126.0 L1470.8,127.4 L1471.0,128.8 L1471.2,130.2 L1471.4,131.6 L1471.6,133.0 L1471.8,134.4 L1472.0,135.8 L1472.2,137.1 L1472.3,138.5 L1472.5,139.9 L1472.7,141.3 L1472.9,142.7 L1473.1,144.1 L1473.3,145.5 L1473.4,146.9 L1473.6,148.3 L1473.8,149.7 L1473.9,151.1 L1474.1,152.4 L1474.3,153.8 L1474.4,155.2 L1474.6,156.6 L1474.7,158.0 L1474.9,159.4 L1475.1,160.8 L1475.2,162.2 L1475.4,163.6 L1475.5,165.0 L1475.6,166.4 L1475.8,167.8 L1475.9,169.2 L1476.1,170.5 L1476.2,171.9 L1476.3,173.3 L1476.5,174.7 L1476.6,176.1 L1476.7,177.5 L1476.9,178.9 L1477.0,180.3 L1477.1,181.7 L1477.2,183.1 L1477.4,184.5 L1477.5,185.9 L1477.6,187.3 L1477.7,188.7 L1477.8,190.1 L1478.0,191.4 L1478.1,192.8 L1478.2,194.2 L1478.3,195.6 L1478.4,197.0 L1478.5,198.4 L1478.6,199.8 L1478.7,201.2 L1478.8,202.6 L1478.9,204.0 L1479.0,205.4 L1479.1,206.8 L1479.2,208.2 L1479.3,209.6 L1479.4,211.0 L1479.5,212.4 L1479.6,213.8 L1479.7,215.2 L1479.8,216.6 L1479.9,217.9 L1480.0,219.3 L1480.1,220.7 L1480.2,222.1 L1480.3,223.5 L1480.4,224.9 L1480.4,226.3 L1480.5,227.7 L1480.6,229.1 L1480.7,230.5 L1480.8,231.9 L1480.9,233.3 L1481.0,234.7 L1481.1,236.1 L1481.1,237.5 L1481.2,238.9 L1481.3,240.3 L1481.4,241.7 L1481.5,243.1 L1481.6,244.5 L1481.6,245.9 L1481.7,247.3 L1481.8,248.7 L1481.9,250.1 L1482.0,251.4 L1482.0,252.8 L1482.1,254.2 L1482.2,255.6 L1482.3,257.0 L1482.4,258.4 L1482.5,259.8 L1482.5,261.2 L1482.6,262.6 L1482.7,264.0 L1482.8,265.4 L1482.9,266.8 L1482.9,268.2 L1483.0,269.6 L1483.1,271.0 L1483.2,272.4 L1483.3,273.8 L1483.4,275.2 L1483.4,276.6 L1483.5,278.0 L1483.6,279.4 L1483.7,280.8 L1483.8,282.2 L1483.9,283.6 L1484.0,285.0 L1484.1,286.4 L1484.1,287.8 L1484.2,289.2 L1484.3,290.6 L1484.4,292.0 L1484.5,293.4 L1484.6,294.7 L1484.7,296.1 L1484.8,297.5 L1484.9,298.9 L1485.0,300.3 L1485.1,301.7 L1485.1,303.1 L1485.2,304.5 L1485.3,305.9 L1485.4,307.3 L1485.5,308.7 L1485.6,310.1 L1485.7,311.5 L1485.8,312.9 L1485.9,314.3 L1486.0,315.7 L1486.1,317.1 L1486.2,318.5 L1486.3,319.9 L1486.4,321.3 L1486.6,322.7 L1486.7,324.1 L1486.8,325.5 L1486.9,326.9 L1487.0,328.3 L1487.1,329.7 L1487.2,331.1 L1487.3,332.5 L1487.4,333.8 L1487.5,335.2 L1487.6,336.6 L1487.8,338.0 L1487.9,339.4 L1488.0,340.8 L1488.1,342.2 L1488.2,343.6 L1488.3,345.0 L1488.5,346.4 L1488.6,347.8 L1488.7,349.2 L1488.8,350.6 L1489.0,352.0 L1489.1,353.4 L1489.2,354.8 L1489.3,356.2 L1489.5,357.6 L1489.6,359.0 L1489.7,360.3 L1489.9,361.7 L1490.0,363.1 L1490.1,364.5 L1490.3,365.9 L1490.4,367.3 L1490.5,368.7 L1490.7,370.1 L1490.8,371.5 L1491.0,372.9 L1491.1,374.3 L1491.3,375.7 L1491.4,377.1 L1491.5,378.4 L1491.7,379.8 L1491.8,381.2 L1492.0,382.6 L1492.2,384.0 L1492.3,385.4 L1492.5,386.8 L1492.6,388.2 L1492.8,389.6 L1492.9,391.0 L1493.1,392.4 L1493.3,393.7 L1493.4,395.1 L1493.6,396.5 L1493.7,397.9 L1493.9,399.3 L1494.0,400.0" stroke="#ff0000" stroke-width="5.5" fill="none" stroke-linejoin="round" stroke-linecap="round" clip-path="url(#cb)"/>
<path d="M903.0,499.0 L904.2,498.2 L905.3,497.4 L906.5,496.5 L907.6,495.7 L908.6,494.8 L909.7,493.8 L910.7,492.9 L911.7,491.9 L912.7,490.9 L913.6,489.9 L914.6,488.8 L915.5,487.8 L916.4,486.7 L917.2,485.6 L918.1,484.5 L918.9,483.3 L919.7,482.2 L920.4,481.0 L921.2,479.8 L921.9,478.6 L922.7,477.4 L923.4,476.2 L924.0,475.0 L924.7,473.7 L925.3,472.5 L926.0,471.2 L926.6,469.9 L927.1,468.7 L927.7,467.4 L928.3,466.1 L928.8,464.8 L929.3,463.5 L929.9,462.2 L930.4,460.9 L930.8,459.6 L931.3,458.3 L931.8,457.0 L932.2,455.7 L932.6,454.3 L933.0,453.0 L933.5,451.7 L933.8,450.3 L934.2,449.0 L934.6,447.6 L935.0,446.3 L935.3,444.9 L935.7,443.6 L936.0,442.2 L936.3,440.9 L936.6,439.5 L937.0,438.1 L937.3,436.8 L937.6,435.4 L937.8,434.0 L938.1,432.6 L938.4,431.3 L938.7,429.9 L939.0,428.5 L939.2,427.1 L939.5,425.8 L939.7,424.4 L940.0,423.0 L940.2,421.6 L940.5,420.2 L940.7,418.9 L941.0,417.5 L941.2,416.1 L941.4,414.7 L941.7,413.3 L941.9,412.0 L942.1,410.6 L942.3,409.2 L942.6,407.8 L942.8,406.4 L943.0,405.0 L943.2,403.7 L943.4,402.3 L943.6,400.9 L943.8,399.5 L944.0,398.1 L944.2,396.7 L944.4,395.3 L944.6,394.0 L944.8,392.6 L944.9,391.2 L945.1,389.8 L945.3,388.4 L945.5,387.0 L945.6,385.6 L945.8,384.2 L946.0,382.8 L946.1,381.5 L946.3,380.1 L946.5,378.7 L946.6,377.3 L946.8,375.9 L946.9,374.5 L947.1,373.1 L947.2,371.7 L947.4,370.3 L947.5,368.9 L947.7,367.5 L947.8,366.1 L948.0,364.7 L948.1,363.4 L948.2,362.0 L948.4,360.6 L948.5,359.2 L948.6,357.8 L948.8,356.4 L948.9,355.0 L949.0,353.6 L949.2,352.2 L949.3,350.8 L949.4,349.4 L949.5,348.0 L949.6,346.6 L949.8,345.2 L949.9,343.8 L950.0,342.4 L950.1,341.0 L950.2,339.6 L950.3,338.2 L950.4,336.9 L950.6,335.5 L950.7,334.1 L950.8,332.7 L950.9,331.3 L951.0,329.9 L951.1,328.5 L951.2,327.1 L951.3,325.7 L951.4,324.3 L951.5,322.9 L951.6,321.5 L951.7,320.1 L951.8,318.7 L951.9,317.3 L952.0,315.9 L952.1,314.5 L952.2,313.1 L952.3,311.7 L952.4,310.3 L952.5,308.9 L952.6,307.5 L952.7,306.1 L952.8,304.7 L952.9,303.3 L953.0,301.9 L953.1,300.6 L953.2,299.2 L953.3,297.8 L953.4,296.4 L953.5,295.0 L953.6,293.6 L953.7,292.2 L953.8,290.8 L953.9,289.4 L954.0,288.0 L954.1,286.6 L954.2,285.2 L954.2,283.8 L954.3,282.4 L954.4,281.0 L954.5,279.6 L954.6,278.2 L954.7,276.8 L954.8,275.4 L954.9,274.0 L955.0,272.6 L955.1,271.3 L955.2,269.9 L955.3,268.5 L955.4,267.1 L955.5,265.7 L955.6,264.3 L955.7,262.9 L955.8,261.5 L955.9,260.1 L956.0,258.7 L956.1,257.3 L956.2,255.9 L956.3,254.5 L956.4,253.1 L956.5,251.7 L956.6,250.3 L956.7,248.9 L956.8,247.6 L956.9,246.2 L957.0,244.8 L957.1,243.4 L957.2,242.0 L957.3,240.6 L957.4,239.2 L957.5,237.8 L957.6,236.4 L957.7,235.0 L957.8,233.6 L957.9,232.2 L958.0,230.8 L958.1,229.4 L958.2,228.0 L958.3,226.6 L958.4,225.2 L958.5,223.9 L958.6,222.5 L958.7,221.1 L958.8,219.7 L958.9,218.3 L959.0,216.9 L959.1,215.5 L959.2,214.1 L959.3,212.7 L959.4,211.3 L959.5,209.9 L959.6,208.5 L959.7,207.1 L959.8,205.7 L959.9,204.3 L960.0,202.9 L960.1,201.5 L960.2,200.1 L960.3,198.8 L960.4,197.4 L960.5,196.0 L960.6,194.6 L960.7,193.2 L960.8,191.8 L960.9,190.4 L961.0,189.0 L961.1,187.6 L961.2,186.2 L961.3,184.8 L961.4,183.4 L961.5,182.0 L961.6,180.6 L961.7,179.2 L961.8,177.8 L961.9,176.4 L962.0,175.0 L962.1,173.6 L962.3,172.2 L962.4,170.8 L962.5,169.4 L962.6,168.0 L962.7,166.6 L962.8,165.2 L962.9,163.8 L963.0,162.4 L963.1,161.0 L963.2,159.6 L963.3,158.3 L963.4,156.9 L963.5,155.5 L963.6,154.1 L963.7,152.7 L963.8,151.3 L963.9,149.9 L964.1,148.5 L964.2,147.1 L964.3,145.7 L964.4,144.3 L964.5,142.9 L964.6,141.5 L964.7,140.1 L964.8,138.7 L964.9,137.3 L965.0,135.9 L965.1,134.5 L965.2,133.1 L965.4,131.7 L965.5,130.3 L965.6,128.9 L965.7,127.5 L965.8,126.1 L965.9,124.7 L966.0,123.3 L966.1,121.9 L966.2,120.5 L966.4,119.1 L966.5,117.7 L966.6,116.3 L966.7,114.9 L966.8,113.5 L966.9,112.1 L967.1,110.7 L967.2,109.3 L967.3,107.9 L967.4,106.5 L967.5,105.1 L967.6,103.7 L967.8,102.3 L967.9,100.9 L968.0,99.5 L968.1,98.1 L968.3,96.7 L968.4,95.3 L968.5,93.9 L968.6,92.5 L968.7,91.2 L968.9,89.8 L969.0,88.4 L969.1,87.0 L969.3,85.6 L969.4,84.2 L969.5,82.8 L969.7,81.4 L969.8,80.1 L969.9,78.7 L970.1,77.3 L970.2,75.9 L970.3,74.5 L970.5,73.2 L970.6,71.8 L970.7,70.4 L970.9,69.0 L971.0,67.7 L971.2,66.3 L971.3,64.9 L971.4,63.5 L971.6,62.2 L971.7,60.8 L971.9,59.4 L972.0,58.1 L972.2,56.7 L972.3,55.3 L972.5,54.0 L972.7,52.6 L972.9,51.2 L973.0,49.8 L973.2,48.4 L973.4,47.0 L973.6,45.6 L973.9,44.1 L974.1,42.7 L974.4,41.2 L974.6,39.7 L974.9,38.2 L975.2,36.7 L975.6,35.2 L976.0,33.8 L976.4,32.5 L977.0,31.3 L978.1,30.0 L979.6,29.2 L981.4,29.1 L982.7,29.4 L984.1,29.9 L985.4,30.5 L986.7,31.3 L987.8,32.2 L988.9,33.1 L989.9,34.1 L990.9,35.2 L991.7,36.3 L992.6,37.5 L993.3,38.7 L994.1,39.9 L994.9,41.1 L995.6,42.2 L996.4,43.4 L997.2,44.6 L998.1,45.7 L999.0,46.7 L1000.0,47.7 L1001.0,48.6 L1002.2,49.5 L1003.3,50.3 L1004.6,51.0 L1005.8,51.6 L1007.1,52.1 L1008.4,52.5 L1009.8,52.8 L1011.1,53.0 L1012.4,53.1 L1013.8,53.1 L1015.1,52.9 L1016.4,52.7 L1017.7,52.2 L1018.9,51.7 L1020.2,51.1 L1021.4,50.3 L1022.5,49.5 L1023.7,48.7 L1024.9,47.8 L1026.0,46.9 L1027.2,46.0 L1028.3,45.1 L1029.4,44.2 L1030.6,43.3 L1031.7,42.4 L1032.9,41.6 L1034.0,40.8 L1035.2,39.9 L1036.3,39.1 L1037.5,38.4 L1038.6,37.6 L1039.8,36.9 L1041.0,36.2 L1042.2,35.5 L1043.4,34.8 L1044.6,34.1 L1045.8,33.5 L1047.0,32.9 L1048.3,32.4 L1049.6,31.8 L1050.9,31.3 L1052.2,30.8 L1053.5,30.4 L1054.8,29.9 L1056.2,29.5 L1057.6,29.2 L1059.0,28.9 L1060.4,28.6 L1061.8,28.3 L1063.2,28.2 L1064.6,28.1 L1066.0,28.0 L1067.4,28.0 L1068.8,28.1 L1070.2,28.2 L1071.5,28.5 L1072.8,28.8 L1074.1,29.2 L1075.4,29.7 L1076.6,30.3 L1077.8,31.0 L1079.0,31.7 L1080.1,32.5 L1081.2,33.4 L1082.3,34.3 L1083.4,35.3 L1084.4,36.3 L1085.5,37.3 L1086.5,38.4 L1087.5,39.4 L1088.5,40.5 L1089.5,41.6 L1090.5,42.6 L1091.5,43.7 L1092.5,44.7 L1093.4,45.7 L1094.4,46.8 L1095.4,47.8 L1096.3,48.8 L1097.3,49.8 L1098.2,50.9 L1099.1,51.9 L1100.1,52.9 L1101.0,53.9 L1102.0,54.9 L1102.9,55.9 L1103.8,57.0 L1104.8,58.0 L1105.7,59.0 L1106.7,60.0 L1107.6,61.0 L1108.5,62.0 L1109.5,63.1 L1110.5,64.1 L1111.4,65.1 L1112.4,66.1 L1113.4,67.1 L1114.3,68.0 L1115.3,69.0 L1116.3,70.0 L1117.3,70.9 L1118.4,71.9 L1119.4,72.8 L1120.5,73.7 L1121.5,74.6 L1122.6,75.5 L1123.7,76.4 L1124.8,77.2 L1125.9,78.1 L1127.1,78.9 L1128.2,79.7 L1129.4,80.5 L1130.6,81.2 L1131.8,82.0 L1133.1,82.7 L1134.3,83.3 L1135.6,84.0 L1136.9,84.6 L1138.2,85.2 L1139.6,85.8 L1140.9,86.3 L1142.3,86.8 L1143.6,87.2 L1145.0,87.6 L1146.4,87.9 L1147.8,88.2 L1149.1,88.5 L1150.5,88.7 L1151.9,88.8 L1153.3,88.9 L1154.6,88.9 L1156.0,88.9 L1157.3,88.8 L1158.7,88.6 L1160.0,88.3 L1161.3,88.0 L1162.6,87.7 L1163.9,87.2 L1165.2,86.8 L1166.5,86.2 L1167.7,85.7 L1169.0,85.0 L1170.2,84.4 L1171.4,83.7 L1172.7,83.0 L1173.9,82.2 L1175.1,81.4 L1176.3,80.6 L1177.5,79.8 L1178.7,79.0 L1179.9,78.2 L1181.1,77.3 L1182.2,76.5 L1183.4,75.6 L1184.6,74.8 L1185.8,74.0 L1186.9,73.1 L1188.1,72.3 L1189.3,71.5 L1190.4,70.8 L1191.6,70.0 L1192.7,69.3 L1193.9,68.5 L1195.1,67.8 L1196.2,67.1 L1197.4,66.5 L1198.6,65.8 L1199.7,65.1 L1200.9,64.4 L1202.1,63.7 L1203.3,63.0 L1204.5,62.3 L1205.7,61.6 L1206.9,60.9 L1208.1,60.2 L1209.3,59.4 L1210.5,58.7 L1211.7,57.9 L1212.9,57.1 L1214.1,56.4 L1215.3,55.6 L1216.5,54.7 L1217.6,53.9 L1218.7,53.1 L1219.8,52.2 L1220.9,51.4 L1222.0,50.5 L1223.1,49.6 L1224.2,48.7 L1225.2,47.8 L1226.3,46.9 L1227.4,46.0 L1228.4,45.1 L1229.5,44.2 L1230.6,43.3 L1231.7,42.5 L1232.8,41.6 L1233.9,40.8 L1235.0,39.9 L1236.2,39.1 L1237.3,38.3 L1238.5,37.5 L1239.7,36.8 L1240.9,36.0 L1242.1,35.3 L1243.4,34.6 L1244.6,33.9 L1245.8,33.3 L1247.1,32.7 L1248.4,32.1 L1249.7,31.5 L1251.0,31.0 L1252.3,30.5 L1253.6,30.0 L1254.9,29.6 L1256.2,29.2 L1257.6,28.8 L1258.9,28.5 L1260.3,28.2 L1261.6,28.0 L1263.0,27.8 L1264.4,27.6 L1265.8,27.5 L1267.1,27.4 L1268.5,27.3 L1269.9,27.3 L1271.3,27.3 L1272.7,27.3 L1274.1,27.3 L1275.5,27.4 L1276.9,27.6 L1278.3,27.7 L1279.7,27.9 L1281.0,28.1 L1282.4,28.4 L1283.8,28.6 L1285.2,28.9 L1286.6,29.2 L1287.9,29.6 L1289.3,30.0 L1290.6,30.4 L1292.0,30.8 L1293.3,31.2 L1294.6,31.7 L1296.0,32.2 L1297.3,32.7 L1298.6,33.2 L1299.9,33.7 L1301.2,34.3 L1302.5,34.9 L1303.8,35.4 L1305.1,36.0 L1306.4,36.6 L1307.7,37.2 L1308.9,37.8 L1310.2,38.5 L1311.5,39.1 L1312.8,39.7 L1314.0,40.4 L1315.3,41.0 L1316.6,41.6 L1317.8,42.3 L1319.1,42.9 L1320.4,43.5 L1321.6,44.2 L1322.9,44.8 L1324.2,45.4 L1325.5,46.0 L1326.7,46.6 L1328.0,47.2 L1329.3,47.7 L1330.6,48.3 L1331.8,48.9 L1333.1,49.4 L1334.4,49.9 L1335.7,50.4 L1337.0,50.9 L1338.3,51.3 L1339.6,51.8 L1340.9,52.2 L1342.2,52.6 L1343.5,53.0 L1344.8,53.3 L1346.2,53.6 L1347.5,53.9 L1348.8,54.1 L1350.2,54.4 L1351.5,54.6 L1352.9,54.7 L1354.3,54.9 L1355.6,54.9 L1357.0,55.0 L1358.4,55.0 L1359.8,55.0 L1361.2,54.9 L1362.6,54.8 L1364.0,54.7 L1365.4,54.6 L1366.8,54.4 L1368.2,54.1 L1369.6,53.8 L1371.0,53.5 L1372.4,53.2 L1373.8,52.8 L1375.2,52.4 L1376.5,51.9 L1377.9,51.5 L1379.2,50.9 L1380.5,50.4 L1381.8,49.8 L1383.1,49.2 L1384.4,48.5 L1385.6,47.8 L1386.9,47.1 L1388.1,46.3 L1389.2,45.5 L1390.4,44.7 L1391.5,43.8 L1392.6,42.9 L1393.7,42.0 L1394.8,41.0 L1395.9,40.1 L1396.9,39.1 L1397.9,38.1 L1399.0,37.2 L1400.0,36.2 L1401.0,35.3 L1402.1,34.4 L1403.2,33.5 L1404.2,32.7 L1405.3,31.9 L1406.5,31.2 L1407.6,30.5 L1408.8,29.9 L1410.0,29.4 L1411.3,28.9 L1412.6,28.5 L1413.9,28.2 L1415.3,28.0 L1416.7,27.9 L1418.2,27.7 L1419.6,27.7 L1421.1,27.6 L1422.6,27.5 L1424.1,27.5 L1425.6,27.4 L1427.0,27.3 L1428.5,27.2 L1429.9,27.2 L1431.2,27.4 L1432.5,27.7 L1433.6,28.2 L1434.7,28.9 L1435.6,29.8 L1436.5,30.8 L1437.3,32.0 L1438.1,33.3 L1438.8,34.6 L1439.4,36.0 L1440.0,37.5 L1440.5,38.9 L1441.0,40.3 L1441.5,41.6 L1442.0,43.0 L1442.4,44.3 L1442.8,45.7 L1443.2,47.0 L1443.6,48.3 L1444.0,49.6 L1444.4,50.9 L1444.8,52.2 L1445.2,53.5 L1445.6,54.8 L1446.1,56.1 L1446.5,57.4 L1446.9,58.8 L1447.4,60.1 L1447.9,61.4 L1448.3,62.7 L1448.8,64.0 L1449.3,65.3 L1449.7,66.6 L1450.2,68.0 L1450.6,69.3 L1451.1,70.6 L1451.5,72.0 L1452.0,73.3 L1452.4,74.6 L1452.8,76.0 L1453.2,77.3 L1453.6,78.6 L1454.0,80.0 L1454.4,81.3 L1454.8,82.7 L1455.1,84.0 L1455.5,85.4 L1455.9,86.7 L1456.2,88.1 L1456.6,89.5 L1456.9,90.8 L1457.3,92.2 L1457.6,93.5 L1457.9,94.9 L1458.2,96.3 L1458.6,97.6 L1458.9,99.0 L1459.2,100.4 L1459.5,101.7 L1459.8,103.1 L1460.1,104.5 L1460.4,105.8 L1460.7,107.2 L1461.0,108.6 L1461.3,109.9 L1461.6,111.3 L1461.9,112.7 L1462.2,114.0 L1462.5,115.4 L1462.8,116.8 L1463.1,118.1 L1463.3,119.5 L1463.6,120.9 L1463.9,122.3 L1464.2,123.6 L1464.4,125.0 L1464.7,126.4 L1465.0,127.7 L1465.2,129.1 L1465.5,130.5 L1465.8,131.9 L1466.0,133.2 L1466.3,134.6 L1466.5,136.0 L1466.8,137.4 L1467.0,138.7 L1467.3,140.1 L1467.5,141.5 L1467.8,142.9 L1468.0,144.2 L1468.3,145.6 L1468.5,147.0 L1468.8,148.4 L1469.0,149.7 L1469.2,151.1 L1469.5,152.5 L1469.7,153.9 L1469.9,155.3 L1470.2,156.6 L1470.4,158.0 L1470.6,159.4 L1470.9,160.8 L1471.1,162.2 L1471.3,163.5 L1471.5,164.9 L1471.7,166.3 L1472.0,167.7 L1472.2,169.1 L1472.4,170.4 L1472.6,171.8 L1472.8,173.2 L1473.0,174.6 L1473.2,176.0 L1473.5,177.4 L1473.7,178.8 L1473.9,180.1 L1474.1,181.5 L1474.3,182.9 L1474.5,184.3 L1474.7,185.7 L1474.9,187.1 L1475.1,188.4 L1475.3,189.8 L1475.5,191.2 L1475.7,192.6 L1475.9,194.0 L1476.1,195.4 L1476.2,196.8 L1476.4,198.2 L1476.6,199.5 L1476.8,200.9 L1477.0,202.3 L1477.2,203.7 L1477.4,205.1 L1477.6,206.5 L1477.7,207.9 L1477.9,209.3 L1478.1,210.6 L1478.3,212.0 L1478.5,213.4 L1478.7,214.8 L1478.8,216.2 L1479.0,217.6 L1479.2,219.0 L1479.4,220.4 L1479.5,221.8 L1479.7,223.1 L1479.9,224.5 L1480.1,225.9 L1480.2,227.3 L1480.4,228.7 L1480.6,230.1 L1480.8,231.5 L1480.9,232.9 L1481.1,234.3 L1481.3,235.6 L1481.4,237.0 L1481.6,238.4 L1481.8,239.8 L1481.9,241.2 L1482.1,242.6 L1482.3,244.0 L1482.4,245.4 L1482.6,246.8 L1482.8,248.2 L1482.9,249.5 L1483.1,250.9 L1483.2,252.3 L1483.4,253.7 L1483.5,255.1 L1483.7,256.5 L1483.9,257.9 L1484.0,259.3 L1484.2,260.7 L1484.3,262.1 L1484.4,263.5 L1484.6,264.8 L1484.7,266.2 L1484.9,267.6 L1485.0,269.0 L1485.1,270.4 L1485.3,271.8 L1485.4,273.2 L1485.5,274.6 L1485.7,276.0 L1485.8,277.4 L1485.9,278.8 L1486.0,280.2 L1486.2,281.6 L1486.3,282.9 L1486.4,284.3 L1486.5,285.7 L1486.6,287.1 L1486.7,288.5 L1486.8,289.9 L1486.9,291.3 L1487.0,292.7 L1487.1,294.1 L1487.2,295.5 L1487.3,296.9 L1487.4,298.3 L1487.5,299.7 L1487.5,301.1 L1487.6,302.5 L1487.7,303.9 L1487.8,305.3 L1487.8,306.7 L1487.9,308.1 L1488.0,309.5 L1488.0,310.8 L1488.1,312.2 L1488.2,313.6 L1488.2,315.0 L1488.3,316.4 L1488.3,317.8 L1488.4,319.2 L1488.4,320.6 L1488.5,322.0 L1488.5,323.4 L1488.6,324.8 L1488.6,326.2 L1488.6,327.6 L1488.7,329.0 L1488.7,330.4 L1488.7,331.8 L1488.8,333.2 L1488.8,334.6 L1488.8,336.0 L1488.9,337.4 L1488.9,338.8 L1488.9,340.2 L1488.9,341.6 L1488.9,343.0 L1489.0,344.4 L1489.0,345.8 L1489.0,347.2 L1489.0,348.6 L1489.0,350.0 L1489.0,351.4 L1489.1,352.8 L1489.1,354.2 L1489.1,355.6 L1489.1,357.0 L1489.1,358.4 L1489.1,359.8 L1489.1,361.2 L1489.1,362.6 L1489.1,364.0 L1489.1,365.4 L1489.1,366.8 L1489.1,368.2 L1489.1,369.6 L1489.1,371.0 L1489.1,372.4 L1489.1,373.8 L1489.1,375.2 L1489.1,376.6 L1489.1,378.0 L1489.1,379.4 L1489.1,380.8 L1489.1,382.2 L1489.1,383.6 L1489.1,385.0 L1489.1,386.4 L1489.1,387.8 L1489.1,389.2 L1489.1,390.6 L1489.1,392.0 L1489.1,393.4 L1489.1,394.8 L1489.1,396.2 L1489.1,397.6 L1489.1,399.0 L1489.1,400.4 L1489.1,401.8 L1489.1,403.2 L1489.1,404.6 L1489.1,406.0 L1489.1,407.4 L1489.1,408.8 L1489.1,410.2 L1489.1,411.6 L1489.1,413.0 L1489.2,414.4 L1489.2,415.8 L1489.2,417.2 L1489.2,418.6 L1489.2,420.0 L1489.2,421.4 L1489.2,422.8 L1489.2,424.2 L1489.2,425.6 L1489.3,427.0 L1489.3,428.4 L1489.3,429.8 L1489.3,431.2 L1489.3,432.6 L1489.4,434.0 L1489.4,435.4 L1489.4,436.8 L1489.4,438.2 L1489.5,439.6 L1489.5,441.0 L1489.5,442.4 L1489.6,443.8 L1489.6,445.2 L1489.6,446.6 L1489.7,448.0 L1489.7,449.4 L1489.8,450.8 L1489.8,452.2 L1489.9,453.6 L1489.9,455.0 L1490.0,456.4 L1490.0,457.8 L1490.1,459.2 L1490.1,460.6 L1490.2,462.0" stroke="#00ff00" stroke-width="5.5" fill="none" stroke-linejoin="round" stroke-linecap="round" clip-path="url(#cb)"/>
<path d="M903.0,497.0 L903.6,495.7 L904.2,494.5 L904.9,493.3 L905.7,492.1 L906.4,490.9 L907.2,489.8 L908.1,488.6 L908.9,487.5 L909.7,486.4 L910.6,485.3 L911.4,484.1 L912.3,483.0 L913.1,481.9 L913.9,480.7 L914.6,479.5 L915.4,478.4 L916.1,477.2 L916.9,476.0 L917.6,474.8 L918.3,473.6 L919.0,472.3 L919.7,471.1 L920.3,469.9 L921.0,468.6 L921.6,467.4 L922.2,466.1 L922.8,464.9 L923.4,463.6 L924.0,462.3 L924.5,461.0 L925.1,459.7 L925.6,458.4 L926.2,457.2 L926.7,455.9 L927.2,454.5 L927.7,453.2 L928.2,451.9 L928.6,450.6 L929.1,449.3 L929.6,448.0 L930.0,446.6 L930.4,445.3 L930.9,444.0 L931.3,442.7 L931.7,441.3 L932.1,440.0 L932.5,438.6 L932.9,437.3 L933.2,436.0 L933.6,434.6 L934.0,433.3 L934.3,431.9 L934.6,430.6 L935.0,429.2 L935.3,427.9 L935.6,426.5 L935.9,425.1 L936.2,423.8 L936.5,422.4 L936.8,421.1 L937.1,419.7 L937.4,418.3 L937.6,416.9 L937.9,415.6 L938.2,414.2 L938.4,412.8 L938.6,411.5 L938.9,410.1 L939.1,408.7 L939.3,407.3 L939.6,405.9 L939.8,404.6 L940.0,403.2 L940.2,401.8 L940.4,400.4 L940.6,399.0 L940.8,397.6 L941.0,396.2 L941.1,394.8 L941.3,393.4 L941.5,392.1 L941.7,390.7 L941.8,389.3 L942.0,387.9 L942.1,386.5 L942.3,385.1 L942.4,383.7 L942.6,382.3 L942.7,380.9 L942.9,379.5 L943.0,378.1 L943.1,376.7 L943.3,375.3 L943.4,373.9 L943.5,372.5 L943.7,371.1 L943.8,369.7 L943.9,368.3 L944.0,366.9 L944.1,365.5 L944.3,364.1 L944.4,362.7 L944.5,361.3 L944.6,359.9 L944.7,358.5 L944.8,357.1 L944.9,355.7 L945.1,354.3 L945.2,352.9 L945.3,351.5 L945.4,350.1 L945.5,348.7 L945.6,347.3 L945.7,345.9 L945.8,344.5 L945.9,343.1 L946.0,341.7 L946.1,340.3 L946.2,338.9 L946.3,337.5 L946.4,336.1 L946.5,334.7 L946.6,333.3 L946.7,331.9 L946.8,330.5 L946.9,329.1 L947.0,327.7 L947.1,326.3 L947.2,324.9 L947.3,323.5 L947.4,322.1 L947.5,320.7 L947.6,319.3 L947.7,317.9 L947.8,316.5 L947.9,315.1 L948.0,313.7 L948.1,312.3 L948.2,310.9 L948.2,309.5 L948.3,308.1 L948.4,306.7 L948.5,305.4 L948.6,304.0 L948.7,302.6 L948.8,301.2 L948.9,299.8 L949.0,298.4 L949.1,297.0 L949.2,295.6 L949.3,294.2 L949.4,292.8 L949.5,291.4 L949.6,290.0 L949.7,288.6 L949.8,287.2 L949.9,285.8 L950.0,284.4 L950.1,283.0 L950.2,281.6 L950.3,280.2 L950.4,278.8 L950.5,277.5 L950.6,276.1 L950.7,274.7 L950.8,273.3 L950.9,271.9 L951.0,270.5 L951.1,269.1 L951.2,267.7 L951.3,266.3 L951.4,264.9 L951.5,263.5 L951.6,262.1 L951.7,260.7 L951.8,259.3 L951.9,257.9 L952.0,256.6 L952.1,255.2 L952.2,253.8 L952.3,252.4 L952.4,251.0 L952.6,249.6 L952.7,248.2 L952.8,246.8 L952.9,245.4 L953.0,244.0 L953.1,242.6 L953.2,241.2 L953.3,239.8 L953.4,238.4 L953.5,237.1 L953.6,235.7 L953.7,234.3 L953.8,232.9 L953.9,231.5 L954.0,230.1 L954.1,228.7 L954.2,227.3 L954.3,225.9 L954.5,224.5 L954.6,223.1 L954.7,221.7 L954.8,220.3 L954.9,219.0 L955.0,217.6 L955.1,216.2 L955.2,214.8 L955.3,213.4 L955.4,212.0 L955.5,210.6 L955.6,209.2 L955.7,207.8 L955.8,206.4 L956.0,205.0 L956.1,203.6 L956.2,202.2 L956.3,200.9 L956.4,199.5 L956.5,198.1 L956.6,196.7 L956.7,195.3 L956.8,193.9 L956.9,192.5 L957.0,191.1 L957.1,189.7 L957.2,188.3 L957.3,186.9 L957.5,185.5 L957.6,184.1 L957.7,182.7 L957.8,181.3 L957.9,180.0 L958.0,178.6 L958.1,177.2 L958.2,175.8 L958.3,174.4 L958.4,173.0 L958.5,171.6 L958.6,170.2 L958.7,168.8 L958.9,167.4 L959.0,166.0 L959.1,164.6 L959.2,163.2 L959.3,161.8 L959.4,160.4 L959.5,159.0 L959.6,157.6 L959.7,156.2 L959.8,154.8 L959.9,153.4 L960.0,152.0 L960.1,150.7 L960.2,149.3 L960.3,147.9 L960.4,146.5 L960.5,145.1 L960.7,143.7 L960.8,142.3 L960.9,140.9 L961.0,139.5 L961.1,138.1 L961.2,136.7 L961.3,135.3 L961.4,133.9 L961.5,132.5 L961.6,131.1 L961.7,129.7 L961.8,128.3 L961.9,126.9 L962.0,125.5 L962.1,124.1 L962.2,122.7 L962.3,121.3 L962.4,119.9 L962.5,118.5 L962.6,117.1 L962.7,115.7 L962.8,114.3 L962.9,112.9 L963.0,111.5 L963.1,110.1 L963.2,108.7 L963.3,107.3 L963.4,105.9 L963.5,104.5 L963.6,103.1 L963.7,101.7 L963.8,100.2 L963.9,98.8 L964.0,97.4 L964.1,96.0 L964.2,94.6 L964.3,93.2 L964.4,91.8 L964.5,90.4 L964.6,89.0 L964.7,87.6 L964.8,86.2 L964.9,84.8 L965.0,83.4 L965.1,82.0 L965.2,80.6 L965.3,79.2 L965.4,77.8 L965.5,76.3 L965.6,74.9 L965.7,73.5 L965.8,72.1 L965.9,70.7 L966.0,69.3 L966.1,67.9 L966.2,66.5 L966.3,65.1 L966.5,63.7 L966.6,62.3 L966.7,60.9 L966.9,59.5 L967.1,58.1 L967.3,56.8 L967.5,55.4 L967.7,54.0 L967.9,52.6 L968.1,51.3 L968.4,49.9 L968.7,48.6 L968.9,47.2 L969.3,45.9 L969.6,44.5 L969.9,43.2 L970.3,41.9 L970.7,40.6 L971.1,39.3 L971.6,38.0 L972.0,36.7 L972.5,35.4 L973.0,34.1 L973.6,32.9 L974.2,31.6 L974.8,30.4 L975.6,29.2 L976.7,28.3 L978.2,29.0 L979.0,30.0 L979.8,31.1 L980.6,32.2 L981.4,33.3 L982.1,34.5 L982.9,35.7 L983.7,36.9 L984.4,38.1 L985.2,39.3 L986.0,40.6 L986.8,41.8 L987.6,43.0 L988.5,44.2 L989.3,45.4 L990.2,46.5 L991.1,47.6 L992.1,48.7 L993.0,49.8 L994.0,50.8 L995.1,51.7 L996.1,52.6 L997.2,53.4 L998.4,54.1 L999.6,54.7 L1000.9,55.3 L1002.2,55.8 L1003.5,56.2 L1004.8,56.5 L1006.2,56.7 L1007.6,56.9 L1008.9,56.9 L1010.3,56.8 L1011.7,56.6 L1013.0,56.3 L1014.3,55.9 L1015.5,55.4 L1016.7,54.8 L1017.8,54.1 L1018.9,53.2 L1020.0,52.3 L1021.0,51.3 L1022.0,50.2 L1022.9,49.1 L1023.8,48.0 L1024.7,46.8 L1025.6,45.6 L1026.5,44.4 L1027.4,43.3 L1028.3,42.1 L1029.2,41.0 L1030.1,39.9 L1031.0,38.8 L1031.9,37.8 L1032.9,36.7 L1033.8,35.7 L1034.8,34.6 L1035.7,33.6 L1036.7,32.7 L1037.8,31.8 L1038.9,30.9 L1040.0,30.2 L1041.1,29.5 L1042.3,28.9 L1043.6,28.4 L1044.9,28.0 L1046.2,27.6 L1047.5,27.3 L1048.9,27.1 L1050.3,27.0 L1051.7,26.9 L1053.2,26.9 L1054.6,26.9 L1056.1,26.9 L1057.5,26.9 L1059.0,27.0 L1060.4,27.2 L1061.8,27.4 L1063.2,27.7 L1064.5,28.0 L1065.9,28.4 L1067.1,28.9 L1068.4,29.4 L1069.6,30.0 L1070.8,30.6 L1072.0,31.3 L1073.1,32.0 L1074.2,32.8 L1075.3,33.7 L1076.3,34.6 L1077.3,35.5 L1078.3,36.4 L1079.3,37.4 L1080.2,38.5 L1081.1,39.5 L1082.0,40.6 L1082.9,41.7 L1083.7,42.8 L1084.6,44.0 L1085.4,45.1 L1086.3,46.3 L1087.1,47.5 L1087.9,48.7 L1088.7,49.9 L1089.5,51.0 L1090.3,52.2 L1091.1,53.4 L1091.9,54.6 L1092.7,55.7 L1093.6,56.9 L1094.4,58.0 L1095.2,59.2 L1096.0,60.3 L1096.9,61.4 L1097.7,62.5 L1098.6,63.6 L1099.4,64.7 L1100.3,65.8 L1101.2,66.9 L1102.0,67.9 L1102.9,69.0 L1103.8,70.1 L1104.7,71.1 L1105.6,72.1 L1106.5,73.2 L1107.5,74.2 L1108.4,75.2 L1109.3,76.2 L1110.3,77.2 L1111.3,78.2 L1112.2,79.2 L1113.2,80.1 L1114.2,81.1 L1115.2,82.1 L1116.2,83.0 L1117.2,84.0 L1118.3,84.9 L1119.3,85.9 L1120.4,86.8 L1121.4,87.7 L1122.5,88.7 L1123.6,89.6 L1124.7,90.5 L1125.8,91.4 L1127.0,92.3 L1128.1,93.2 L1129.3,94.0 L1130.4,94.9 L1131.6,95.7 L1132.8,96.5 L1134.0,97.3 L1135.2,98.1 L1136.5,98.8 L1137.7,99.6 L1138.9,100.2 L1140.2,100.9 L1141.5,101.5 L1142.7,102.0 L1144.0,102.6 L1145.3,103.0 L1146.6,103.4 L1147.9,103.8 L1149.3,104.1 L1150.6,104.4 L1151.9,104.6 L1153.3,104.7 L1154.6,104.8 L1156.0,104.8 L1157.4,104.7 L1158.7,104.5 L1160.1,104.3 L1161.5,104.1 L1162.9,103.8 L1164.2,103.4 L1165.6,103.0 L1167.0,102.5 L1168.3,102.0 L1169.6,101.5 L1171.0,100.9 L1172.3,100.4 L1173.5,99.8 L1174.8,99.2 L1176.1,98.5 L1177.3,97.9 L1178.5,97.2 L1179.8,96.5 L1181.0,95.8 L1182.1,95.0 L1183.3,94.3 L1184.5,93.5 L1185.6,92.7 L1186.8,91.9 L1187.9,91.1 L1189.0,90.3 L1190.1,89.4 L1191.2,88.6 L1192.3,87.7 L1193.4,86.8 L1194.5,85.9 L1195.5,85.0 L1196.6,84.1 L1197.6,83.2 L1198.7,82.3 L1199.7,81.3 L1200.7,80.4 L1201.8,79.4 L1202.8,78.5 L1203.8,77.5 L1204.8,76.5 L1205.8,75.6 L1206.8,74.6 L1207.8,73.6 L1208.8,72.6 L1209.8,71.6 L1210.8,70.6 L1211.8,69.7 L1212.8,68.7 L1213.8,67.7 L1214.8,66.7 L1215.8,65.7 L1216.8,64.7 L1217.8,63.7 L1218.8,62.7 L1219.7,61.7 L1220.7,60.8 L1221.7,59.8 L1222.7,58.8 L1223.7,57.8 L1224.7,56.9 L1225.8,55.9 L1226.8,54.9 L1227.8,54.0 L1228.8,53.0 L1229.8,52.1 L1230.9,51.1 L1231.9,50.2 L1233.0,49.3 L1234.0,48.4 L1235.1,47.5 L1236.1,46.6 L1237.2,45.7 L1238.3,44.8 L1239.4,44.0 L1240.5,43.1 L1241.6,42.3 L1242.7,41.4 L1243.9,40.6 L1245.0,39.8 L1246.2,39.0 L1247.3,38.2 L1248.5,37.5 L1249.7,36.7 L1250.9,36.0 L1252.1,35.3 L1253.3,34.6 L1254.6,33.9 L1255.8,33.2 L1257.1,32.6 L1258.3,32.0 L1259.6,31.4 L1260.9,30.9 L1262.2,30.4 L1263.5,29.9 L1264.8,29.5 L1266.2,29.1 L1267.5,28.7 L1268.9,28.4 L1270.2,28.1 L1271.6,27.9 L1272.9,27.7 L1274.3,27.6 L1275.7,27.5 L1277.1,27.5 L1278.5,27.4 L1279.9,27.4 L1281.3,27.5 L1282.7,27.5 L1284.1,27.5 L1285.5,27.6 L1287.0,27.6 L1288.4,27.7 L1289.8,27.8 L1291.2,27.8 L1292.6,27.9 L1294.1,28.0 L1295.5,28.1 L1296.9,28.2 L1298.3,28.3 L1299.7,28.4 L1301.1,28.6 L1302.5,28.7 L1303.9,28.9 L1305.3,29.1 L1306.7,29.3 L1308.1,29.6 L1309.4,29.8 L1310.8,30.1 L1312.2,30.4 L1313.5,30.7 L1314.8,31.1 L1316.2,31.5 L1317.5,31.9 L1318.8,32.4 L1320.1,32.8 L1321.3,33.3 L1322.6,33.9 L1323.9,34.4 L1325.2,35.0 L1326.4,35.5 L1327.7,36.1 L1329.0,36.7 L1330.2,37.2 L1331.5,37.8 L1332.8,38.3 L1334.1,38.9 L1335.4,39.4 L1336.7,39.9 L1338.1,40.4 L1339.4,40.8 L1340.8,41.3 L1342.1,41.7 L1343.5,42.1 L1344.8,42.5 L1346.2,42.9 L1347.6,43.3 L1349.0,43.6 L1350.4,43.9 L1351.8,44.2 L1353.2,44.5 L1354.6,44.7 L1356.0,44.9 L1357.4,45.1 L1358.8,45.3 L1360.2,45.5 L1361.6,45.6 L1363.0,45.7 L1364.4,45.8 L1365.8,45.8 L1367.2,45.8 L1368.6,45.8 L1370.0,45.8 L1371.3,45.7 L1372.7,45.6 L1374.1,45.5 L1375.5,45.3 L1376.8,45.1 L1378.2,44.9 L1379.5,44.7 L1380.9,44.4 L1382.2,44.1 L1383.5,43.7 L1384.8,43.3 L1386.1,42.9 L1387.4,42.5 L1388.7,42.0 L1390.0,41.5 L1391.3,41.0 L1392.6,40.5 L1393.8,39.9 L1395.1,39.3 L1396.4,38.7 L1397.6,38.1 L1398.9,37.5 L1400.1,36.9 L1401.4,36.3 L1402.7,35.7 L1403.9,35.1 L1405.2,34.4 L1406.5,33.8 L1407.8,33.2 L1409.1,32.6 L1410.3,32.0 L1411.6,31.4 L1413.0,30.9 L1414.3,30.3 L1415.6,29.8 L1416.9,29.3 L1418.3,28.8 L1419.6,28.4 L1421.0,27.9 L1422.4,27.6 L1423.8,27.2 L1425.2,26.9 L1426.7,26.6 L1428.1,26.3 L1429.6,26.1 L1431.0,26.0 L1432.5,25.9 L1433.9,25.9 L1435.3,25.9 L1436.7,26.1 L1438.1,26.3 L1439.4,26.6 L1440.7,26.9 L1442.0,27.4 L1443.2,28.0 L1444.3,28.7 L1445.5,29.5 L1446.5,30.3 L1447.5,31.2 L1448.4,32.2 L1449.3,33.3 L1450.1,34.4 L1450.9,35.5 L1451.6,36.7 L1452.3,37.9 L1452.9,39.1 L1453.5,40.4 L1454.1,41.7 L1454.6,43.0 L1455.1,44.3 L1455.6,45.6 L1456.1,47.0 L1456.5,48.3 L1457.0,49.7 L1457.4,51.0 L1457.8,52.4 L1458.3,53.8 L1458.7,55.1 L1459.1,56.5 L1459.6,57.8 L1460.1,59.2 L1460.5,60.5 L1461.0,61.9 L1461.5,63.2 L1462.0,64.5 L1462.5,65.8 L1463.0,67.2 L1463.5,68.5 L1464.0,69.8 L1464.5,71.1 L1465.0,72.4 L1465.5,73.7 L1466.0,75.0 L1466.5,76.3 L1467.0,77.6 L1467.5,79.0 L1468.0,80.3 L1468.5,81.6 L1469.1,82.9 L1469.6,84.2 L1470.1,85.5 L1470.6,86.8 L1471.0,88.1 L1471.5,89.4 L1472.0,90.7 L1472.5,92.0 L1473.0,93.3 L1473.4,94.6 L1473.9,95.9 L1474.4,97.2 L1474.8,98.5 L1475.2,99.8 L1475.7,101.2 L1476.1,102.5 L1476.5,103.8 L1476.9,105.2 L1477.3,106.5 L1477.7,107.8 L1478.0,109.2 L1478.4,110.5 L1478.7,111.9 L1479.1,113.2 L1479.4,114.6 L1479.7,115.9 L1480.0,117.3 L1480.3,118.7 L1480.6,120.1 L1480.8,121.4 L1481.1,122.8 L1481.4,124.2 L1481.6,125.6 L1481.9,127.0 L1482.1,128.3 L1482.4,129.7 L1482.6,131.1 L1482.8,132.5 L1483.1,133.9 L1483.3,135.3 L1483.5,136.7 L1483.7,138.1 L1483.9,139.4 L1484.2,140.8 L1484.4,142.2 L1484.6,143.6 L1484.8,145.0 L1485.0,146.4 L1485.2,147.8 L1485.4,149.1 L1485.6,150.5 L1485.8,151.9 L1486.0,153.3 L1486.2,154.7 L1486.4,156.1 L1486.6,157.5 L1486.8,158.8 L1487.0,160.2 L1487.2,161.6 L1487.4,163.0 L1487.6,164.4 L1487.8,165.8 L1488.0,167.1 L1488.1,168.5 L1488.3,169.9 L1488.5,171.3 L1488.7,172.7 L1488.9,174.1 L1489.1,175.4 L1489.2,176.8 L1489.4,178.2 L1489.6,179.6 L1489.8,181.0 L1490.0,182.4 L1490.1,183.8 L1490.3,185.1 L1490.5,186.5 L1490.7,187.9 L1490.8,189.3 L1491.0,190.7 L1491.2,192.1 L1491.4,193.5 L1491.5,194.8 L1491.7,196.2 L1491.9,197.6 L1492.0,199.0 L1492.2,200.4 L1492.4,201.8 L1492.6,203.2 L1492.7,204.6 L1492.9,205.9 L1493.1,207.3 L1493.2,208.7 L1493.4,210.1 L1493.6,211.5 L1493.7,212.9 L1493.9,214.3 L1494.0,215.0" stroke="#000000" stroke-width="5.5" fill="none" stroke-linejoin="round" stroke-linecap="round" clip-path="url(#cb)"/>
<rect x="902.7" y="26.4" width="589.5999999999999" height="474.8" fill="none" stroke="#000" stroke-width="4.2" stroke-linejoin="miter"/>
<path d="M991.90,501.2 V496.2 M991.90,26.4 V31.4 M1081.10,501.2 V491.2 M1081.10,26.4 V36.4 M1170.30,501.2 V496.2 M1170.30,26.4 V31.4 M1259.50,501.2 V491.2 M1259.50,26.4 V36.4 M1348.70,501.2 V496.2 M1348.70,26.4 V31.4 M1437.90,501.2 V491.2 M1437.90,26.4 V36.4 M902.7,453.72 H907.7 M1492.3,453.72 H1487.3 M902.7,406.24 H912.7 M1492.3,406.24 H1482.3 M902.7,358.76 H907.7 M1492.3,358.76 H1487.3 M902.7,311.28 H912.7 M1492.3,311.28 H1482.3 M902.7,263.80 H907.7 M1492.3,263.80 H1487.3 M902.7,216.32 H912.7 M1492.3,216.32 H1482.3 M902.7,168.84 H907.7 M1492.3,168.84 H1487.3 M902.7,121.36 H912.7 M1492.3,121.36 H1482.3 M902.7,73.88 H907.7 M1492.3,73.88 H1487.3" stroke="#000" stroke-width="4.2" fill="none"/>
<g style="font-family:'Liberation Serif','Times New Roman',serif;font-weight:bold" fill="#000"><text x="128.6" y="524.8" font-size="55.5" text-anchor="end" >0.0</text>
<text x="128.6" y="427.6" font-size="55.5" text-anchor="end" >0.2</text>
<text x="128.6" y="330.40000000000003" font-size="55.5" text-anchor="end" >0.4</text>
<text x="128.6" y="233.2" font-size="55.5" text-anchor="end" >0.6</text>
<text x="128.6" y="136.0" font-size="55.5" text-anchor="end" >0.8</text>
<text x="128.6" y="38.8" font-size="55.5" text-anchor="end" >1.0</text>
<text x="138.0" y="562.5" font-size="55.5" text-anchor="middle" >1</text>
<text x="322.3" y="562.5" font-size="55.5" text-anchor="middle" >2</text>
<text x="506.6" y="562.5" font-size="55.5" text-anchor="middle" >3</text>
<text x="690.9000000000001" y="562.5" font-size="55.5" text-anchor="middle" >4</text>
<text x="418" y="606.7" font-size="55.1" text-anchor="middle" >Frequency(THz)</text>
<text transform="translate(48.4,258.2) rotate(-90)" font-size="55" text-anchor="middle">PCR</text>
<text x="-1.3" y="80.2" font-size="55.5" text-anchor="start" >(a)</text>
<line x1="330.70" y1="160.10" x2="402.1" y2="160.10" stroke="#000000" stroke-width="5.5" stroke-linecap="round"/>
<text y="170.60" font-size="39.3"><tspan x="410.20">h</tspan><tspan x="432.40" y="178.60">2</tspan><tspan x="451.90" y="170.60">=</tspan><tspan x="475.90">1</tspan><tspan x="497.00">0</tspan><tspan x="515.45" font-weight="normal" textLength="26.12" lengthAdjust="spacingAndGlyphs">μ</tspan><tspan x="541.80">m</tspan></text>
<line x1="330.70" y1="225.08" x2="402.1" y2="225.08" stroke="#00ff00" stroke-width="5.5" stroke-linecap="round"/>
<text y="235.58" font-size="39.3"><tspan x="412.40">h</tspan><tspan x="434.60" y="243.58">2</tspan><tspan x="454.10" y="235.58">=</tspan><tspan x="478.10">1</tspan><tspan x="499.20">1</tspan><tspan x="517.65" font-weight="normal" textLength="26.12" lengthAdjust="spacingAndGlyphs">μ</tspan><tspan x="544.00">m</tspan></text>
<line x1="330.70" y1="290.06" x2="402.1" y2="290.06" stroke="#ff0000" stroke-width="5.5" stroke-linecap="round"/>
<text y="300.56" font-size="39.3"><tspan x="412.40">h</tspan><tspan x="434.60" y="308.56">2</tspan><tspan x="454.10" y="300.56">=</tspan><tspan x="478.10">1</tspan><tspan x="499.20">2</tspan><tspan x="517.65" font-weight="normal" textLength="26.12" lengthAdjust="spacingAndGlyphs">μ</tspan><tspan x="544.00">m</tspan></text>
<line x1="330.70" y1="355.04" x2="402.1" y2="355.04" stroke="#0000ff" stroke-width="5.5" stroke-linecap="round"/>
<text y="365.54" font-size="39.3"><tspan x="412.40">h</tspan><tspan x="434.60" y="373.54">2</tspan><tspan x="454.10" y="365.54">=</tspan><tspan x="478.10">1</tspan><tspan x="499.20">3</tspan><tspan x="517.65" font-weight="normal" textLength="26.12" lengthAdjust="spacingAndGlyphs">μ</tspan><tspan x="544.00">m</tspan></text>
<line x1="330.70" y1="420.02" x2="402.1" y2="420.02" stroke="#ff8000" stroke-width="5.5" stroke-linecap="round"/>
<text y="430.52" font-size="39.3"><tspan x="412.40">h</tspan><tspan x="434.60" y="438.52">2</tspan><tspan x="454.10" y="430.52">=</tspan><tspan x="478.10">1</tspan><tspan x="499.20">4</tspan><tspan x="517.65" font-weight="normal" textLength="26.12" lengthAdjust="spacingAndGlyphs">μ</tspan><tspan x="544.00">m</tspan></text>
<text x="892.5" y="516.8" font-size="53.8" text-anchor="end" >0.0</text>
<text x="892.5" y="421.84000000000003" font-size="53.8" text-anchor="end" >0.2</text>
<text x="892.5" y="326.88" font-size="53.8" text-anchor="end" >0.4</text>
<text x="892.5" y="231.91999999999993" font-size="53.8" text-anchor="end" >0.6</text>
<text x="892.5" y="136.95999999999995" font-size="53.8" text-anchor="end" >0.8</text>
<text x="892.5" y="41.99999999999998" font-size="53.8" text-anchor="end" >1.0</text>
<text x="902.7" y="554" font-size="53.8" text-anchor="middle" >1</text>
<text x="1081.1000000000001" y="554" font-size="53.8" text-anchor="middle" >2</text>
<text x="1259.5" y="554" font-size="53.8" text-anchor="middle" >3</text>
<text x="1437.9" y="554" font-size="53.8" text-anchor="middle" >4</text>
<text x="1189.5" y="596.1" font-size="53.7" text-anchor="middle" >Frequency(THz)</text>
<text transform="translate(814.8,263) rotate(-90)" font-size="53.7" text-anchor="middle">PCR</text>
<text x="766.7" y="83.7" font-size="52.4" text-anchor="start" >(b)</text>
<line x1="1072.7" y1="156.60" x2="1159.4" y2="156.60" stroke="#ff8000" stroke-width="5.5" stroke-linecap="round"/>
<text y="169.80" font-size="39.3"><tspan x="1170.0">l</tspan><tspan x="1181.3" y="181.20">1</tspan><tspan x="1200.0" y="169.80">=</tspan><tspan x="1224.2">2</tspan><tspan x="1244.3">1</tspan><tspan x="1263.35" font-weight="normal" textLength="26.12" lengthAdjust="spacingAndGlyphs">μ</tspan><tspan x="1288.9">m</tspan></text>
<line x1="1072.7" y1="223.20" x2="1159.4" y2="223.20" stroke="#0000ff" stroke-width="5.5" stroke-linecap="round"/>
<text y="236.40" font-size="39.3"><tspan x="1170.0">l</tspan><tspan x="1181.3" y="247.80">1</tspan><tspan x="1200.0" y="236.40">=</tspan><tspan x="1224.2">2</tspan><tspan x="1244.3">2</tspan><tspan x="1263.35" font-weight="normal" textLength="26.12" lengthAdjust="spacingAndGlyphs">μ</tspan><tspan x="1288.9">m</tspan></text>
<line x1="1072.7" y1="289.80" x2="1159.4" y2="289.80" stroke="#ff0000" stroke-width="5.5" stroke-linecap="round"/>
<text y="303.00" font-size="39.3"><tspan x="1170.0">l</tspan><tspan x="1181.3" y="314.40">1</tspan><tspan x="1200.0" y="303.00">=</tspan><tspan x="1224.2">2</tspan><tspan x="1244.3">3</tspan><tspan x="1263.35" font-weight="normal" textLength="26.12" lengthAdjust="spacingAndGlyphs">μ</tspan><tspan x="1288.9">m</tspan></text>
<line x1="1072.7" y1="356.40" x2="1159.4" y2="356.40" stroke="#00ff00" stroke-width="5.5" stroke-linecap="round"/>
<text y="369.60" font-size="39.3"><tspan x="1170.0">l</tspan><tspan x="1181.3" y="381.00">1</tspan><tspan x="1200.0" y="369.60">=</tspan><tspan x="1224.2">2</tspan><tspan x="1244.3">4</tspan><tspan x="1263.35" font-weight="normal" textLength="26.12" lengthAdjust="spacingAndGlyphs">μ</tspan><tspan x="1288.9">m</tspan></text>
<line x1="1072.7" y1="423.00" x2="1159.4" y2="423.00" stroke="#000000" stroke-width="5.5" stroke-linecap="round"/>
<text y="436.20" font-size="39.3"><tspan x="1170.0">l</tspan><tspan x="1181.3" y="447.60">1</tspan><tspan x="1200.0" y="436.20">=</tspan><tspan x="1224.2">2</tspan><tspan x="1244.3">5</tspan><tspan x="1263.35" font-weight="normal" textLength="26.12" lengthAdjust="spacingAndGlyphs">μ</tspan><tspan x="1288.9">m</tspan></text></g>
</svg></body></html>
